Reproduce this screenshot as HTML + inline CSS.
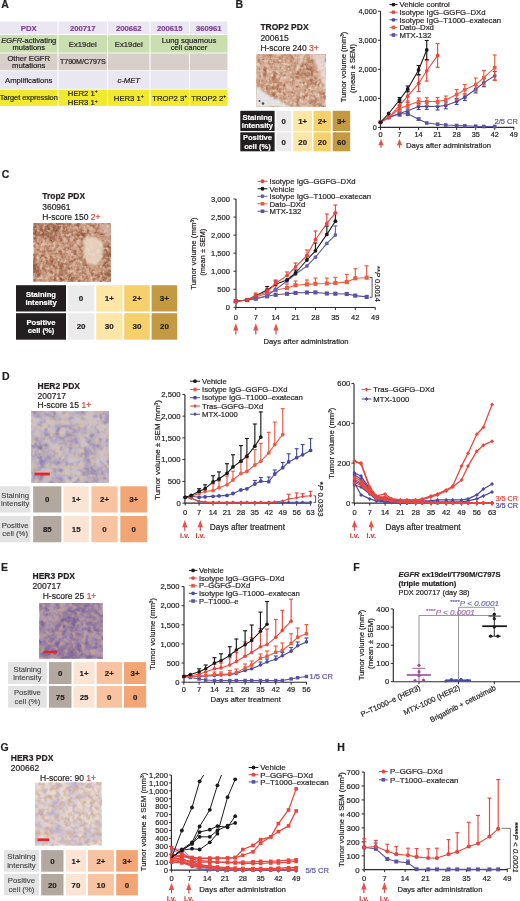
<!DOCTYPE html>
<html><head><meta charset="utf-8"><title>Figure</title><style>html,body{margin:0;padding:0;background:#fff;}body{width:520px;height:901px;overflow:hidden;}svg{display:block;}</style></head><body>
<svg width="520" height="901" viewBox="0 0 520 901" font-family='"Liberation Sans", Arial, Helvetica, sans-serif' font-size="7.5" fill="#231f20"><defs><filter id="texB0" x="0" y="0" width="1" height="1" color-interpolation-filters="sRGB"><feTurbulence type="fractalNoise" baseFrequency="0.05" numOctaves="2" seed="3"/><feColorMatrix type="matrix" values="0 0 0 0 0.659 0 0 0 0 0.408 0 0 0 0 0.282 1.8 0 0 0 -0.8"/></filter><filter id="texB1" x="0" y="0" width="1" height="1" color-interpolation-filters="sRGB"><feTurbulence type="fractalNoise" baseFrequency="0.22" numOctaves="2" seed="4"/><feColorMatrix type="matrix" values="0 0 0 0 0.612 0 0 0 0 0.361 0 0 0 0 0.243 2.1 0 0 0 -0.9"/></filter><filter id="texB2" x="0" y="0" width="1" height="1" color-interpolation-filters="sRGB"><feTurbulence type="fractalNoise" baseFrequency="0.3" numOctaves="2" seed="5"/><feColorMatrix type="matrix" values="0 0 0 0 0.941 0 0 0 0 0.863 0 0 0 0 0.800 0 2.0 0 0 -0.85"/></filter><filter id="texC0" x="0" y="0" width="1" height="1" color-interpolation-filters="sRGB"><feTurbulence type="fractalNoise" baseFrequency="0.05" numOctaves="2" seed="6"/><feColorMatrix type="matrix" values="0 0 0 0 0.541 0 0 0 0 0.298 0 0 0 0 0.188 1.9 0 0 0 -0.8"/></filter><filter id="texC1" x="0" y="0" width="1" height="1" color-interpolation-filters="sRGB"><feTurbulence type="fractalNoise" baseFrequency="0.22" numOctaves="2" seed="7"/><feColorMatrix type="matrix" values="0 0 0 0 0.541 0 0 0 0 0.290 0 0 0 0 0.188 2.2 0 0 0 -0.9"/></filter><filter id="texC2" x="0" y="0" width="1" height="1" color-interpolation-filters="sRGB"><feTurbulence type="fractalNoise" baseFrequency="0.3" numOctaves="2" seed="8"/><feColorMatrix type="matrix" values="0 0 0 0 0.925 0 0 0 0 0.839 0 0 0 0 0.769 0 2.0 0 0 -0.85"/></filter><filter id="texD0" x="0" y="0" width="1" height="1" color-interpolation-filters="sRGB"><feTurbulence type="fractalNoise" baseFrequency="0.06" numOctaves="2" seed="9"/><feColorMatrix type="matrix" values="0 0 0 0 0.565 0 0 0 0 0.518 0 0 0 0 0.706 2.0 0 0 0 -0.8"/></filter><filter id="texD1" x="0" y="0" width="1" height="1" color-interpolation-filters="sRGB"><feTurbulence type="fractalNoise" baseFrequency="0.16" numOctaves="2" seed="10"/><feColorMatrix type="matrix" values="0 0 0 0 0.502 0 0 0 0 0.447 0 0 0 0 0.659 1.8 0 0 0 -0.8"/></filter><filter id="texD2" x="0" y="0" width="1" height="1" color-interpolation-filters="sRGB"><feTurbulence type="fractalNoise" baseFrequency="0.2" numOctaves="2" seed="11"/><feColorMatrix type="matrix" values="0 0 0 0 0.847 0 0 0 0 0.761 0 0 0 0 0.659 0 2.2 0 0 -0.85"/></filter><filter id="texE0" x="0" y="0" width="1" height="1" color-interpolation-filters="sRGB"><feTurbulence type="fractalNoise" baseFrequency="0.05" numOctaves="2" seed="12"/><feColorMatrix type="matrix" values="0 0 0 0 0.478 0 0 0 0 0.369 0 0 0 0 0.596 2.0 0 0 0 -0.7"/></filter><filter id="texE1" x="0" y="0" width="1" height="1" color-interpolation-filters="sRGB"><feTurbulence type="fractalNoise" baseFrequency="0.18" numOctaves="2" seed="13"/><feColorMatrix type="matrix" values="0 0 0 0 0.431 0 0 0 0 0.337 0 0 0 0 0.580 2.0 0 0 0 -0.8"/></filter><filter id="texE2" x="0" y="0" width="1" height="1" color-interpolation-filters="sRGB"><feTurbulence type="fractalNoise" baseFrequency="0.22" numOctaves="2" seed="14"/><feColorMatrix type="matrix" values="0 0 0 0 0.792 0 0 0 0 0.659 0 0 0 0 0.565 0 2.0 0 0 -0.8"/></filter><filter id="texG0" x="0" y="0" width="1" height="1" color-interpolation-filters="sRGB"><feTurbulence type="fractalNoise" baseFrequency="0.05" numOctaves="2" seed="15"/><feColorMatrix type="matrix" values="0 0 0 0 0.706 0 0 0 0 0.659 0 0 0 0 0.824 1.8 0 0 0 -0.75"/></filter><filter id="texG1" x="0" y="0" width="1" height="1" color-interpolation-filters="sRGB"><feTurbulence type="fractalNoise" baseFrequency="0.18" numOctaves="2" seed="16"/><feColorMatrix type="matrix" values="0 0 0 0 0.667 0 0 0 0 0.612 0 0 0 0 0.784 1.8 0 0 0 -0.85"/></filter><filter id="texG2" x="0" y="0" width="1" height="1" color-interpolation-filters="sRGB"><feTurbulence type="fractalNoise" baseFrequency="0.22" numOctaves="2" seed="17"/><feColorMatrix type="matrix" values="0 0 0 0 0.816 0 0 0 0 0.659 0 0 0 0 0.518 0 2.0 0 0 -0.85"/></filter><filter id="soft" x="-5%" y="-5%" width="110%" height="110%"><feGaussianBlur stdDeviation="0.8"/></filter></defs><text x="1.3" y="7.8" font-size="10.5" font-weight="bold" stroke="#231f20" stroke-width="0.2">A</text>
<rect x="0" y="21.5" width="57.5" height="12.7" fill="#ebe7f1" />
<text x="28.75" y="30.62" font-size="7.7" fill="#7a3f96" text-anchor="middle" font-weight="bold" stroke="#7a3f96" stroke-width="0.2">PDX</text>
<rect x="58.5" y="21.5" width="48.5" height="12.7" fill="#ebe7f1" />
<text x="82.75" y="30.62" font-size="7.7" fill="#7a3f96" text-anchor="middle" font-weight="bold" stroke="#7a3f96" stroke-width="0.2">200717</text>
<rect x="108" y="21.5" width="41.5" height="12.7" fill="#ebe7f1" />
<text x="128.75" y="30.62" font-size="7.7" fill="#7a3f96" text-anchor="middle" font-weight="bold" stroke="#7a3f96" stroke-width="0.2">200662</text>
<rect x="150.5" y="21.5" width="38.5" height="12.7" fill="#ebe7f1" />
<text x="169.75" y="30.62" font-size="7.7" fill="#7a3f96" text-anchor="middle" font-weight="bold" stroke="#7a3f96" stroke-width="0.2">200615</text>
<rect x="190" y="21.5" width="37.5" height="12.7" fill="#ebe7f1" />
<text x="208.75" y="30.62" font-size="7.7" fill="#7a3f96" text-anchor="middle" font-weight="bold" stroke="#7a3f96" stroke-width="0.2">360961</text>
<rect x="0" y="35" width="57.5" height="17.6" fill="#c9dfb0" />
<text x="28.75" y="42.8" text-anchor="middle" stroke="#231f20" stroke-width="0.2"><tspan font-style="italic">EGFR</tspan>-activating</text>
<text x="28.75" y="50.2" text-anchor="middle" stroke="#231f20" stroke-width="0.2">mutations</text>
<rect x="58.5" y="35" width="48.5" height="17.6" fill="#c9dfb0" />
<text x="82.75" y="46.57" font-size="7.7" text-anchor="middle" stroke="#231f20" stroke-width="0.2">Ex19del</text>
<rect x="108" y="35" width="41.5" height="17.6" fill="#c9dfb0" />
<text x="128.75" y="46.57" font-size="7.7" text-anchor="middle" stroke="#231f20" stroke-width="0.2">Ex19del</text>
<rect x="150.5" y="35" width="77" height="17.6" fill="#c9dfb0" />
<text x="189" y="42.77" font-size="7.7" text-anchor="middle" stroke="#231f20" stroke-width="0.2">Lung squamous</text>
<text x="189" y="50.37" font-size="7.7" text-anchor="middle" stroke="#231f20" stroke-width="0.2">cell cancer</text>
<rect x="0" y="53.4" width="57.5" height="16.9" fill="#d7cfc9" />
<text x="28.75" y="60.82" font-size="7.7" text-anchor="middle" stroke="#231f20" stroke-width="0.2">Other EGFR</text>
<text x="28.75" y="68.42" font-size="7.7" text-anchor="middle" stroke="#231f20" stroke-width="0.2">mutations</text>
<rect x="58.5" y="53.4" width="48.5" height="16.9" fill="#d7cfc9" />
<text x="82.75" y="64.41" font-size="7.1" text-anchor="middle" stroke="#231f20" stroke-width="0.2">T790M/C797S</text>
<rect x="108" y="53.4" width="41.5" height="16.9" fill="#d7cfc9" />
<rect x="150.5" y="53.4" width="38.5" height="16.9" fill="#d7cfc9" />
<rect x="190" y="53.4" width="37.5" height="16.9" fill="#d7cfc9" />
<rect x="0" y="71.1" width="57.5" height="17.7" fill="#e9e7f1" />
<text x="28.75" y="82.72" font-size="7.7" text-anchor="middle" stroke="#231f20" stroke-width="0.2">Amplifications</text>
<rect x="58.5" y="71.1" width="48.5" height="17.7" fill="#e9e7f1" />
<rect x="108" y="71.1" width="41.5" height="17.7" fill="#e9e7f1" />
<text x="128.75" y="82.72" font-size="7.7" text-anchor="middle" font-style="italic" stroke="#231f20" stroke-width="0.2">c-MET</text>
<rect x="150.5" y="71.1" width="38.5" height="17.7" fill="#e9e7f1" />
<rect x="190" y="71.1" width="37.5" height="17.7" fill="#e9e7f1" />
<rect x="0" y="89.6" width="57.5" height="16.3" fill="#f1e92e" />
<text x="28.75" y="100.4" font-size="7.35" text-anchor="middle" stroke="#231f20" stroke-width="0.2">Target expression</text>
<rect x="58.5" y="89.6" width="48.5" height="16.3" fill="#f1e92e" />
<text x="82.75" y="95.82" font-size="7.7" text-anchor="middle" stroke="#231f20" stroke-width="0.2">HER2 1<tspan font-size="5" dy="-2.6">+</tspan></text>
<text x="82.75" y="105.22" font-size="7.7" text-anchor="middle" stroke="#231f20" stroke-width="0.2">HER3 1<tspan font-size="5" dy="-2.6">+</tspan></text>
<rect x="108" y="89.6" width="41.5" height="16.3" fill="#f1e92e" />
<text x="128.75" y="100.52" font-size="7.7" text-anchor="middle" stroke="#231f20" stroke-width="0.2">HER3 1<tspan font-size="5" dy="-2.6">+</tspan></text>
<rect x="150.5" y="89.6" width="38.5" height="16.3" fill="#f1e92e" />
<text x="169.75" y="100.52" font-size="7.7" text-anchor="middle" stroke="#231f20" stroke-width="0.2">TROP2 3<tspan font-size="5" dy="-2.6">+</tspan></text>
<rect x="190" y="89.6" width="37.5" height="16.3" fill="#f1e92e" />
<text x="208.75" y="100.52" font-size="7.7" text-anchor="middle" stroke="#231f20" stroke-width="0.2">TROP2 2<tspan font-size="5" dy="-2.6">+</tspan></text>
<text x="235.6" y="7.8" font-size="10.5" font-weight="bold" stroke="#231f20" stroke-width="0.2">B</text>
<text x="260.4" y="30" font-size="8.5" font-weight="bold" stroke="#231f20" stroke-width="0.2">TROP2 PDX</text>
<text x="260.4" y="40.6" font-size="8.5" stroke="#231f20" stroke-width="0.2">200615</text>
<text x="260.4" y="50.6" font-size="8.5" stroke="#231f20" stroke-width="0.2">H-score 240 <tspan fill="#d9453d" stroke="#d9453d">3+</tspan></text>
<g><rect x="256.2" y="54.2" width="69.2" height="52.5" fill="#d4ac94"/><rect x="256.2" y="54.2" width="69.2" height="52.5" filter="url(#texB0)"/><rect x="256.2" y="54.2" width="69.2" height="52.5" filter="url(#texB1)"/><rect x="256.2" y="54.2" width="69.2" height="52.5" filter="url(#texB2)"/><clipPath id="cptexB"><rect x="256.2" y="54.2" width="69.2" height="52.5"/></clipPath><g clip-path="url(#cptexB)"><g filter="url(#soft)" opacity="0.88"><path d="M255,84.5 C261,89.5 265,93.5 270,96 C276,99 282,102.5 291,107.5 L255,107.5 Z" fill="#e8eef0"/><path d="M311,53 L326,53 L326,92 C323.5,84 320.5,76 317,68 C315,62 313,57 311,53 Z" fill="#efe2e4" opacity="0.85"/><path d="M304,53 C301.5,60 298.5,66 295.5,72" stroke="#f6ece4" stroke-width="2" fill="none"/></g></g><circle cx="259.5" cy="101" r="1.1" fill="#6a5048"/><circle cx="263" cy="103.5" r="1.3" fill="#5a4038"/></g>
<rect x="240.3" y="110.8" width="34.3" height="20.2" fill="#231f20" />
<text x="257.45" y="119.53" font-size="7.6" fill="#ffffff" text-anchor="middle" font-weight="bold" stroke="#ffffff" stroke-width="0.2">Staining</text>
<text x="257.45" y="127.74" font-size="7.6" fill="#ffffff" text-anchor="middle" font-weight="bold" stroke="#ffffff" stroke-width="0.2">intensity</text>
<rect x="240.3" y="132.3" width="34.3" height="19" fill="#231f20" />
<text x="257.45" y="140.43" font-size="7.6" fill="#ffffff" text-anchor="middle" font-weight="bold" stroke="#ffffff" stroke-width="0.2">Positive</text>
<text x="257.45" y="148.64" font-size="7.6" fill="#ffffff" text-anchor="middle" font-weight="bold" stroke="#ffffff" stroke-width="0.2">cell (%)</text>
<rect x="276.3" y="110.8" width="15" height="20.2" fill="#ebebeb" />
<text x="283.8" y="123.74" font-size="7.9" text-anchor="middle" font-weight="bold" stroke="#231f20" stroke-width="0.2">0</text>
<rect x="276.3" y="132.3" width="15" height="19" fill="#ebebeb" />
<text x="283.8" y="144.64" font-size="7.9" text-anchor="middle" font-weight="bold" stroke="#231f20" stroke-width="0.2">0</text>
<rect x="293.3" y="110.8" width="18.7" height="20.2" fill="#fde6a6" />
<text x="302.65" y="123.74" font-size="7.9" text-anchor="middle" font-weight="bold" stroke="#231f20" stroke-width="0.2">1+</text>
<rect x="293.3" y="132.3" width="18.7" height="19" fill="#fde6a6" />
<text x="302.65" y="144.64" font-size="7.9" text-anchor="middle" font-weight="bold" stroke="#231f20" stroke-width="0.2">20</text>
<rect x="313.5" y="110.8" width="17.3" height="20.2" fill="#f6d06a" />
<text x="322.15" y="123.74" font-size="7.9" text-anchor="middle" font-weight="bold" stroke="#231f20" stroke-width="0.2">2+</text>
<rect x="313.5" y="132.3" width="17.3" height="19" fill="#f6d06a" />
<text x="322.15" y="144.64" font-size="7.9" text-anchor="middle" font-weight="bold" stroke="#231f20" stroke-width="0.2">20</text>
<rect x="332.7" y="110.8" width="17.5" height="20.2" fill="#c39a42" />
<text x="341.45" y="123.74" font-size="7.9" text-anchor="middle" font-weight="bold" stroke="#231f20" stroke-width="0.2">3+</text>
<rect x="332.7" y="132.3" width="17.5" height="19" fill="#c39a42" />
<text x="341.45" y="144.64" font-size="7.9" text-anchor="middle" font-weight="bold" stroke="#231f20" stroke-width="0.2">60</text>
<line x1="380.5" y1="11.2" x2="380.5" y2="127.9" stroke="#2b2b2b" stroke-width="1.15" />
<line x1="378" y1="127.4" x2="380.5" y2="127.4" stroke="#2b2b2b" stroke-width="1" />
<text x="376.8" y="130.03" font-size="7.3" text-anchor="end" stroke="#231f20" stroke-width="0.2">0</text>
<line x1="378" y1="98.35" x2="380.5" y2="98.35" stroke="#2b2b2b" stroke-width="1" />
<text x="376.8" y="100.98" font-size="7.3" text-anchor="end" stroke="#231f20" stroke-width="0.2">1,000</text>
<line x1="378" y1="69.3" x2="380.5" y2="69.3" stroke="#2b2b2b" stroke-width="1" />
<text x="376.8" y="71.93" font-size="7.3" text-anchor="end" stroke="#231f20" stroke-width="0.2">2,000</text>
<line x1="378" y1="40.25" x2="380.5" y2="40.25" stroke="#2b2b2b" stroke-width="1" />
<text x="376.8" y="42.88" font-size="7.3" text-anchor="end" stroke="#231f20" stroke-width="0.2">3,000</text>
<line x1="378" y1="11.2" x2="380.5" y2="11.2" stroke="#2b2b2b" stroke-width="1" />
<text x="376.8" y="13.83" font-size="7.3" text-anchor="end" stroke="#231f20" stroke-width="0.2">4,000</text>
<line x1="380.5" y1="127.4" x2="514.2" y2="127.4" stroke="#2b2b2b" stroke-width="1.15" />
<line x1="380.5" y1="127.4" x2="380.5" y2="129.9" stroke="#2b2b2b" stroke-width="1" />
<text x="380.5" y="137.03" font-size="7.3" text-anchor="middle" stroke="#231f20" stroke-width="0.2">0</text>
<line x1="399.54" y1="127.4" x2="399.54" y2="129.9" stroke="#2b2b2b" stroke-width="1" />
<text x="399.54" y="137.03" font-size="7.3" text-anchor="middle" stroke="#231f20" stroke-width="0.2">7</text>
<line x1="418.58" y1="127.4" x2="418.58" y2="129.9" stroke="#2b2b2b" stroke-width="1" />
<text x="418.58" y="137.03" font-size="7.3" text-anchor="middle" stroke="#231f20" stroke-width="0.2">14</text>
<line x1="437.62" y1="127.4" x2="437.62" y2="129.9" stroke="#2b2b2b" stroke-width="1" />
<text x="437.62" y="137.03" font-size="7.3" text-anchor="middle" stroke="#231f20" stroke-width="0.2">21</text>
<line x1="456.66" y1="127.4" x2="456.66" y2="129.9" stroke="#2b2b2b" stroke-width="1" />
<text x="456.66" y="137.03" font-size="7.3" text-anchor="middle" stroke="#231f20" stroke-width="0.2">28</text>
<line x1="475.7" y1="127.4" x2="475.7" y2="129.9" stroke="#2b2b2b" stroke-width="1" />
<text x="475.7" y="137.03" font-size="7.3" text-anchor="middle" stroke="#231f20" stroke-width="0.2">35</text>
<line x1="494.74" y1="127.4" x2="494.74" y2="129.9" stroke="#2b2b2b" stroke-width="1" />
<text x="494.74" y="137.03" font-size="7.3" text-anchor="middle" stroke="#231f20" stroke-width="0.2">42</text>
<line x1="513.78" y1="127.4" x2="513.78" y2="129.9" stroke="#2b2b2b" stroke-width="1" />
<text x="513.78" y="137.03" font-size="7.3" text-anchor="middle" stroke="#231f20" stroke-width="0.2">49</text>
<text transform="translate(346.01,67) rotate(-90)" font-size="7.6" text-anchor="middle" stroke="#231f20" stroke-width="0.2">Tumor volume (mm³)</text>
<text transform="translate(355.41,68.5) rotate(-90)" font-size="7.6" text-anchor="middle" stroke="#231f20" stroke-width="0.2">(mean ± SEM)</text>
<line x1="381" y1="144.81" x2="381" y2="147.8" stroke="#c8524c" stroke-width="1.2"/>
<polygon points="381,138.9 383.65,145.31 378.35,145.31" fill="#e6524a"/>
<line x1="399.5" y1="144.81" x2="399.5" y2="147.8" stroke="#c8524c" stroke-width="1.2"/>
<polygon points="399.5,138.9 402.15,145.31 396.85,145.31" fill="#e6524a"/>
<text x="406" y="148.2" font-size="7.7" stroke="#231f20" stroke-width="0.2">Days after administration</text>
<line x1="399.54" y1="113.8" x2="399.54" y2="112" stroke="#5b52a3" stroke-width="1.15" />
<line x1="397.54" y1="112" x2="401.54" y2="112" stroke="#5b52a3" stroke-width="1.15" />
<line x1="399.54" y1="113.8" x2="399.54" y2="115.6" stroke="#5b52a3" stroke-width="1.15" />
<line x1="397.54" y1="115.6" x2="401.54" y2="115.6" stroke="#5b52a3" stroke-width="1.15" />
<line x1="407.7" y1="113.8" x2="407.7" y2="112" stroke="#5b52a3" stroke-width="1.15" />
<line x1="405.7" y1="112" x2="409.7" y2="112" stroke="#5b52a3" stroke-width="1.15" />
<line x1="407.7" y1="113.8" x2="407.7" y2="115.6" stroke="#5b52a3" stroke-width="1.15" />
<line x1="405.7" y1="115.6" x2="409.7" y2="115.6" stroke="#5b52a3" stroke-width="1.15" />
<line x1="418.58" y1="119.2" x2="418.58" y2="118" stroke="#5b52a3" stroke-width="1.15" />
<line x1="416.58" y1="118" x2="420.58" y2="118" stroke="#5b52a3" stroke-width="1.15" />
<line x1="418.58" y1="119.2" x2="418.58" y2="120.4" stroke="#5b52a3" stroke-width="1.15" />
<line x1="416.58" y1="120.4" x2="420.58" y2="120.4" stroke="#5b52a3" stroke-width="1.15" />
<polyline points="380.5,122.3 388.66,117.4 399.54,113.8 407.7,113.8 418.58,119.2 426.74,123 437.62,124.2 445.78,125 456.66,125.5 464.82,125.8 475.7,126.2 483.86,126.5 494.74,126.5" fill="none" stroke="#5b52a3" stroke-width="1.1" stroke-linejoin="round" />
<rect x="378.7" y="120.5" width="3.6" height="3.6" fill="#5b52a3"/>
<rect x="386.86" y="115.6" width="3.6" height="3.6" fill="#5b52a3"/>
<rect x="397.74" y="112" width="3.6" height="3.6" fill="#5b52a3"/>
<rect x="405.9" y="112" width="3.6" height="3.6" fill="#5b52a3"/>
<rect x="416.78" y="117.4" width="3.6" height="3.6" fill="#5b52a3"/>
<rect x="424.94" y="121.2" width="3.6" height="3.6" fill="#5b52a3"/>
<rect x="435.82" y="122.4" width="3.6" height="3.6" fill="#5b52a3"/>
<rect x="443.98" y="123.2" width="3.6" height="3.6" fill="#5b52a3"/>
<rect x="454.86" y="123.7" width="3.6" height="3.6" fill="#5b52a3"/>
<rect x="463.02" y="124" width="3.6" height="3.6" fill="#5b52a3"/>
<rect x="473.9" y="124.4" width="3.6" height="3.6" fill="#5b52a3"/>
<rect x="482.06" y="124.7" width="3.6" height="3.6" fill="#5b52a3"/>
<rect x="492.94" y="124.7" width="3.6" height="3.6" fill="#5b52a3"/>
<line x1="399.54" y1="113.5" x2="399.54" y2="111" stroke="#4a4aa2" stroke-width="1.15" />
<line x1="397.54" y1="111" x2="401.54" y2="111" stroke="#4a4aa2" stroke-width="1.15" />
<line x1="399.54" y1="113.5" x2="399.54" y2="116" stroke="#4a4aa2" stroke-width="1.15" />
<line x1="397.54" y1="116" x2="401.54" y2="116" stroke="#4a4aa2" stroke-width="1.15" />
<line x1="407.7" y1="110.8" x2="407.7" y2="108" stroke="#4a4aa2" stroke-width="1.15" />
<line x1="405.7" y1="108" x2="409.7" y2="108" stroke="#4a4aa2" stroke-width="1.15" />
<line x1="407.7" y1="110.8" x2="407.7" y2="113.6" stroke="#4a4aa2" stroke-width="1.15" />
<line x1="405.7" y1="113.6" x2="409.7" y2="113.6" stroke="#4a4aa2" stroke-width="1.15" />
<line x1="418.58" y1="106.5" x2="418.58" y2="103.5" stroke="#4a4aa2" stroke-width="1.15" />
<line x1="416.58" y1="103.5" x2="420.58" y2="103.5" stroke="#4a4aa2" stroke-width="1.15" />
<line x1="418.58" y1="106.5" x2="418.58" y2="109.5" stroke="#4a4aa2" stroke-width="1.15" />
<line x1="416.58" y1="109.5" x2="420.58" y2="109.5" stroke="#4a4aa2" stroke-width="1.15" />
<line x1="426.74" y1="106.2" x2="426.74" y2="103" stroke="#4a4aa2" stroke-width="1.15" />
<line x1="424.74" y1="103" x2="428.74" y2="103" stroke="#4a4aa2" stroke-width="1.15" />
<line x1="426.74" y1="106.2" x2="426.74" y2="109.4" stroke="#4a4aa2" stroke-width="1.15" />
<line x1="424.74" y1="109.4" x2="428.74" y2="109.4" stroke="#4a4aa2" stroke-width="1.15" />
<line x1="437.62" y1="106.5" x2="437.62" y2="103" stroke="#4a4aa2" stroke-width="1.15" />
<line x1="435.62" y1="103" x2="439.62" y2="103" stroke="#4a4aa2" stroke-width="1.15" />
<line x1="437.62" y1="106.5" x2="437.62" y2="110" stroke="#4a4aa2" stroke-width="1.15" />
<line x1="435.62" y1="110" x2="439.62" y2="110" stroke="#4a4aa2" stroke-width="1.15" />
<line x1="445.78" y1="105.4" x2="445.78" y2="102" stroke="#4a4aa2" stroke-width="1.15" />
<line x1="443.78" y1="102" x2="447.78" y2="102" stroke="#4a4aa2" stroke-width="1.15" />
<line x1="445.78" y1="105.4" x2="445.78" y2="108.8" stroke="#4a4aa2" stroke-width="1.15" />
<line x1="443.78" y1="108.8" x2="447.78" y2="108.8" stroke="#4a4aa2" stroke-width="1.15" />
<line x1="456.66" y1="101.5" x2="456.66" y2="98.5" stroke="#4a4aa2" stroke-width="1.15" />
<line x1="454.66" y1="98.5" x2="458.66" y2="98.5" stroke="#4a4aa2" stroke-width="1.15" />
<line x1="456.66" y1="101.5" x2="456.66" y2="104.5" stroke="#4a4aa2" stroke-width="1.15" />
<line x1="454.66" y1="104.5" x2="458.66" y2="104.5" stroke="#4a4aa2" stroke-width="1.15" />
<line x1="464.82" y1="97.2" x2="464.82" y2="94" stroke="#4a4aa2" stroke-width="1.15" />
<line x1="462.82" y1="94" x2="466.82" y2="94" stroke="#4a4aa2" stroke-width="1.15" />
<line x1="464.82" y1="97.2" x2="464.82" y2="100.4" stroke="#4a4aa2" stroke-width="1.15" />
<line x1="462.82" y1="100.4" x2="466.82" y2="100.4" stroke="#4a4aa2" stroke-width="1.15" />
<line x1="475.7" y1="89.2" x2="475.7" y2="85.5" stroke="#4a4aa2" stroke-width="1.15" />
<line x1="473.7" y1="85.5" x2="477.7" y2="85.5" stroke="#4a4aa2" stroke-width="1.15" />
<line x1="475.7" y1="89.2" x2="475.7" y2="92.9" stroke="#4a4aa2" stroke-width="1.15" />
<line x1="473.7" y1="92.9" x2="477.7" y2="92.9" stroke="#4a4aa2" stroke-width="1.15" />
<line x1="483.86" y1="82.6" x2="483.86" y2="78.5" stroke="#4a4aa2" stroke-width="1.15" />
<line x1="481.86" y1="78.5" x2="485.86" y2="78.5" stroke="#4a4aa2" stroke-width="1.15" />
<line x1="483.86" y1="82.6" x2="483.86" y2="86.7" stroke="#4a4aa2" stroke-width="1.15" />
<line x1="481.86" y1="86.7" x2="485.86" y2="86.7" stroke="#4a4aa2" stroke-width="1.15" />
<line x1="494.74" y1="75.8" x2="494.74" y2="71.5" stroke="#4a4aa2" stroke-width="1.15" />
<line x1="492.74" y1="71.5" x2="496.74" y2="71.5" stroke="#4a4aa2" stroke-width="1.15" />
<line x1="494.74" y1="75.8" x2="494.74" y2="80.1" stroke="#4a4aa2" stroke-width="1.15" />
<line x1="492.74" y1="80.1" x2="496.74" y2="80.1" stroke="#4a4aa2" stroke-width="1.15" />
<polyline points="380.5,122.3 388.66,117.4 399.54,113.5 407.7,110.8 418.58,106.5 426.74,106.2 437.62,106.5 445.78,105.4 456.66,101.5 464.82,97.2 475.7,89.2 483.86,82.6 494.74,75.8" fill="none" stroke="#4a4aa2" stroke-width="1.1" stroke-linejoin="round" />
<circle cx="380.5" cy="122.3" r="1.9" fill="#4a4aa2"/>
<circle cx="388.66" cy="117.4" r="1.9" fill="#4a4aa2"/>
<circle cx="399.54" cy="113.5" r="1.9" fill="#4a4aa2"/>
<circle cx="407.7" cy="110.8" r="1.9" fill="#4a4aa2"/>
<circle cx="418.58" cy="106.5" r="1.9" fill="#4a4aa2"/>
<circle cx="426.74" cy="106.2" r="1.9" fill="#4a4aa2"/>
<circle cx="437.62" cy="106.5" r="1.9" fill="#4a4aa2"/>
<circle cx="445.78" cy="105.4" r="1.9" fill="#4a4aa2"/>
<circle cx="456.66" cy="101.5" r="1.9" fill="#4a4aa2"/>
<circle cx="464.82" cy="97.2" r="1.9" fill="#4a4aa2"/>
<circle cx="475.7" cy="89.2" r="1.9" fill="#4a4aa2"/>
<circle cx="483.86" cy="82.6" r="1.9" fill="#4a4aa2"/>
<circle cx="494.74" cy="75.8" r="1.9" fill="#4a4aa2"/>
<line x1="399.54" y1="108.5" x2="399.54" y2="105" stroke="#ee5a3e" stroke-width="1.15" />
<line x1="397.54" y1="105" x2="401.54" y2="105" stroke="#ee5a3e" stroke-width="1.15" />
<line x1="399.54" y1="108.5" x2="399.54" y2="112" stroke="#ee5a3e" stroke-width="1.15" />
<line x1="397.54" y1="112" x2="401.54" y2="112" stroke="#ee5a3e" stroke-width="1.15" />
<line x1="407.7" y1="105.4" x2="407.7" y2="101" stroke="#ee5a3e" stroke-width="1.15" />
<line x1="405.7" y1="101" x2="409.7" y2="101" stroke="#ee5a3e" stroke-width="1.15" />
<line x1="407.7" y1="105.4" x2="407.7" y2="109.8" stroke="#ee5a3e" stroke-width="1.15" />
<line x1="405.7" y1="109.8" x2="409.7" y2="109.8" stroke="#ee5a3e" stroke-width="1.15" />
<line x1="418.58" y1="101.5" x2="418.58" y2="98" stroke="#ee5a3e" stroke-width="1.15" />
<line x1="416.58" y1="98" x2="420.58" y2="98" stroke="#ee5a3e" stroke-width="1.15" />
<line x1="418.58" y1="101.5" x2="418.58" y2="105" stroke="#ee5a3e" stroke-width="1.15" />
<line x1="416.58" y1="105" x2="420.58" y2="105" stroke="#ee5a3e" stroke-width="1.15" />
<line x1="426.74" y1="101.5" x2="426.74" y2="97.5" stroke="#ee5a3e" stroke-width="1.15" />
<line x1="424.74" y1="97.5" x2="428.74" y2="97.5" stroke="#ee5a3e" stroke-width="1.15" />
<line x1="426.74" y1="101.5" x2="426.74" y2="105.5" stroke="#ee5a3e" stroke-width="1.15" />
<line x1="424.74" y1="105.5" x2="428.74" y2="105.5" stroke="#ee5a3e" stroke-width="1.15" />
<line x1="437.62" y1="101.5" x2="437.62" y2="97.5" stroke="#ee5a3e" stroke-width="1.15" />
<line x1="435.62" y1="97.5" x2="439.62" y2="97.5" stroke="#ee5a3e" stroke-width="1.15" />
<line x1="437.62" y1="101.5" x2="437.62" y2="105.5" stroke="#ee5a3e" stroke-width="1.15" />
<line x1="435.62" y1="105.5" x2="439.62" y2="105.5" stroke="#ee5a3e" stroke-width="1.15" />
<line x1="445.78" y1="100" x2="445.78" y2="96" stroke="#ee5a3e" stroke-width="1.15" />
<line x1="443.78" y1="96" x2="447.78" y2="96" stroke="#ee5a3e" stroke-width="1.15" />
<line x1="445.78" y1="100" x2="445.78" y2="104" stroke="#ee5a3e" stroke-width="1.15" />
<line x1="443.78" y1="104" x2="447.78" y2="104" stroke="#ee5a3e" stroke-width="1.15" />
<line x1="456.66" y1="94.6" x2="456.66" y2="89.5" stroke="#ee5a3e" stroke-width="1.15" />
<line x1="454.66" y1="89.5" x2="458.66" y2="89.5" stroke="#ee5a3e" stroke-width="1.15" />
<line x1="456.66" y1="94.6" x2="456.66" y2="99.7" stroke="#ee5a3e" stroke-width="1.15" />
<line x1="454.66" y1="99.7" x2="458.66" y2="99.7" stroke="#ee5a3e" stroke-width="1.15" />
<line x1="464.82" y1="89.7" x2="464.82" y2="84.5" stroke="#ee5a3e" stroke-width="1.15" />
<line x1="462.82" y1="84.5" x2="466.82" y2="84.5" stroke="#ee5a3e" stroke-width="1.15" />
<line x1="464.82" y1="89.7" x2="464.82" y2="94.9" stroke="#ee5a3e" stroke-width="1.15" />
<line x1="462.82" y1="94.9" x2="466.82" y2="94.9" stroke="#ee5a3e" stroke-width="1.15" />
<line x1="475.7" y1="84.6" x2="475.7" y2="78" stroke="#ee5a3e" stroke-width="1.15" />
<line x1="473.7" y1="78" x2="477.7" y2="78" stroke="#ee5a3e" stroke-width="1.15" />
<line x1="475.7" y1="84.6" x2="475.7" y2="91.2" stroke="#ee5a3e" stroke-width="1.15" />
<line x1="473.7" y1="91.2" x2="477.7" y2="91.2" stroke="#ee5a3e" stroke-width="1.15" />
<line x1="483.86" y1="77.7" x2="483.86" y2="70.5" stroke="#ee5a3e" stroke-width="1.15" />
<line x1="481.86" y1="70.5" x2="485.86" y2="70.5" stroke="#ee5a3e" stroke-width="1.15" />
<line x1="483.86" y1="77.7" x2="483.86" y2="84.9" stroke="#ee5a3e" stroke-width="1.15" />
<line x1="481.86" y1="84.9" x2="485.86" y2="84.9" stroke="#ee5a3e" stroke-width="1.15" />
<line x1="494.74" y1="67.7" x2="494.74" y2="55" stroke="#ee5a3e" stroke-width="1.15" />
<line x1="492.74" y1="55" x2="496.74" y2="55" stroke="#ee5a3e" stroke-width="1.15" />
<line x1="494.74" y1="67.7" x2="494.74" y2="80.4" stroke="#ee5a3e" stroke-width="1.15" />
<line x1="492.74" y1="80.4" x2="496.74" y2="80.4" stroke="#ee5a3e" stroke-width="1.15" />
<polyline points="380.5,122.3 388.66,117.5 399.54,108.5 407.7,105.4 418.58,101.5 426.74,101.5 437.62,101.5 445.78,100 456.66,94.6 464.82,89.7 475.7,84.6 483.86,77.7 494.74,67.7" fill="none" stroke="#ee5a3e" stroke-width="1.1" stroke-linejoin="round" />
<rect x="378.7" y="120.5" width="3.6" height="3.6" fill="#ee5a3e"/>
<rect x="386.86" y="115.7" width="3.6" height="3.6" fill="#ee5a3e"/>
<rect x="397.74" y="106.7" width="3.6" height="3.6" fill="#ee5a3e"/>
<rect x="405.9" y="103.6" width="3.6" height="3.6" fill="#ee5a3e"/>
<rect x="416.78" y="99.7" width="3.6" height="3.6" fill="#ee5a3e"/>
<rect x="424.94" y="99.7" width="3.6" height="3.6" fill="#ee5a3e"/>
<rect x="435.82" y="99.7" width="3.6" height="3.6" fill="#ee5a3e"/>
<rect x="443.98" y="98.2" width="3.6" height="3.6" fill="#ee5a3e"/>
<rect x="454.86" y="92.8" width="3.6" height="3.6" fill="#ee5a3e"/>
<rect x="463.02" y="87.9" width="3.6" height="3.6" fill="#ee5a3e"/>
<rect x="473.9" y="82.8" width="3.6" height="3.6" fill="#ee5a3e"/>
<rect x="482.06" y="75.9" width="3.6" height="3.6" fill="#ee5a3e"/>
<rect x="492.94" y="65.9" width="3.6" height="3.6" fill="#ee5a3e"/>
<line x1="399.54" y1="105.4" x2="399.54" y2="101" stroke="#e8473f" stroke-width="1.15" />
<line x1="397.54" y1="101" x2="401.54" y2="101" stroke="#e8473f" stroke-width="1.15" />
<line x1="399.54" y1="105.4" x2="399.54" y2="109.8" stroke="#e8473f" stroke-width="1.15" />
<line x1="397.54" y1="109.8" x2="401.54" y2="109.8" stroke="#e8473f" stroke-width="1.15" />
<line x1="407.7" y1="96.2" x2="407.7" y2="90" stroke="#e8473f" stroke-width="1.15" />
<line x1="405.7" y1="90" x2="409.7" y2="90" stroke="#e8473f" stroke-width="1.15" />
<line x1="407.7" y1="96.2" x2="407.7" y2="102.4" stroke="#e8473f" stroke-width="1.15" />
<line x1="405.7" y1="102.4" x2="409.7" y2="102.4" stroke="#e8473f" stroke-width="1.15" />
<line x1="418.58" y1="83.5" x2="418.58" y2="75.4" stroke="#e8473f" stroke-width="1.15" />
<line x1="416.58" y1="75.4" x2="420.58" y2="75.4" stroke="#e8473f" stroke-width="1.15" />
<line x1="418.58" y1="83.5" x2="418.58" y2="91.6" stroke="#e8473f" stroke-width="1.15" />
<line x1="416.58" y1="91.6" x2="420.58" y2="91.6" stroke="#e8473f" stroke-width="1.15" />
<line x1="426.74" y1="70.8" x2="426.74" y2="60.5" stroke="#e8473f" stroke-width="1.15" />
<line x1="424.74" y1="60.5" x2="428.74" y2="60.5" stroke="#e8473f" stroke-width="1.15" />
<line x1="426.74" y1="70.8" x2="426.74" y2="81.1" stroke="#e8473f" stroke-width="1.15" />
<line x1="424.74" y1="81.1" x2="428.74" y2="81.1" stroke="#e8473f" stroke-width="1.15" />
<line x1="437.62" y1="55.4" x2="437.62" y2="43.5" stroke="#e8473f" stroke-width="1.15" />
<line x1="435.62" y1="43.5" x2="439.62" y2="43.5" stroke="#e8473f" stroke-width="1.15" />
<line x1="437.62" y1="55.4" x2="437.62" y2="67.3" stroke="#e8473f" stroke-width="1.15" />
<line x1="435.62" y1="67.3" x2="439.62" y2="67.3" stroke="#e8473f" stroke-width="1.15" />
<polyline points="380.5,122.3 388.66,117.5 399.54,105.4 407.7,96.2 418.58,83.5 426.74,70.8 437.62,55.4" fill="none" stroke="#e8473f" stroke-width="1.1" stroke-linejoin="round" />
<circle cx="380.5" cy="122.3" r="1.9" fill="#e8473f"/>
<circle cx="388.66" cy="117.5" r="1.9" fill="#e8473f"/>
<circle cx="399.54" cy="105.4" r="1.9" fill="#e8473f"/>
<circle cx="407.7" cy="96.2" r="1.9" fill="#e8473f"/>
<circle cx="418.58" cy="83.5" r="1.9" fill="#e8473f"/>
<circle cx="426.74" cy="70.8" r="1.9" fill="#e8473f"/>
<circle cx="437.62" cy="55.4" r="1.9" fill="#e8473f"/>
<line x1="399.54" y1="100" x2="399.54" y2="97.5" stroke="#1a1a1a" stroke-width="1.15" />
<line x1="397.54" y1="97.5" x2="401.54" y2="97.5" stroke="#1a1a1a" stroke-width="1.15" />
<line x1="399.54" y1="100" x2="399.54" y2="102.5" stroke="#1a1a1a" stroke-width="1.15" />
<line x1="397.54" y1="102.5" x2="401.54" y2="102.5" stroke="#1a1a1a" stroke-width="1.15" />
<line x1="407.7" y1="88.9" x2="407.7" y2="86" stroke="#1a1a1a" stroke-width="1.15" />
<line x1="405.7" y1="86" x2="409.7" y2="86" stroke="#1a1a1a" stroke-width="1.15" />
<line x1="407.7" y1="88.9" x2="407.7" y2="91.8" stroke="#1a1a1a" stroke-width="1.15" />
<line x1="405.7" y1="91.8" x2="409.7" y2="91.8" stroke="#1a1a1a" stroke-width="1.15" />
<line x1="418.58" y1="70" x2="418.58" y2="65.5" stroke="#1a1a1a" stroke-width="1.15" />
<line x1="416.58" y1="65.5" x2="420.58" y2="65.5" stroke="#1a1a1a" stroke-width="1.15" />
<line x1="418.58" y1="70" x2="418.58" y2="74.5" stroke="#1a1a1a" stroke-width="1.15" />
<line x1="416.58" y1="74.5" x2="420.58" y2="74.5" stroke="#1a1a1a" stroke-width="1.15" />
<line x1="426.74" y1="50" x2="426.74" y2="40.5" stroke="#1a1a1a" stroke-width="1.15" />
<line x1="424.74" y1="40.5" x2="428.74" y2="40.5" stroke="#1a1a1a" stroke-width="1.15" />
<line x1="426.74" y1="50" x2="426.74" y2="59.5" stroke="#1a1a1a" stroke-width="1.15" />
<line x1="424.74" y1="59.5" x2="428.74" y2="59.5" stroke="#1a1a1a" stroke-width="1.15" />
<polyline points="380.5,122.3 388.66,113.5 399.54,100 407.7,88.9 418.58,70 426.74,50" fill="none" stroke="#1a1a1a" stroke-width="1.1" stroke-linejoin="round" />
<circle cx="380.5" cy="122.3" r="1.9" fill="#1a1a1a"/>
<circle cx="388.66" cy="113.5" r="1.9" fill="#1a1a1a"/>
<circle cx="399.54" cy="100" r="1.9" fill="#1a1a1a"/>
<circle cx="407.7" cy="88.9" r="1.9" fill="#1a1a1a"/>
<circle cx="418.58" cy="70" r="1.9" fill="#1a1a1a"/>
<circle cx="426.74" cy="50" r="1.9" fill="#1a1a1a"/>
<text x="494.6" y="124" fill="#5b52a3" stroke="#5b52a3" stroke-width="0.2">2/5 CR</text>
<line x1="389.4" y1="4.6" x2="397.5" y2="4.6" stroke="#1a1a1a" stroke-width="1" />
<circle cx="393.45" cy="4.6" r="1.9" fill="#1a1a1a"/>
<text x="399.4" y="7.39" font-size="7.75" stroke="#231f20" stroke-width="0.2">Vehicle control</text>
<line x1="389.4" y1="12.2" x2="397.5" y2="12.2" stroke="#e8473f" stroke-width="1" />
<circle cx="393.45" cy="12.2" r="1.9" fill="#e8473f"/>
<text x="399.4" y="14.99" font-size="7.75" stroke="#231f20" stroke-width="0.2">Isotype IgG–GGFG–DXd</text>
<line x1="389.4" y1="19.8" x2="397.5" y2="19.8" stroke="#4a4aa2" stroke-width="1" />
<circle cx="393.45" cy="19.8" r="1.9" fill="#4a4aa2"/>
<text x="399.4" y="22.59" font-size="7.75" stroke="#231f20" stroke-width="0.2">Isotype IgG–T1000–exatecan</text>
<line x1="389.4" y1="27.4" x2="397.5" y2="27.4" stroke="#ee5a3e" stroke-width="1" />
<rect x="391.65" y="25.6" width="3.6" height="3.6" fill="#ee5a3e"/>
<text x="399.4" y="30.19" font-size="7.75" stroke="#231f20" stroke-width="0.2">Dato–Dxd</text>
<line x1="389.4" y1="35" x2="397.5" y2="35" stroke="#5b52a3" stroke-width="1" />
<rect x="391.65" y="33.2" width="3.6" height="3.6" fill="#5b52a3"/>
<text x="399.4" y="37.79" font-size="7.75" stroke="#231f20" stroke-width="0.2">MTX-132</text>
<text x="1.8" y="177.8" font-size="10.5" font-weight="bold" stroke="#231f20" stroke-width="0.2">C</text>
<text x="42.2" y="199.2" font-size="8.5" font-weight="bold" stroke="#231f20" stroke-width="0.2">Trop2 PDX</text>
<text x="42.2" y="210" font-size="8.5" stroke="#231f20" stroke-width="0.2">360961</text>
<text x="42.2" y="219.8" font-size="8.5" stroke="#231f20" stroke-width="0.2">H-score 150 <tspan fill="#d9453d" stroke="#d9453d">2+</tspan></text>
<g><rect x="33.9" y="223.2" width="77" height="58.5" fill="#cc9e84"/><rect x="33.9" y="223.2" width="77" height="58.5" filter="url(#texC0)"/><rect x="33.9" y="223.2" width="77" height="58.5" filter="url(#texC1)"/><rect x="33.9" y="223.2" width="77" height="58.5" filter="url(#texC2)"/><clipPath id="cptexC"><rect x="33.9" y="223.2" width="77" height="58.5"/></clipPath><g clip-path="url(#cptexC)"><g filter="url(#soft)" opacity="0.88"><path d="M86,238 C92,235 100,237 103,244 C105,252 102,262 96,265 C90,266 85,262 84,254 C83,247 83,241 86,238 Z" fill="#ecdac6"/><path d="M99,223.2 L110.9,223.2 L110.9,242 C107,236 103,229 99,223.2 Z" fill="#e2cac2" opacity="0.7"/></g></g></g>
<rect x="16" y="285.2" width="50" height="26.3" fill="#231f20" />
<text x="41" y="296.79" font-size="7.6" fill="#ffffff" text-anchor="middle" font-weight="bold" stroke="#ffffff" stroke-width="0.2">Staining</text>
<text x="41" y="305.39" font-size="7.6" fill="#ffffff" text-anchor="middle" font-weight="bold" stroke="#ffffff" stroke-width="0.2">intensity</text>
<rect x="16" y="313.2" width="50" height="26.5" fill="#231f20" />
<text x="41" y="324.89" font-size="7.6" fill="#ffffff" text-anchor="middle" font-weight="bold" stroke="#ffffff" stroke-width="0.2">Positive</text>
<text x="41" y="333.49" font-size="7.6" fill="#ffffff" text-anchor="middle" font-weight="bold" stroke="#ffffff" stroke-width="0.2">cell (%)</text>
<rect x="67.8" y="285.2" width="26.6" height="26.3" fill="#ebebeb" />
<text x="81.1" y="301.23" font-size="8" text-anchor="middle" font-weight="bold" stroke="#231f20" stroke-width="0.2">0</text>
<rect x="67.8" y="313.2" width="26.6" height="26.5" fill="#ebebeb" />
<text x="81.1" y="329.33" font-size="8" text-anchor="middle" font-weight="bold" stroke="#231f20" stroke-width="0.2">20</text>
<rect x="96.2" y="285.2" width="26.2" height="26.3" fill="#fde6a6" />
<text x="109.3" y="301.23" font-size="8" text-anchor="middle" font-weight="bold" stroke="#231f20" stroke-width="0.2">1+</text>
<rect x="96.2" y="313.2" width="26.2" height="26.5" fill="#fde6a6" />
<text x="109.3" y="329.33" font-size="8" text-anchor="middle" font-weight="bold" stroke="#231f20" stroke-width="0.2">30</text>
<rect x="124.2" y="285.2" width="25.6" height="26.3" fill="#f6d06a" />
<text x="137" y="301.23" font-size="8" text-anchor="middle" font-weight="bold" stroke="#231f20" stroke-width="0.2">2+</text>
<rect x="124.2" y="313.2" width="25.6" height="26.5" fill="#f6d06a" />
<text x="137" y="329.33" font-size="8" text-anchor="middle" font-weight="bold" stroke="#231f20" stroke-width="0.2">30</text>
<rect x="151.6" y="285.2" width="25.6" height="26.3" fill="#c39a42" />
<text x="164.4" y="301.23" font-size="8" text-anchor="middle" font-weight="bold" stroke="#231f20" stroke-width="0.2">3+</text>
<rect x="151.6" y="313.2" width="25.6" height="26.5" fill="#c39a42" />
<text x="164.4" y="329.33" font-size="8" text-anchor="middle" font-weight="bold" stroke="#231f20" stroke-width="0.2">20</text>
<line x1="236" y1="199" x2="236" y2="307.8" stroke="#2b2b2b" stroke-width="1.15" />
<line x1="233.5" y1="307.3" x2="236" y2="307.3" stroke="#2b2b2b" stroke-width="1" />
<text x="229.9" y="310.02" font-size="7.55" text-anchor="end" stroke="#231f20" stroke-width="0.2">0</text>
<line x1="233.5" y1="289.25" x2="236" y2="289.25" stroke="#2b2b2b" stroke-width="1" />
<text x="229.9" y="291.97" font-size="7.55" text-anchor="end" stroke="#231f20" stroke-width="0.2">500</text>
<line x1="233.5" y1="271.2" x2="236" y2="271.2" stroke="#2b2b2b" stroke-width="1" />
<text x="229.9" y="273.92" font-size="7.55" text-anchor="end" stroke="#231f20" stroke-width="0.2">1,000</text>
<line x1="233.5" y1="253.15" x2="236" y2="253.15" stroke="#2b2b2b" stroke-width="1" />
<text x="229.9" y="255.87" font-size="7.55" text-anchor="end" stroke="#231f20" stroke-width="0.2">1,500</text>
<line x1="233.5" y1="235.1" x2="236" y2="235.1" stroke="#2b2b2b" stroke-width="1" />
<text x="229.9" y="237.82" font-size="7.55" text-anchor="end" stroke="#231f20" stroke-width="0.2">2,000</text>
<line x1="233.5" y1="217.05" x2="236" y2="217.05" stroke="#2b2b2b" stroke-width="1" />
<text x="229.9" y="219.77" font-size="7.55" text-anchor="end" stroke="#231f20" stroke-width="0.2">2,500</text>
<line x1="233.5" y1="199" x2="236" y2="199" stroke="#2b2b2b" stroke-width="1" />
<text x="229.9" y="201.72" font-size="7.55" text-anchor="end" stroke="#231f20" stroke-width="0.2">3,000</text>
<line x1="236" y1="307.5" x2="375.4" y2="307.5" stroke="#2b2b2b" stroke-width="1.15" />
<line x1="235.8" y1="307.5" x2="235.8" y2="310" stroke="#2b2b2b" stroke-width="1" />
<text x="235.8" y="319.7" text-anchor="middle" stroke="#231f20" stroke-width="0.2">0</text>
<line x1="255.72" y1="307.5" x2="255.72" y2="310" stroke="#2b2b2b" stroke-width="1" />
<text x="255.72" y="319.7" text-anchor="middle" stroke="#231f20" stroke-width="0.2">7</text>
<line x1="275.63" y1="307.5" x2="275.63" y2="310" stroke="#2b2b2b" stroke-width="1" />
<text x="275.63" y="319.7" text-anchor="middle" stroke="#231f20" stroke-width="0.2">14</text>
<line x1="295.55" y1="307.5" x2="295.55" y2="310" stroke="#2b2b2b" stroke-width="1" />
<text x="295.55" y="319.7" text-anchor="middle" stroke="#231f20" stroke-width="0.2">21</text>
<line x1="315.46" y1="307.5" x2="315.46" y2="310" stroke="#2b2b2b" stroke-width="1" />
<text x="315.46" y="319.7" text-anchor="middle" stroke="#231f20" stroke-width="0.2">28</text>
<line x1="335.38" y1="307.5" x2="335.38" y2="310" stroke="#2b2b2b" stroke-width="1" />
<text x="335.38" y="319.7" text-anchor="middle" stroke="#231f20" stroke-width="0.2">35</text>
<line x1="355.29" y1="307.5" x2="355.29" y2="310" stroke="#2b2b2b" stroke-width="1" />
<text x="355.29" y="319.7" text-anchor="middle" stroke="#231f20" stroke-width="0.2">42</text>
<line x1="375.21" y1="307.5" x2="375.21" y2="310" stroke="#2b2b2b" stroke-width="1" />
<text x="375.21" y="319.7" text-anchor="middle" stroke="#231f20" stroke-width="0.2">49</text>
<text transform="translate(196.37,253.6) rotate(-90)" font-size="7.8" text-anchor="middle" stroke="#231f20" stroke-width="0.2">Tumor volume (mm³)</text>
<text transform="translate(204.61,252.3) rotate(-90)" font-size="7.3" text-anchor="middle" stroke="#231f20" stroke-width="0.2">(mean ± SEM)</text>
<line x1="235.8" y1="330.1" x2="235.8" y2="334.5" stroke="#c8524c" stroke-width="1.2"/>
<polygon points="235.8,323.3 238.45,330.6 233.15,330.6" fill="#e6524a"/>
<line x1="255.8" y1="330.1" x2="255.8" y2="334.5" stroke="#c8524c" stroke-width="1.2"/>
<polygon points="255.8,323.3 258.45,330.6 253.15,330.6" fill="#e6524a"/>
<line x1="276" y1="330.1" x2="276" y2="334.5" stroke="#c8524c" stroke-width="1.2"/>
<polygon points="276,323.3 278.65,330.6 273.35,330.6" fill="#e6524a"/>
<text x="263.5" y="344.3" font-size="7.7" stroke="#231f20" stroke-width="0.2">Days after administration</text>
<polyline points="235.8,301.2 247.18,300 255.72,298.7 267.1,296.3 275.63,294.8 287.01,293.8 295.55,292.9 306.93,292.5 315.46,292.4 326.84,293.5 335.38,293.7 346.75,294 355.29,295.6 366.67,296.9" fill="none" stroke="#5b52a3" stroke-width="1.1" stroke-linejoin="round" />
<rect x="233.73" y="299.13" width="4.14" height="4.14" fill="#5b52a3"/>
<rect x="245.11" y="297.93" width="4.14" height="4.14" fill="#5b52a3"/>
<rect x="253.65" y="296.63" width="4.14" height="4.14" fill="#5b52a3"/>
<rect x="265.03" y="294.23" width="4.14" height="4.14" fill="#5b52a3"/>
<rect x="273.56" y="292.73" width="4.14" height="4.14" fill="#5b52a3"/>
<rect x="284.94" y="291.73" width="4.14" height="4.14" fill="#5b52a3"/>
<rect x="293.48" y="290.83" width="4.14" height="4.14" fill="#5b52a3"/>
<rect x="304.86" y="290.43" width="4.14" height="4.14" fill="#5b52a3"/>
<rect x="313.39" y="290.33" width="4.14" height="4.14" fill="#5b52a3"/>
<rect x="324.77" y="291.43" width="4.14" height="4.14" fill="#5b52a3"/>
<rect x="333.31" y="291.63" width="4.14" height="4.14" fill="#5b52a3"/>
<rect x="344.69" y="291.93" width="4.14" height="4.14" fill="#5b52a3"/>
<rect x="353.22" y="293.53" width="4.14" height="4.14" fill="#5b52a3"/>
<rect x="364.6" y="294.83" width="4.14" height="4.14" fill="#5b52a3"/>
<line x1="255.72" y1="297" x2="255.72" y2="294" stroke="#ee5a3e" stroke-width="1.15" />
<line x1="253.72" y1="294" x2="257.72" y2="294" stroke="#ee5a3e" stroke-width="1.15" />
<line x1="267.1" y1="293.5" x2="267.1" y2="290" stroke="#ee5a3e" stroke-width="1.15" />
<line x1="265.1" y1="290" x2="269.1" y2="290" stroke="#ee5a3e" stroke-width="1.15" />
<line x1="275.63" y1="290" x2="275.63" y2="286" stroke="#ee5a3e" stroke-width="1.15" />
<line x1="273.63" y1="286" x2="277.63" y2="286" stroke="#ee5a3e" stroke-width="1.15" />
<line x1="287.01" y1="288" x2="287.01" y2="284" stroke="#ee5a3e" stroke-width="1.15" />
<line x1="285.01" y1="284" x2="289.01" y2="284" stroke="#ee5a3e" stroke-width="1.15" />
<line x1="295.55" y1="285.2" x2="295.55" y2="281" stroke="#ee5a3e" stroke-width="1.15" />
<line x1="293.55" y1="281" x2="297.55" y2="281" stroke="#ee5a3e" stroke-width="1.15" />
<line x1="306.93" y1="284.4" x2="306.93" y2="280" stroke="#ee5a3e" stroke-width="1.15" />
<line x1="304.93" y1="280" x2="308.93" y2="280" stroke="#ee5a3e" stroke-width="1.15" />
<line x1="315.46" y1="283.8" x2="315.46" y2="278" stroke="#ee5a3e" stroke-width="1.15" />
<line x1="313.46" y1="278" x2="317.46" y2="278" stroke="#ee5a3e" stroke-width="1.15" />
<line x1="326.84" y1="283.5" x2="326.84" y2="278" stroke="#ee5a3e" stroke-width="1.15" />
<line x1="324.84" y1="278" x2="328.84" y2="278" stroke="#ee5a3e" stroke-width="1.15" />
<line x1="335.38" y1="283" x2="335.38" y2="277.3" stroke="#ee5a3e" stroke-width="1.15" />
<line x1="333.38" y1="277.3" x2="337.38" y2="277.3" stroke="#ee5a3e" stroke-width="1.15" />
<line x1="346.75" y1="282.1" x2="346.75" y2="274.4" stroke="#ee5a3e" stroke-width="1.15" />
<line x1="344.75" y1="274.4" x2="348.75" y2="274.4" stroke="#ee5a3e" stroke-width="1.15" />
<line x1="355.29" y1="278.3" x2="355.29" y2="268.7" stroke="#ee5a3e" stroke-width="1.15" />
<line x1="353.29" y1="268.7" x2="357.29" y2="268.7" stroke="#ee5a3e" stroke-width="1.15" />
<line x1="366.67" y1="277.7" x2="366.67" y2="265.8" stroke="#ee5a3e" stroke-width="1.15" />
<line x1="364.67" y1="265.8" x2="368.67" y2="265.8" stroke="#ee5a3e" stroke-width="1.15" />
<polyline points="235.8,301.2 247.18,300 255.72,297 267.1,293.5 275.63,290 287.01,288 295.55,285.2 306.93,284.4 315.46,283.8 326.84,283.5 335.38,283 346.75,282.1 355.29,278.3 366.67,277.7" fill="none" stroke="#ee5a3e" stroke-width="1.1" stroke-linejoin="round" />
<rect x="233.73" y="299.13" width="4.14" height="4.14" fill="#ee5a3e"/>
<rect x="245.11" y="297.93" width="4.14" height="4.14" fill="#ee5a3e"/>
<rect x="253.65" y="294.93" width="4.14" height="4.14" fill="#ee5a3e"/>
<rect x="265.03" y="291.43" width="4.14" height="4.14" fill="#ee5a3e"/>
<rect x="273.56" y="287.93" width="4.14" height="4.14" fill="#ee5a3e"/>
<rect x="284.94" y="285.93" width="4.14" height="4.14" fill="#ee5a3e"/>
<rect x="293.48" y="283.13" width="4.14" height="4.14" fill="#ee5a3e"/>
<rect x="304.86" y="282.33" width="4.14" height="4.14" fill="#ee5a3e"/>
<rect x="313.39" y="281.73" width="4.14" height="4.14" fill="#ee5a3e"/>
<rect x="324.77" y="281.43" width="4.14" height="4.14" fill="#ee5a3e"/>
<rect x="333.31" y="280.93" width="4.14" height="4.14" fill="#ee5a3e"/>
<rect x="344.69" y="280.03" width="4.14" height="4.14" fill="#ee5a3e"/>
<rect x="353.22" y="276.23" width="4.14" height="4.14" fill="#ee5a3e"/>
<rect x="364.6" y="275.63" width="4.14" height="4.14" fill="#ee5a3e"/>
<line x1="335.38" y1="235" x2="335.38" y2="226" stroke="#6262b4" stroke-width="1.15" />
<line x1="333.38" y1="226" x2="337.38" y2="226" stroke="#6262b4" stroke-width="1.15" />
<polyline points="235.8,301.2 247.18,300 255.72,298.7 267.1,295.8 275.63,289.5 287.01,281 295.55,274 306.93,266 315.46,257.2 326.84,243.4 335.38,235" fill="none" stroke="#6262b4" stroke-width="1.1" stroke-linejoin="round" />
<circle cx="235.8" cy="301.2" r="1.9" fill="#6262b4"/>
<circle cx="247.18" cy="300" r="1.9" fill="#6262b4"/>
<circle cx="255.72" cy="298.7" r="1.9" fill="#6262b4"/>
<circle cx="267.1" cy="295.8" r="1.9" fill="#6262b4"/>
<circle cx="275.63" cy="289.5" r="1.9" fill="#6262b4"/>
<circle cx="287.01" cy="281" r="1.9" fill="#6262b4"/>
<circle cx="295.55" cy="274" r="1.9" fill="#6262b4"/>
<circle cx="306.93" cy="266" r="1.9" fill="#6262b4"/>
<circle cx="315.46" cy="257.2" r="1.9" fill="#6262b4"/>
<circle cx="326.84" cy="243.4" r="1.9" fill="#6262b4"/>
<circle cx="335.38" cy="235" r="1.9" fill="#6262b4"/>
<line x1="267.1" y1="290" x2="267.1" y2="286.5" stroke="#1a1a1a" stroke-width="1.15" />
<line x1="265.1" y1="286.5" x2="269.1" y2="286.5" stroke="#1a1a1a" stroke-width="1.15" />
<line x1="275.63" y1="284.2" x2="275.63" y2="281" stroke="#1a1a1a" stroke-width="1.15" />
<line x1="273.63" y1="281" x2="277.63" y2="281" stroke="#1a1a1a" stroke-width="1.15" />
<line x1="295.55" y1="273" x2="295.55" y2="270" stroke="#1a1a1a" stroke-width="1.15" />
<line x1="293.55" y1="270" x2="297.55" y2="270" stroke="#1a1a1a" stroke-width="1.15" />
<line x1="306.93" y1="260" x2="306.93" y2="256" stroke="#1a1a1a" stroke-width="1.15" />
<line x1="304.93" y1="256" x2="308.93" y2="256" stroke="#1a1a1a" stroke-width="1.15" />
<line x1="315.46" y1="250.8" x2="315.46" y2="243" stroke="#1a1a1a" stroke-width="1.15" />
<line x1="313.46" y1="243" x2="317.46" y2="243" stroke="#1a1a1a" stroke-width="1.15" />
<line x1="326.84" y1="234.4" x2="326.84" y2="226" stroke="#1a1a1a" stroke-width="1.15" />
<line x1="324.84" y1="226" x2="328.84" y2="226" stroke="#1a1a1a" stroke-width="1.15" />
<line x1="335.38" y1="221.2" x2="335.38" y2="213" stroke="#1a1a1a" stroke-width="1.15" />
<line x1="333.38" y1="213" x2="337.38" y2="213" stroke="#1a1a1a" stroke-width="1.15" />
<polyline points="235.8,301.2 247.18,300 255.72,295.8 267.1,290 275.63,284.2 287.01,280 295.55,273 306.93,260 315.46,250.8 326.84,234.4 335.38,221.2" fill="none" stroke="#1a1a1a" stroke-width="1.1" stroke-linejoin="round" />
<circle cx="235.8" cy="301.2" r="1.9" fill="#1a1a1a"/>
<circle cx="247.18" cy="300" r="1.9" fill="#1a1a1a"/>
<circle cx="255.72" cy="295.8" r="1.9" fill="#1a1a1a"/>
<circle cx="267.1" cy="290" r="1.9" fill="#1a1a1a"/>
<circle cx="275.63" cy="284.2" r="1.9" fill="#1a1a1a"/>
<circle cx="287.01" cy="280" r="1.9" fill="#1a1a1a"/>
<circle cx="295.55" cy="273" r="1.9" fill="#1a1a1a"/>
<circle cx="306.93" cy="260" r="1.9" fill="#1a1a1a"/>
<circle cx="315.46" cy="250.8" r="1.9" fill="#1a1a1a"/>
<circle cx="326.84" cy="234.4" r="1.9" fill="#1a1a1a"/>
<circle cx="335.38" cy="221.2" r="1.9" fill="#1a1a1a"/>
<line x1="255.72" y1="295.8" x2="255.72" y2="293" stroke="#e8473f" stroke-width="1.15" />
<line x1="253.72" y1="293" x2="257.72" y2="293" stroke="#e8473f" stroke-width="1.15" />
<line x1="267.1" y1="292" x2="267.1" y2="289" stroke="#e8473f" stroke-width="1.15" />
<line x1="265.1" y1="289" x2="269.1" y2="289" stroke="#e8473f" stroke-width="1.15" />
<line x1="275.63" y1="283.3" x2="275.63" y2="280" stroke="#e8473f" stroke-width="1.15" />
<line x1="273.63" y1="280" x2="277.63" y2="280" stroke="#e8473f" stroke-width="1.15" />
<line x1="287.01" y1="275.6" x2="287.01" y2="272" stroke="#e8473f" stroke-width="1.15" />
<line x1="285.01" y1="272" x2="289.01" y2="272" stroke="#e8473f" stroke-width="1.15" />
<line x1="295.55" y1="266.9" x2="295.55" y2="263" stroke="#e8473f" stroke-width="1.15" />
<line x1="293.55" y1="263" x2="297.55" y2="263" stroke="#e8473f" stroke-width="1.15" />
<line x1="306.93" y1="255.5" x2="306.93" y2="250" stroke="#e8473f" stroke-width="1.15" />
<line x1="304.93" y1="250" x2="308.93" y2="250" stroke="#e8473f" stroke-width="1.15" />
<line x1="315.46" y1="239.7" x2="315.46" y2="231" stroke="#e8473f" stroke-width="1.15" />
<line x1="313.46" y1="231" x2="317.46" y2="231" stroke="#e8473f" stroke-width="1.15" />
<line x1="326.84" y1="223.4" x2="326.84" y2="214" stroke="#e8473f" stroke-width="1.15" />
<line x1="324.84" y1="214" x2="328.84" y2="214" stroke="#e8473f" stroke-width="1.15" />
<line x1="335.38" y1="212.9" x2="335.38" y2="205" stroke="#e8473f" stroke-width="1.15" />
<line x1="333.38" y1="205" x2="337.38" y2="205" stroke="#e8473f" stroke-width="1.15" />
<polyline points="235.8,301.2 247.18,300 255.72,295.8 267.1,292 275.63,283.3 287.01,275.6 295.55,266.9 306.93,255.5 315.46,239.7 326.84,223.4 335.38,212.9" fill="none" stroke="#e8473f" stroke-width="1.1" stroke-linejoin="round" />
<circle cx="235.8" cy="301.2" r="1.9" fill="#e8473f"/>
<circle cx="247.18" cy="300" r="1.9" fill="#e8473f"/>
<circle cx="255.72" cy="295.8" r="1.9" fill="#e8473f"/>
<circle cx="267.1" cy="292" r="1.9" fill="#e8473f"/>
<circle cx="275.63" cy="283.3" r="1.9" fill="#e8473f"/>
<circle cx="287.01" cy="275.6" r="1.9" fill="#e8473f"/>
<circle cx="295.55" cy="266.9" r="1.9" fill="#e8473f"/>
<circle cx="306.93" cy="255.5" r="1.9" fill="#e8473f"/>
<circle cx="315.46" cy="239.7" r="1.9" fill="#e8473f"/>
<circle cx="326.84" cy="223.4" r="1.9" fill="#e8473f"/>
<circle cx="335.38" cy="212.9" r="1.9" fill="#e8473f"/>
<line x1="369.5" y1="277.5" x2="372.1" y2="277.5" stroke="#2b2b2b" stroke-width="0.8" />
<line x1="372.1" y1="277.5" x2="372.1" y2="297.3" stroke="#2b2b2b" stroke-width="0.8" />
<line x1="369.5" y1="297.3" x2="372.1" y2="297.3" stroke="#2b2b2b" stroke-width="0.8" />
<text transform="translate(374.6,284) rotate(90)" text-anchor="middle" stroke="#231f20" stroke-width="0.2">**<tspan font-style="italic">P</tspan> 0.0014</text>
<line x1="257.5" y1="181.25" x2="267.5" y2="181.25" stroke="#e8473f" stroke-width="1" />
<circle cx="262.5" cy="181.25" r="1.9" fill="#e8473f"/>
<text x="269.5" y="184.04" font-size="7.75" stroke="#231f20" stroke-width="0.2">Isotype IgG–GGFG–DXd</text>
<line x1="257.5" y1="188.75" x2="267.5" y2="188.75" stroke="#1a1a1a" stroke-width="1" />
<circle cx="262.5" cy="188.75" r="1.9" fill="#1a1a1a"/>
<text x="269.5" y="191.54" font-size="7.75" stroke="#231f20" stroke-width="0.2">Vehicle</text>
<line x1="257.5" y1="196.25" x2="267.5" y2="196.25" stroke="#6262b4" stroke-width="1" />
<circle cx="262.5" cy="196.25" r="1.9" fill="#6262b4"/>
<text x="269.5" y="199.04" font-size="7.75" stroke="#231f20" stroke-width="0.2">Isotype IgG–T1000–exatecan</text>
<line x1="257.5" y1="203.75" x2="267.5" y2="203.75" stroke="#ee5a3e" stroke-width="1" />
<rect x="260.7" y="201.95" width="3.6" height="3.6" fill="#ee5a3e"/>
<text x="269.5" y="206.54" font-size="7.75" stroke="#231f20" stroke-width="0.2">Dato–DXd</text>
<line x1="257.5" y1="211.25" x2="267.5" y2="211.25" stroke="#5b52a3" stroke-width="1" />
<rect x="260.7" y="209.45" width="3.6" height="3.6" fill="#5b52a3"/>
<text x="269.5" y="214.04" font-size="7.75" stroke="#231f20" stroke-width="0.2">MTX-132</text>
<text x="2" y="379.8" font-size="10.5" font-weight="bold" stroke="#231f20" stroke-width="0.2">D</text>
<text x="37.5" y="388.8" font-size="8.5" font-weight="bold" stroke="#231f20" stroke-width="0.2">HER2 PDX</text>
<text x="37.5" y="398.9" font-size="8.5" stroke="#231f20" stroke-width="0.2">200717</text>
<text x="37.5" y="408.2" font-size="8.5" stroke="#231f20" stroke-width="0.2">H-score 15 <tspan fill="#d9453d" stroke="#d9453d">1+</tspan></text>
<g><rect x="31.2" y="411.2" width="77.6" height="71.8" fill="#ccc2cc"/><rect x="31.2" y="411.2" width="77.6" height="71.8" filter="url(#texD0)"/><rect x="31.2" y="411.2" width="77.6" height="71.8" filter="url(#texD1)"/><rect x="31.2" y="411.2" width="77.6" height="71.8" filter="url(#texD2)"/><rect x="34.5" y="472.6" width="15.3" height="2.9" fill="#e3262b"/></g>
<rect x="0" y="486.3" width="30.3" height="26.2" fill="#e3e3e3" />
<text x="15.15" y="497.87" font-size="7.7" fill="#3a3a3a" text-anchor="middle" stroke="#3a3a3a" stroke-width="0.08">Staining</text>
<text x="15.15" y="506.47" font-size="7.7" fill="#3a3a3a" text-anchor="middle" stroke="#3a3a3a" stroke-width="0.08">intensity</text>
<rect x="0" y="516" width="30.3" height="26.3" fill="#e3e3e3" />
<text x="15.15" y="527.62" font-size="7.7" fill="#3a3a3a" text-anchor="middle" stroke="#3a3a3a" stroke-width="0.08">Positive</text>
<text x="15.15" y="536.22" font-size="7.7" fill="#3a3a3a" text-anchor="middle" stroke="#3a3a3a" stroke-width="0.08">cell (%)</text>
<rect x="33.2" y="486.3" width="28.2" height="26.2" fill="#b3a8a0" />
<text x="47.3" y="502.24" font-size="7.9" text-anchor="middle" font-weight="bold" stroke="#231f20" stroke-width="0.2">0</text>
<rect x="33.2" y="516" width="28.2" height="26.3" fill="#b3a8a0" />
<text x="47.3" y="531.99" font-size="7.9" text-anchor="middle" font-weight="bold" stroke="#231f20" stroke-width="0.2">85</text>
<rect x="63.5" y="486.3" width="25.3" height="26.2" fill="#fce4d4" />
<text x="76.15" y="502.24" font-size="7.9" text-anchor="middle" font-weight="bold" stroke="#231f20" stroke-width="0.2">1+</text>
<rect x="63.5" y="516" width="25.3" height="26.3" fill="#fce4d4" />
<text x="76.15" y="531.99" font-size="7.9" text-anchor="middle" font-weight="bold" stroke="#231f20" stroke-width="0.2">15</text>
<rect x="91.4" y="486.3" width="26.3" height="26.2" fill="#f7c3a0" />
<text x="104.55" y="502.24" font-size="7.9" text-anchor="middle" font-weight="bold" stroke="#231f20" stroke-width="0.2">2+</text>
<rect x="91.4" y="516" width="26.3" height="26.3" fill="#f7c3a0" />
<text x="104.55" y="531.99" font-size="7.9" text-anchor="middle" font-weight="bold" stroke="#231f20" stroke-width="0.2">0</text>
<rect x="120.3" y="486.3" width="26.8" height="26.2" fill="#f2a676" />
<text x="133.7" y="502.24" font-size="7.9" text-anchor="middle" font-weight="bold" stroke="#231f20" stroke-width="0.2">3+</text>
<rect x="120.3" y="516" width="26.8" height="26.3" fill="#f2a676" />
<text x="133.7" y="531.99" font-size="7.9" text-anchor="middle" font-weight="bold" stroke="#231f20" stroke-width="0.2">0</text>
<line x1="184.9" y1="394.4" x2="184.9" y2="503.6" stroke="#2b2b2b" stroke-width="1.15" />
<line x1="182.4" y1="503.1" x2="184.9" y2="503.1" stroke="#2b2b2b" stroke-width="1" />
<text x="180.7" y="505.89" font-size="7.75" text-anchor="end" stroke="#231f20" stroke-width="0.2">0</text>
<line x1="182.4" y1="481.36" x2="184.9" y2="481.36" stroke="#2b2b2b" stroke-width="1" />
<text x="180.7" y="484.15" font-size="7.75" text-anchor="end" stroke="#231f20" stroke-width="0.2">500</text>
<line x1="182.4" y1="459.62" x2="184.9" y2="459.62" stroke="#2b2b2b" stroke-width="1" />
<text x="180.7" y="462.41" font-size="7.75" text-anchor="end" stroke="#231f20" stroke-width="0.2">1,000</text>
<line x1="182.4" y1="437.88" x2="184.9" y2="437.88" stroke="#2b2b2b" stroke-width="1" />
<text x="180.7" y="440.67" font-size="7.75" text-anchor="end" stroke="#231f20" stroke-width="0.2">1,500</text>
<line x1="182.4" y1="416.14" x2="184.9" y2="416.14" stroke="#2b2b2b" stroke-width="1" />
<text x="180.7" y="418.93" font-size="7.75" text-anchor="end" stroke="#231f20" stroke-width="0.2">2,000</text>
<line x1="182.4" y1="394.4" x2="184.9" y2="394.4" stroke="#2b2b2b" stroke-width="1" />
<text x="180.7" y="397.19" font-size="7.75" text-anchor="end" stroke="#231f20" stroke-width="0.2">2,500</text>
<line x1="184.9" y1="503.1" x2="311.5" y2="503.1" stroke="#2b2b2b" stroke-width="1.15" />
<line x1="185.2" y1="503.1" x2="185.2" y2="505.6" stroke="#2b2b2b" stroke-width="1" />
<text x="185.2" y="514.94" font-size="7.6" text-anchor="middle" stroke="#231f20" stroke-width="0.2">0</text>
<line x1="199.13" y1="503.1" x2="199.13" y2="505.6" stroke="#2b2b2b" stroke-width="1" />
<text x="199.13" y="514.94" font-size="7.6" text-anchor="middle" stroke="#231f20" stroke-width="0.2">7</text>
<line x1="213.06" y1="503.1" x2="213.06" y2="505.6" stroke="#2b2b2b" stroke-width="1" />
<text x="213.06" y="514.94" font-size="7.6" text-anchor="middle" stroke="#231f20" stroke-width="0.2">14</text>
<line x1="226.99" y1="503.1" x2="226.99" y2="505.6" stroke="#2b2b2b" stroke-width="1" />
<text x="226.99" y="514.94" font-size="7.6" text-anchor="middle" stroke="#231f20" stroke-width="0.2">21</text>
<line x1="240.92" y1="503.1" x2="240.92" y2="505.6" stroke="#2b2b2b" stroke-width="1" />
<text x="240.92" y="514.94" font-size="7.6" text-anchor="middle" stroke="#231f20" stroke-width="0.2">28</text>
<line x1="254.85" y1="503.1" x2="254.85" y2="505.6" stroke="#2b2b2b" stroke-width="1" />
<text x="254.85" y="514.94" font-size="7.6" text-anchor="middle" stroke="#231f20" stroke-width="0.2">35</text>
<line x1="268.78" y1="503.1" x2="268.78" y2="505.6" stroke="#2b2b2b" stroke-width="1" />
<text x="268.78" y="514.94" font-size="7.6" text-anchor="middle" stroke="#231f20" stroke-width="0.2">42</text>
<line x1="282.71" y1="503.1" x2="282.71" y2="505.6" stroke="#2b2b2b" stroke-width="1" />
<text x="282.71" y="514.94" font-size="7.6" text-anchor="middle" stroke="#231f20" stroke-width="0.2">49</text>
<line x1="296.64" y1="503.1" x2="296.64" y2="505.6" stroke="#2b2b2b" stroke-width="1" />
<text x="296.64" y="514.94" font-size="7.6" text-anchor="middle" stroke="#231f20" stroke-width="0.2">56</text>
<line x1="310.57" y1="503.1" x2="310.57" y2="505.6" stroke="#2b2b2b" stroke-width="1" />
<text x="310.57" y="514.94" font-size="7.6" text-anchor="middle" stroke="#231f20" stroke-width="0.2">63</text>
<text transform="translate(159.92,450) rotate(-90)" font-size="7.95" text-anchor="middle" stroke="#231f20" stroke-width="0.2">Tumor volume ± SEM (mm³)</text>
<line x1="184.8" y1="526.8" x2="184.8" y2="530.8" stroke="#c8524c" stroke-width="1.2"/>
<polygon points="184.8,520 187.45,527.3 182.15,527.3" fill="#e6524a"/>
<text x="184.8" y="537.7" font-size="7.2" fill="#cf4a44" text-anchor="middle" font-weight="bold" stroke="#cf4a44" stroke-width="0.2">i.v.</text>
<line x1="200.3" y1="526.8" x2="200.3" y2="530.8" stroke="#c8524c" stroke-width="1.2"/>
<polygon points="200.3,520 202.95,527.3 197.65,527.3" fill="#e6524a"/>
<text x="200.3" y="537.7" font-size="7.2" fill="#cf4a44" text-anchor="middle" font-weight="bold" stroke="#cf4a44" stroke-width="0.2">i.v.</text>
<text x="209.8" y="529.9" font-size="8.3" stroke="#231f20" stroke-width="0.2">Days after treatment</text>
<polyline points="185.2,497.3 191.17,498.3 199.13,501.5 205.1,502.3 213.06,502.3 219.03,502.3 226.99,502.3 232.96,502.3 240.92,502.3 246.89,502.3 254.85,502.3 260.82,502.3 268.78,502.3 274.75,502.3 282.71,502.3 288.68,502.3 296.64,502.3 302.61,502.3 310.57,502.3" fill="none" stroke="#4a4aa2" stroke-width="1.1" stroke-linejoin="round" />
<polygon points="185.2,495.59 186.91,497.3 185.2,499.01 183.49,497.3" fill="#4a4aa2"/>
<polygon points="191.17,496.59 192.88,498.3 191.17,500.01 189.46,498.3" fill="#4a4aa2"/>
<polygon points="199.13,499.79 200.84,501.5 199.13,503.21 197.42,501.5" fill="#4a4aa2"/>
<polygon points="205.1,500.59 206.81,502.3 205.1,504.01 203.39,502.3" fill="#4a4aa2"/>
<polygon points="213.06,500.59 214.77,502.3 213.06,504.01 211.35,502.3" fill="#4a4aa2"/>
<polygon points="219.03,500.59 220.74,502.3 219.03,504.01 217.32,502.3" fill="#4a4aa2"/>
<polygon points="226.99,500.59 228.7,502.3 226.99,504.01 225.28,502.3" fill="#4a4aa2"/>
<polygon points="232.96,500.59 234.67,502.3 232.96,504.01 231.25,502.3" fill="#4a4aa2"/>
<polygon points="240.92,500.59 242.63,502.3 240.92,504.01 239.21,502.3" fill="#4a4aa2"/>
<polygon points="246.89,500.59 248.6,502.3 246.89,504.01 245.18,502.3" fill="#4a4aa2"/>
<polygon points="254.85,500.59 256.56,502.3 254.85,504.01 253.14,502.3" fill="#4a4aa2"/>
<polygon points="260.82,500.59 262.53,502.3 260.82,504.01 259.11,502.3" fill="#4a4aa2"/>
<polygon points="268.78,500.59 270.49,502.3 268.78,504.01 267.07,502.3" fill="#4a4aa2"/>
<polygon points="274.75,500.59 276.46,502.3 274.75,504.01 273.04,502.3" fill="#4a4aa2"/>
<polygon points="282.71,500.59 284.42,502.3 282.71,504.01 281,502.3" fill="#4a4aa2"/>
<polygon points="288.68,500.59 290.39,502.3 288.68,504.01 286.97,502.3" fill="#4a4aa2"/>
<polygon points="296.64,500.59 298.35,502.3 296.64,504.01 294.93,502.3" fill="#4a4aa2"/>
<polygon points="302.61,500.59 304.32,502.3 302.61,504.01 300.9,502.3" fill="#4a4aa2"/>
<polygon points="310.57,500.59 312.28,502.3 310.57,504.01 308.86,502.3" fill="#4a4aa2"/>
<line x1="288.68" y1="499" x2="288.68" y2="494.2" stroke="#e8473f" stroke-width="1.15" />
<line x1="286.68" y1="494.2" x2="290.68" y2="494.2" stroke="#e8473f" stroke-width="1.15" />
<line x1="296.64" y1="497.7" x2="296.64" y2="492.9" stroke="#e8473f" stroke-width="1.15" />
<line x1="294.64" y1="492.9" x2="298.64" y2="492.9" stroke="#e8473f" stroke-width="1.15" />
<line x1="302.61" y1="496.5" x2="302.61" y2="493.7" stroke="#e8473f" stroke-width="1.15" />
<line x1="300.61" y1="493.7" x2="304.61" y2="493.7" stroke="#e8473f" stroke-width="1.15" />
<line x1="310.57" y1="495.8" x2="310.57" y2="491.3" stroke="#e8473f" stroke-width="1.15" />
<line x1="308.57" y1="491.3" x2="312.57" y2="491.3" stroke="#e8473f" stroke-width="1.15" />
<polyline points="185.2,497.3 191.17,498.3 199.13,501.2 205.1,502.1 213.06,502.7 219.03,502.7 226.99,502.7 232.96,502.7 240.92,502.7 246.89,502.7 254.85,502.7 260.82,502.7 268.78,502.5 274.75,502 282.71,501 288.68,499 296.64,497.7 302.61,496.5 310.57,495.8" fill="none" stroke="#e8473f" stroke-width="1.1" stroke-linejoin="round" />
<polygon points="185.2,495.59 186.91,497.3 185.2,499.01 183.49,497.3" fill="#e8473f"/>
<polygon points="191.17,496.59 192.88,498.3 191.17,500.01 189.46,498.3" fill="#e8473f"/>
<polygon points="199.13,499.49 200.84,501.2 199.13,502.91 197.42,501.2" fill="#e8473f"/>
<polygon points="205.1,500.39 206.81,502.1 205.1,503.81 203.39,502.1" fill="#e8473f"/>
<polygon points="213.06,500.99 214.77,502.7 213.06,504.41 211.35,502.7" fill="#e8473f"/>
<polygon points="219.03,500.99 220.74,502.7 219.03,504.41 217.32,502.7" fill="#e8473f"/>
<polygon points="226.99,500.99 228.7,502.7 226.99,504.41 225.28,502.7" fill="#e8473f"/>
<polygon points="232.96,500.99 234.67,502.7 232.96,504.41 231.25,502.7" fill="#e8473f"/>
<polygon points="240.92,500.99 242.63,502.7 240.92,504.41 239.21,502.7" fill="#e8473f"/>
<polygon points="246.89,500.99 248.6,502.7 246.89,504.41 245.18,502.7" fill="#e8473f"/>
<polygon points="254.85,500.99 256.56,502.7 254.85,504.41 253.14,502.7" fill="#e8473f"/>
<polygon points="260.82,500.99 262.53,502.7 260.82,504.41 259.11,502.7" fill="#e8473f"/>
<polygon points="268.78,500.79 270.49,502.5 268.78,504.21 267.07,502.5" fill="#e8473f"/>
<polygon points="274.75,500.29 276.46,502 274.75,503.71 273.04,502" fill="#e8473f"/>
<polygon points="282.71,499.29 284.42,501 282.71,502.71 281,501" fill="#e8473f"/>
<polygon points="288.68,497.29 290.39,499 288.68,500.71 286.97,499" fill="#e8473f"/>
<polygon points="296.64,495.99 298.35,497.7 296.64,499.41 294.93,497.7" fill="#e8473f"/>
<polygon points="302.61,494.79 304.32,496.5 302.61,498.21 300.9,496.5" fill="#e8473f"/>
<polygon points="310.57,494.09 312.28,495.8 310.57,497.51 308.86,495.8" fill="#e8473f"/>
<line x1="254.85" y1="484" x2="254.85" y2="480.5" stroke="#4a4aa2" stroke-width="1.15" />
<line x1="252.85" y1="480.5" x2="256.85" y2="480.5" stroke="#4a4aa2" stroke-width="1.15" />
<line x1="260.82" y1="481.2" x2="260.82" y2="477.5" stroke="#4a4aa2" stroke-width="1.15" />
<line x1="258.82" y1="477.5" x2="262.82" y2="477.5" stroke="#4a4aa2" stroke-width="1.15" />
<line x1="268.78" y1="481.7" x2="268.78" y2="477" stroke="#4a4aa2" stroke-width="1.15" />
<line x1="266.78" y1="477" x2="270.78" y2="477" stroke="#4a4aa2" stroke-width="1.15" />
<line x1="274.75" y1="474" x2="274.75" y2="470" stroke="#4a4aa2" stroke-width="1.15" />
<line x1="272.75" y1="470" x2="276.75" y2="470" stroke="#4a4aa2" stroke-width="1.15" />
<line x1="282.71" y1="467.7" x2="282.71" y2="462.5" stroke="#4a4aa2" stroke-width="1.15" />
<line x1="280.71" y1="462.5" x2="284.71" y2="462.5" stroke="#4a4aa2" stroke-width="1.15" />
<line x1="288.68" y1="461.9" x2="288.68" y2="453.8" stroke="#4a4aa2" stroke-width="1.15" />
<line x1="286.68" y1="453.8" x2="290.68" y2="453.8" stroke="#4a4aa2" stroke-width="1.15" />
<line x1="296.64" y1="457.7" x2="296.64" y2="448.7" stroke="#4a4aa2" stroke-width="1.15" />
<line x1="294.64" y1="448.7" x2="298.64" y2="448.7" stroke="#4a4aa2" stroke-width="1.15" />
<line x1="302.61" y1="454.8" x2="302.61" y2="444.6" stroke="#4a4aa2" stroke-width="1.15" />
<line x1="300.61" y1="444.6" x2="304.61" y2="444.6" stroke="#4a4aa2" stroke-width="1.15" />
<line x1="310.57" y1="450.4" x2="310.57" y2="438.5" stroke="#4a4aa2" stroke-width="1.15" />
<line x1="308.57" y1="438.5" x2="312.57" y2="438.5" stroke="#4a4aa2" stroke-width="1.15" />
<polyline points="185.2,497.3 191.17,496.3 199.13,497.3 205.1,496.9 213.06,496.3 219.03,495.9 226.99,495.4 232.96,493.5 240.92,490 246.89,488.8 254.85,484 260.82,481.2 268.78,481.7 274.75,474 282.71,467.7 288.68,461.9 296.64,457.7 302.61,454.8 310.57,450.4" fill="none" stroke="#4a4aa2" stroke-width="1.1" stroke-linejoin="round" />
<circle cx="185.2" cy="497.3" r="1.9" fill="#4a4aa2"/>
<circle cx="191.17" cy="496.3" r="1.9" fill="#4a4aa2"/>
<circle cx="199.13" cy="497.3" r="1.9" fill="#4a4aa2"/>
<circle cx="205.1" cy="496.9" r="1.9" fill="#4a4aa2"/>
<circle cx="213.06" cy="496.3" r="1.9" fill="#4a4aa2"/>
<circle cx="219.03" cy="495.9" r="1.9" fill="#4a4aa2"/>
<circle cx="226.99" cy="495.4" r="1.9" fill="#4a4aa2"/>
<circle cx="232.96" cy="493.5" r="1.9" fill="#4a4aa2"/>
<circle cx="240.92" cy="490" r="1.9" fill="#4a4aa2"/>
<circle cx="246.89" cy="488.8" r="1.9" fill="#4a4aa2"/>
<circle cx="254.85" cy="484" r="1.9" fill="#4a4aa2"/>
<circle cx="260.82" cy="481.2" r="1.9" fill="#4a4aa2"/>
<circle cx="268.78" cy="481.7" r="1.9" fill="#4a4aa2"/>
<circle cx="274.75" cy="474" r="1.9" fill="#4a4aa2"/>
<circle cx="282.71" cy="467.7" r="1.9" fill="#4a4aa2"/>
<circle cx="288.68" cy="461.9" r="1.9" fill="#4a4aa2"/>
<circle cx="296.64" cy="457.7" r="1.9" fill="#4a4aa2"/>
<circle cx="302.61" cy="454.8" r="1.9" fill="#4a4aa2"/>
<circle cx="310.57" cy="450.4" r="1.9" fill="#4a4aa2"/>
<line x1="213.06" y1="490.6" x2="213.06" y2="483.8" stroke="#ec5b45" stroke-width="1.15" />
<line x1="211.06" y1="483.8" x2="215.06" y2="483.8" stroke="#ec5b45" stroke-width="1.15" />
<line x1="219.03" y1="487.7" x2="219.03" y2="481" stroke="#ec5b45" stroke-width="1.15" />
<line x1="217.03" y1="481" x2="221.03" y2="481" stroke="#ec5b45" stroke-width="1.15" />
<line x1="226.99" y1="484.8" x2="226.99" y2="476" stroke="#ec5b45" stroke-width="1.15" />
<line x1="224.99" y1="476" x2="228.99" y2="476" stroke="#ec5b45" stroke-width="1.15" />
<line x1="232.96" y1="480" x2="232.96" y2="471.2" stroke="#ec5b45" stroke-width="1.15" />
<line x1="230.96" y1="471.2" x2="234.96" y2="471.2" stroke="#ec5b45" stroke-width="1.15" />
<line x1="240.92" y1="473.5" x2="240.92" y2="462" stroke="#ec5b45" stroke-width="1.15" />
<line x1="238.92" y1="462" x2="242.92" y2="462" stroke="#ec5b45" stroke-width="1.15" />
<line x1="246.89" y1="471.5" x2="246.89" y2="458" stroke="#ec5b45" stroke-width="1.15" />
<line x1="244.89" y1="458" x2="248.89" y2="458" stroke="#ec5b45" stroke-width="1.15" />
<line x1="254.85" y1="465" x2="254.85" y2="449.6" stroke="#ec5b45" stroke-width="1.15" />
<line x1="252.85" y1="449.6" x2="256.85" y2="449.6" stroke="#ec5b45" stroke-width="1.15" />
<line x1="260.82" y1="461.2" x2="260.82" y2="443.3" stroke="#ec5b45" stroke-width="1.15" />
<line x1="258.82" y1="443.3" x2="262.82" y2="443.3" stroke="#ec5b45" stroke-width="1.15" />
<line x1="268.78" y1="452.9" x2="268.78" y2="432.3" stroke="#ec5b45" stroke-width="1.15" />
<line x1="266.78" y1="432.3" x2="270.78" y2="432.3" stroke="#ec5b45" stroke-width="1.15" />
<line x1="274.75" y1="444.6" x2="274.75" y2="422.1" stroke="#ec5b45" stroke-width="1.15" />
<line x1="272.75" y1="422.1" x2="276.75" y2="422.1" stroke="#ec5b45" stroke-width="1.15" />
<line x1="282.71" y1="434.6" x2="282.71" y2="408.7" stroke="#ec5b45" stroke-width="1.15" />
<line x1="280.71" y1="408.7" x2="284.71" y2="408.7" stroke="#ec5b45" stroke-width="1.15" />
<polyline points="185.2,497.3 191.17,496.3 199.13,493.5 205.1,491.5 213.06,490.6 219.03,487.7 226.99,484.8 232.96,480 240.92,473.5 246.89,471.5 254.85,465 260.82,461.2 268.78,452.9 274.75,444.6 282.71,434.6" fill="none" stroke="#ec5b45" stroke-width="1.1" stroke-linejoin="round" />
<circle cx="185.2" cy="497.3" r="1.9" fill="#ec5b45"/>
<circle cx="191.17" cy="496.3" r="1.9" fill="#ec5b45"/>
<circle cx="199.13" cy="493.5" r="1.9" fill="#ec5b45"/>
<circle cx="205.1" cy="491.5" r="1.9" fill="#ec5b45"/>
<circle cx="213.06" cy="490.6" r="1.9" fill="#ec5b45"/>
<circle cx="219.03" cy="487.7" r="1.9" fill="#ec5b45"/>
<circle cx="226.99" cy="484.8" r="1.9" fill="#ec5b45"/>
<circle cx="232.96" cy="480" r="1.9" fill="#ec5b45"/>
<circle cx="240.92" cy="473.5" r="1.9" fill="#ec5b45"/>
<circle cx="246.89" cy="471.5" r="1.9" fill="#ec5b45"/>
<circle cx="254.85" cy="465" r="1.9" fill="#ec5b45"/>
<circle cx="260.82" cy="461.2" r="1.9" fill="#ec5b45"/>
<circle cx="268.78" cy="452.9" r="1.9" fill="#ec5b45"/>
<circle cx="274.75" cy="444.6" r="1.9" fill="#ec5b45"/>
<circle cx="282.71" cy="434.6" r="1.9" fill="#ec5b45"/>
<line x1="199.13" y1="491.2" x2="199.13" y2="488.7" stroke="#1a1a1a" stroke-width="1.15" />
<line x1="197.13" y1="488.7" x2="201.13" y2="488.7" stroke="#1a1a1a" stroke-width="1.15" />
<line x1="205.1" y1="488.7" x2="205.1" y2="484.8" stroke="#1a1a1a" stroke-width="1.15" />
<line x1="203.1" y1="484.8" x2="207.1" y2="484.8" stroke="#1a1a1a" stroke-width="1.15" />
<line x1="213.06" y1="481.9" x2="213.06" y2="475.8" stroke="#1a1a1a" stroke-width="1.15" />
<line x1="211.06" y1="475.8" x2="215.06" y2="475.8" stroke="#1a1a1a" stroke-width="1.15" />
<line x1="219.03" y1="479" x2="219.03" y2="471.9" stroke="#1a1a1a" stroke-width="1.15" />
<line x1="217.03" y1="471.9" x2="221.03" y2="471.9" stroke="#1a1a1a" stroke-width="1.15" />
<line x1="226.99" y1="473.3" x2="226.99" y2="463.7" stroke="#1a1a1a" stroke-width="1.15" />
<line x1="224.99" y1="463.7" x2="228.99" y2="463.7" stroke="#1a1a1a" stroke-width="1.15" />
<line x1="232.96" y1="466.9" x2="232.96" y2="454.8" stroke="#1a1a1a" stroke-width="1.15" />
<line x1="230.96" y1="454.8" x2="234.96" y2="454.8" stroke="#1a1a1a" stroke-width="1.15" />
<line x1="240.92" y1="461.2" x2="240.92" y2="445.6" stroke="#1a1a1a" stroke-width="1.15" />
<line x1="238.92" y1="445.6" x2="242.92" y2="445.6" stroke="#1a1a1a" stroke-width="1.15" />
<line x1="246.89" y1="456.2" x2="246.89" y2="438.5" stroke="#1a1a1a" stroke-width="1.15" />
<line x1="244.89" y1="438.5" x2="248.89" y2="438.5" stroke="#1a1a1a" stroke-width="1.15" />
<line x1="254.85" y1="446.2" x2="254.85" y2="424" stroke="#1a1a1a" stroke-width="1.15" />
<line x1="252.85" y1="424" x2="256.85" y2="424" stroke="#1a1a1a" stroke-width="1.15" />
<line x1="260.82" y1="437.1" x2="260.82" y2="411.9" stroke="#1a1a1a" stroke-width="1.15" />
<line x1="258.82" y1="411.9" x2="262.82" y2="411.9" stroke="#1a1a1a" stroke-width="1.15" />
<polyline points="185.2,497.3 191.17,495.4 199.13,491.2 205.1,488.7 213.06,481.9 219.03,479 226.99,473.3 232.96,466.9 240.92,461.2 246.89,456.2 254.85,446.2 260.82,437.1" fill="none" stroke="#1a1a1a" stroke-width="1.1" stroke-linejoin="round" />
<circle cx="185.2" cy="497.3" r="1.9" fill="#1a1a1a"/>
<circle cx="191.17" cy="495.4" r="1.9" fill="#1a1a1a"/>
<circle cx="199.13" cy="491.2" r="1.9" fill="#1a1a1a"/>
<circle cx="205.1" cy="488.7" r="1.9" fill="#1a1a1a"/>
<circle cx="213.06" cy="481.9" r="1.9" fill="#1a1a1a"/>
<circle cx="219.03" cy="479" r="1.9" fill="#1a1a1a"/>
<circle cx="226.99" cy="473.3" r="1.9" fill="#1a1a1a"/>
<circle cx="232.96" cy="466.9" r="1.9" fill="#1a1a1a"/>
<circle cx="240.92" cy="461.2" r="1.9" fill="#1a1a1a"/>
<circle cx="246.89" cy="456.2" r="1.9" fill="#1a1a1a"/>
<circle cx="254.85" cy="446.2" r="1.9" fill="#1a1a1a"/>
<circle cx="260.82" cy="437.1" r="1.9" fill="#1a1a1a"/>
<line x1="313.5" y1="495.8" x2="315.6" y2="495.8" stroke="#2b2b2b" stroke-width="0.8" />
<line x1="315.6" y1="495.8" x2="315.6" y2="502.4" stroke="#2b2b2b" stroke-width="0.8" />
<line x1="313.5" y1="502.4" x2="315.6" y2="502.4" stroke="#2b2b2b" stroke-width="0.8" />
<text transform="translate(318.4,499.2) rotate(90)" font-size="7.9" text-anchor="middle" stroke="#231f20" stroke-width="0.2"><tspan font-weight="bold">*</tspan><tspan font-style="italic">P</tspan> 0.0333</text>
<line x1="190" y1="381.2" x2="200" y2="381.2" stroke="#1a1a1a" stroke-width="1" />
<circle cx="195" cy="381.2" r="1.9" fill="#1a1a1a"/>
<text x="202" y="383.97" font-size="7.7" stroke="#231f20" stroke-width="0.2">Vehicle</text>
<line x1="190" y1="389.5" x2="200" y2="389.5" stroke="#ec5b45" stroke-width="1" />
<circle cx="195" cy="389.5" r="1.9" fill="#ec5b45"/>
<text x="202" y="392.27" font-size="7.7" stroke="#231f20" stroke-width="0.2">Isotype IgG–GGFG–DXd</text>
<line x1="190" y1="397.7" x2="200" y2="397.7" stroke="#4a4aa2" stroke-width="1" />
<circle cx="195" cy="397.7" r="1.9" fill="#4a4aa2"/>
<text x="202" y="400.47" font-size="7.7" stroke="#231f20" stroke-width="0.2">Isotype IgG–T1000–exatecan</text>
<line x1="190" y1="406" x2="200" y2="406" stroke="#e8473f" stroke-width="1" />
<polygon points="195,404.1 196.9,406 195,407.9 193.1,406" fill="#e8473f"/>
<text x="202" y="408.77" font-size="7.7" stroke="#231f20" stroke-width="0.2">Tras–GGFG–DXd</text>
<line x1="190" y1="414.2" x2="200" y2="414.2" stroke="#4a4aa2" stroke-width="1" />
<polygon points="195,412.3 196.9,414.2 195,416.1 193.1,414.2" fill="#4a4aa2"/>
<text x="202" y="416.97" font-size="7.7" stroke="#231f20" stroke-width="0.2">MTX-1000</text>
<line x1="354" y1="383.7" x2="354" y2="503.4" stroke="#2b2b2b" stroke-width="1.15" />
<line x1="351.5" y1="502.9" x2="354" y2="502.9" stroke="#2b2b2b" stroke-width="1" />
<text x="350.2" y="505.67" font-size="7.7" text-anchor="end" stroke="#231f20" stroke-width="0.2">0</text>
<line x1="351.5" y1="463.1" x2="354" y2="463.1" stroke="#2b2b2b" stroke-width="1" />
<text x="350.2" y="465.87" font-size="7.7" text-anchor="end" stroke="#231f20" stroke-width="0.2">200</text>
<line x1="351.5" y1="423.3" x2="354" y2="423.3" stroke="#2b2b2b" stroke-width="1" />
<text x="350.2" y="426.07" font-size="7.7" text-anchor="end" stroke="#231f20" stroke-width="0.2">400</text>
<line x1="351.5" y1="383.5" x2="354" y2="383.5" stroke="#2b2b2b" stroke-width="1" />
<text x="350.2" y="386.27" font-size="7.7" text-anchor="end" stroke="#231f20" stroke-width="0.2">600</text>
<line x1="354" y1="503.1" x2="493" y2="503.1" stroke="#2b2b2b" stroke-width="1.15" />
<line x1="354.5" y1="503.1" x2="354.5" y2="505.6" stroke="#2b2b2b" stroke-width="1" />
<text x="354.5" y="515.2" text-anchor="middle" stroke="#231f20" stroke-width="0.2">0</text>
<line x1="369.79" y1="503.1" x2="369.79" y2="505.6" stroke="#2b2b2b" stroke-width="1" />
<text x="369.79" y="515.2" text-anchor="middle" stroke="#231f20" stroke-width="0.2">7</text>
<line x1="385.08" y1="503.1" x2="385.08" y2="505.6" stroke="#2b2b2b" stroke-width="1" />
<text x="385.08" y="515.2" text-anchor="middle" stroke="#231f20" stroke-width="0.2">14</text>
<line x1="400.36" y1="503.1" x2="400.36" y2="505.6" stroke="#2b2b2b" stroke-width="1" />
<text x="400.36" y="515.2" text-anchor="middle" stroke="#231f20" stroke-width="0.2">21</text>
<line x1="415.65" y1="503.1" x2="415.65" y2="505.6" stroke="#2b2b2b" stroke-width="1" />
<text x="415.65" y="515.2" text-anchor="middle" stroke="#231f20" stroke-width="0.2">28</text>
<line x1="430.94" y1="503.1" x2="430.94" y2="505.6" stroke="#2b2b2b" stroke-width="1" />
<text x="430.94" y="515.2" text-anchor="middle" stroke="#231f20" stroke-width="0.2">35</text>
<line x1="446.23" y1="503.1" x2="446.23" y2="505.6" stroke="#2b2b2b" stroke-width="1" />
<text x="446.23" y="515.2" text-anchor="middle" stroke="#231f20" stroke-width="0.2">42</text>
<line x1="461.52" y1="503.1" x2="461.52" y2="505.6" stroke="#2b2b2b" stroke-width="1" />
<text x="461.52" y="515.2" text-anchor="middle" stroke="#231f20" stroke-width="0.2">49</text>
<line x1="476.8" y1="503.1" x2="476.8" y2="505.6" stroke="#2b2b2b" stroke-width="1" />
<text x="476.8" y="515.2" text-anchor="middle" stroke="#231f20" stroke-width="0.2">56</text>
<line x1="492.09" y1="503.1" x2="492.09" y2="505.6" stroke="#2b2b2b" stroke-width="1" />
<text x="492.09" y="515.2" text-anchor="middle" stroke="#231f20" stroke-width="0.2">63</text>
<text transform="translate(334.02,443.3) rotate(-90)" font-size="7.65" text-anchor="middle" stroke="#231f20" stroke-width="0.2">Tumor volume (mm³)</text>
<line x1="354.5" y1="526.8" x2="354.5" y2="530.8" stroke="#c8524c" stroke-width="1.2"/>
<polygon points="354.5,520 357.15,527.3 351.85,527.3" fill="#e6524a"/>
<text x="354.5" y="537.7" font-size="7.2" fill="#cf4a44" text-anchor="middle" font-weight="bold" stroke="#cf4a44" stroke-width="0.2">i.v.</text>
<line x1="371.2" y1="526.8" x2="371.2" y2="530.8" stroke="#c8524c" stroke-width="1.2"/>
<polygon points="371.2,520 373.85,527.3 368.55,527.3" fill="#e6524a"/>
<text x="371.2" y="537.7" font-size="7.2" fill="#cf4a44" text-anchor="middle" font-weight="bold" stroke="#cf4a44" stroke-width="0.2">i.v.</text>
<text x="385.4" y="529.9" font-size="8.3" stroke="#231f20" stroke-width="0.2">Days after treatment</text>
<polyline points="354.5,473.05 361.05,476.03 369.79,488.97 376.34,496.93 385.08,497.92 391.63,499.91 400.36,500.91 406.92,500.91 415.65,500.91 422.2,500.91 430.94,500.91 437.49,499.91 446.23,499.91 452.78,499.91 461.52,499.91 468.07,498.92 476.8,494.94 483.36,488.97 492.09,484" fill="none" stroke="#4a4aa2" stroke-width="1.25" stroke-linejoin="round" />
<polygon points="354.5,471.05 356.5,473.05 354.5,475.04 352.5,473.05" fill="#4a4aa2"/>
<polygon points="361.05,474.04 363.05,476.03 361.05,478.03 359.06,476.03" fill="#4a4aa2"/>
<polygon points="369.79,486.97 371.78,488.97 369.79,490.96 367.79,488.97" fill="#4a4aa2"/>
<polygon points="376.34,494.93 378.34,496.93 376.34,498.92 374.35,496.93" fill="#4a4aa2"/>
<polygon points="385.08,495.93 387.07,497.92 385.08,499.92 383.08,497.92" fill="#4a4aa2"/>
<polygon points="391.63,497.92 393.62,499.91 391.63,501.91 389.63,499.91" fill="#4a4aa2"/>
<polygon points="400.36,498.91 402.36,500.91 400.36,502.9 398.37,500.91" fill="#4a4aa2"/>
<polygon points="406.92,498.91 408.91,500.91 406.92,502.9 404.92,500.91" fill="#4a4aa2"/>
<polygon points="415.65,498.91 417.65,500.91 415.65,502.9 413.66,500.91" fill="#4a4aa2"/>
<polygon points="422.2,498.91 424.2,500.91 422.2,502.9 420.21,500.91" fill="#4a4aa2"/>
<polygon points="430.94,498.91 432.94,500.91 430.94,502.9 428.94,500.91" fill="#4a4aa2"/>
<polygon points="437.49,497.92 439.49,499.91 437.49,501.91 435.5,499.91" fill="#4a4aa2"/>
<polygon points="446.23,497.92 448.22,499.91 446.23,501.91 444.23,499.91" fill="#4a4aa2"/>
<polygon points="452.78,497.92 454.77,499.91 452.78,501.91 450.78,499.91" fill="#4a4aa2"/>
<polygon points="461.52,497.92 463.51,499.91 461.52,501.91 459.52,499.91" fill="#4a4aa2"/>
<polygon points="468.07,496.92 470.06,498.92 468.07,500.91 466.07,498.92" fill="#4a4aa2"/>
<polygon points="476.8,492.94 478.8,494.94 476.8,496.94 474.81,494.94" fill="#4a4aa2"/>
<polygon points="483.36,486.97 485.35,488.97 483.36,490.96 481.36,488.97" fill="#4a4aa2"/>
<polygon points="492.09,482 494.09,484 492.09,485.99 490.1,484" fill="#4a4aa2"/>
<polyline points="354.5,475.04 361.05,479.02 369.79,489.96 376.34,497.92 385.08,498.92 391.63,500.91 400.36,501.9 406.92,501.9 415.65,501.9 422.2,501.9 430.94,501.9 437.49,501.9 446.23,501.9 452.78,501.9 461.52,501.9 468.07,500.91 476.8,498.92 483.36,495.94 492.09,491.95" fill="none" stroke="#4a4aa2" stroke-width="1.25" stroke-linejoin="round" />
<polygon points="354.5,473.04 356.5,475.04 354.5,477.03 352.5,475.04" fill="#4a4aa2"/>
<polygon points="361.05,477.02 363.05,479.02 361.05,481.01 359.06,479.02" fill="#4a4aa2"/>
<polygon points="369.79,487.97 371.78,489.96 369.79,491.96 367.79,489.96" fill="#4a4aa2"/>
<polygon points="376.34,495.93 378.34,497.92 376.34,499.92 374.35,497.92" fill="#4a4aa2"/>
<polygon points="385.08,496.92 387.07,498.92 385.08,500.91 383.08,498.92" fill="#4a4aa2"/>
<polygon points="391.63,498.91 393.62,500.91 391.63,502.9 389.63,500.91" fill="#4a4aa2"/>
<polygon points="400.36,499.91 402.36,501.9 400.36,503.9 398.37,501.9" fill="#4a4aa2"/>
<polygon points="406.92,499.91 408.91,501.9 406.92,503.9 404.92,501.9" fill="#4a4aa2"/>
<polygon points="415.65,499.91 417.65,501.9 415.65,503.9 413.66,501.9" fill="#4a4aa2"/>
<polygon points="422.2,499.91 424.2,501.9 422.2,503.9 420.21,501.9" fill="#4a4aa2"/>
<polygon points="430.94,499.91 432.94,501.9 430.94,503.9 428.94,501.9" fill="#4a4aa2"/>
<polygon points="437.49,499.91 439.49,501.9 437.49,503.9 435.5,501.9" fill="#4a4aa2"/>
<polygon points="446.23,499.91 448.22,501.9 446.23,503.9 444.23,501.9" fill="#4a4aa2"/>
<polygon points="452.78,499.91 454.77,501.9 452.78,503.9 450.78,501.9" fill="#4a4aa2"/>
<polygon points="461.52,499.91 463.51,501.9 461.52,503.9 459.52,501.9" fill="#4a4aa2"/>
<polygon points="468.07,498.91 470.06,500.91 468.07,502.9 466.07,500.91" fill="#4a4aa2"/>
<polygon points="476.8,496.92 478.8,498.92 476.8,500.91 474.81,498.92" fill="#4a4aa2"/>
<polygon points="483.36,493.94 485.35,495.94 483.36,497.93 481.36,495.94" fill="#4a4aa2"/>
<polygon points="492.09,489.96 494.09,491.95 492.09,493.95 490.1,491.95" fill="#4a4aa2"/>
<polyline points="354.5,483 361.05,494.94 369.79,498.92 376.34,500.91 385.08,501.9 391.63,502.5 400.36,502.9 406.92,502.9 415.65,502.9 422.2,502.9 430.94,502.9 437.49,502.9 446.23,502.9 452.78,502.9 461.52,502.9 468.07,502.9 476.8,502.9 483.36,502.9 492.09,502.9" fill="none" stroke="#4a4aa2" stroke-width="1.25" stroke-linejoin="round" />
<polygon points="354.5,481 356.5,483 354.5,485 352.5,483" fill="#4a4aa2"/>
<polygon points="361.05,492.94 363.05,494.94 361.05,496.94 359.06,494.94" fill="#4a4aa2"/>
<polygon points="369.79,496.92 371.78,498.92 369.79,500.91 367.79,498.92" fill="#4a4aa2"/>
<polygon points="376.34,498.91 378.34,500.91 376.34,502.9 374.35,500.91" fill="#4a4aa2"/>
<polygon points="385.08,499.91 387.07,501.9 385.08,503.9 383.08,501.9" fill="#4a4aa2"/>
<polygon points="391.63,500.51 393.62,502.5 391.63,504.5 389.63,502.5" fill="#4a4aa2"/>
<polygon points="400.36,500.9 402.36,502.9 400.36,504.89 398.37,502.9" fill="#4a4aa2"/>
<polygon points="406.92,500.9 408.91,502.9 406.92,504.89 404.92,502.9" fill="#4a4aa2"/>
<polygon points="415.65,500.9 417.65,502.9 415.65,504.89 413.66,502.9" fill="#4a4aa2"/>
<polygon points="422.2,500.9 424.2,502.9 422.2,504.89 420.21,502.9" fill="#4a4aa2"/>
<polygon points="430.94,500.9 432.94,502.9 430.94,504.89 428.94,502.9" fill="#4a4aa2"/>
<polygon points="437.49,500.9 439.49,502.9 437.49,504.89 435.5,502.9" fill="#4a4aa2"/>
<polygon points="446.23,500.9 448.22,502.9 446.23,504.89 444.23,502.9" fill="#4a4aa2"/>
<polygon points="452.78,500.9 454.77,502.9 452.78,504.89 450.78,502.9" fill="#4a4aa2"/>
<polygon points="461.52,500.9 463.51,502.9 461.52,504.89 459.52,502.9" fill="#4a4aa2"/>
<polygon points="468.07,500.9 470.06,502.9 468.07,504.89 466.07,502.9" fill="#4a4aa2"/>
<polygon points="476.8,500.9 478.8,502.9 476.8,504.89 474.81,502.9" fill="#4a4aa2"/>
<polygon points="483.36,500.9 485.35,502.9 483.36,504.89 481.36,502.9" fill="#4a4aa2"/>
<polygon points="492.09,500.9 494.09,502.9 492.09,504.89 490.1,502.9" fill="#4a4aa2"/>
<polyline points="354.5,481.01 361.05,484 369.79,490.96 376.34,497.92 385.08,499.91 391.63,501.9 400.36,502.5 406.92,502.9 415.65,502.9 422.2,502.9 430.94,502.9 437.49,502.9 446.23,502.9 452.78,502.9 461.52,502.9 468.07,502.9 476.8,502.9 483.36,502.9 492.09,502.9" fill="none" stroke="#4a4aa2" stroke-width="1.25" stroke-linejoin="round" />
<polygon points="354.5,479.01 356.5,481.01 354.5,483 352.5,481.01" fill="#4a4aa2"/>
<polygon points="361.05,482 363.05,484 361.05,485.99 359.06,484" fill="#4a4aa2"/>
<polygon points="369.79,488.96 371.78,490.96 369.79,492.95 367.79,490.96" fill="#4a4aa2"/>
<polygon points="376.34,495.93 378.34,497.92 376.34,499.92 374.35,497.92" fill="#4a4aa2"/>
<polygon points="385.08,497.92 387.07,499.91 385.08,501.91 383.08,499.91" fill="#4a4aa2"/>
<polygon points="391.63,499.91 393.62,501.9 391.63,503.9 389.63,501.9" fill="#4a4aa2"/>
<polygon points="400.36,500.51 402.36,502.5 400.36,504.5 398.37,502.5" fill="#4a4aa2"/>
<polygon points="406.92,500.9 408.91,502.9 406.92,504.89 404.92,502.9" fill="#4a4aa2"/>
<polygon points="415.65,500.9 417.65,502.9 415.65,504.89 413.66,502.9" fill="#4a4aa2"/>
<polygon points="422.2,500.9 424.2,502.9 422.2,504.89 420.21,502.9" fill="#4a4aa2"/>
<polygon points="430.94,500.9 432.94,502.9 430.94,504.89 428.94,502.9" fill="#4a4aa2"/>
<polygon points="437.49,500.9 439.49,502.9 437.49,504.89 435.5,502.9" fill="#4a4aa2"/>
<polygon points="446.23,500.9 448.22,502.9 446.23,504.89 444.23,502.9" fill="#4a4aa2"/>
<polygon points="452.78,500.9 454.77,502.9 452.78,504.89 450.78,502.9" fill="#4a4aa2"/>
<polygon points="461.52,500.9 463.51,502.9 461.52,504.89 459.52,502.9" fill="#4a4aa2"/>
<polygon points="468.07,500.9 470.06,502.9 468.07,504.89 466.07,502.9" fill="#4a4aa2"/>
<polygon points="476.8,500.9 478.8,502.9 476.8,504.89 474.81,502.9" fill="#4a4aa2"/>
<polygon points="483.36,500.9 485.35,502.9 483.36,504.89 481.36,502.9" fill="#4a4aa2"/>
<polygon points="492.09,500.9 494.09,502.9 492.09,504.89 490.1,502.9" fill="#4a4aa2"/>
<polyline points="354.5,484.99 361.05,486.98 369.79,493.94 376.34,499.91 385.08,500.91 391.63,502.3 400.36,502.9 406.92,502.9 415.65,502.9 422.2,502.9 430.94,502.9 437.49,502.9 446.23,502.9 452.78,502.9 461.52,502.9 468.07,502.9 476.8,502.9 483.36,502.9 492.09,502.9" fill="none" stroke="#4a4aa2" stroke-width="1.25" stroke-linejoin="round" />
<polygon points="354.5,482.99 356.5,484.99 354.5,486.98 352.5,484.99" fill="#4a4aa2"/>
<polygon points="361.05,484.98 363.05,486.98 361.05,488.97 359.06,486.98" fill="#4a4aa2"/>
<polygon points="369.79,491.95 371.78,493.94 369.79,495.94 367.79,493.94" fill="#4a4aa2"/>
<polygon points="376.34,497.92 378.34,499.91 376.34,501.91 374.35,499.91" fill="#4a4aa2"/>
<polygon points="385.08,498.91 387.07,500.91 385.08,502.9 383.08,500.91" fill="#4a4aa2"/>
<polygon points="391.63,500.31 393.62,502.3 391.63,504.3 389.63,502.3" fill="#4a4aa2"/>
<polygon points="400.36,500.9 402.36,502.9 400.36,504.89 398.37,502.9" fill="#4a4aa2"/>
<polygon points="406.92,500.9 408.91,502.9 406.92,504.89 404.92,502.9" fill="#4a4aa2"/>
<polygon points="415.65,500.9 417.65,502.9 415.65,504.89 413.66,502.9" fill="#4a4aa2"/>
<polygon points="422.2,500.9 424.2,502.9 422.2,504.89 420.21,502.9" fill="#4a4aa2"/>
<polygon points="430.94,500.9 432.94,502.9 430.94,504.89 428.94,502.9" fill="#4a4aa2"/>
<polygon points="437.49,500.9 439.49,502.9 437.49,504.89 435.5,502.9" fill="#4a4aa2"/>
<polygon points="446.23,500.9 448.22,502.9 446.23,504.89 444.23,502.9" fill="#4a4aa2"/>
<polygon points="452.78,500.9 454.77,502.9 452.78,504.89 450.78,502.9" fill="#4a4aa2"/>
<polygon points="461.52,500.9 463.51,502.9 461.52,504.89 459.52,502.9" fill="#4a4aa2"/>
<polygon points="468.07,500.9 470.06,502.9 468.07,504.89 466.07,502.9" fill="#4a4aa2"/>
<polygon points="476.8,500.9 478.8,502.9 476.8,504.89 474.81,502.9" fill="#4a4aa2"/>
<polygon points="483.36,500.9 485.35,502.9 483.36,504.89 481.36,502.9" fill="#4a4aa2"/>
<polygon points="492.09,500.9 494.09,502.9 492.09,504.89 490.1,502.9" fill="#4a4aa2"/>
<polyline points="354.5,461.11 361.05,463.1 369.79,486.98 376.34,495.94 385.08,493.94 391.63,498.92 400.36,499.91 406.92,499.91 415.65,499.91 422.2,498.92 430.94,495.94 437.49,493.94 446.23,489.96 452.78,485.98 461.52,466.08 468.07,453.15 476.8,434.25 483.36,427.28 492.09,404.39" fill="none" stroke="#e8473f" stroke-width="1.3" stroke-linejoin="round" />
<polygon points="354.5,459.11 356.5,461.11 354.5,463.1 352.5,461.11" fill="#e8473f"/>
<polygon points="361.05,461.1 363.05,463.1 361.05,465.09 359.06,463.1" fill="#e8473f"/>
<polygon points="369.79,484.98 371.78,486.98 369.79,488.97 367.79,486.98" fill="#e8473f"/>
<polygon points="376.34,493.94 378.34,495.94 376.34,497.93 374.35,495.94" fill="#e8473f"/>
<polygon points="385.08,491.95 387.07,493.94 385.08,495.94 383.08,493.94" fill="#e8473f"/>
<polygon points="391.63,496.92 393.62,498.92 391.63,500.91 389.63,498.92" fill="#e8473f"/>
<polygon points="400.36,497.92 402.36,499.91 400.36,501.91 398.37,499.91" fill="#e8473f"/>
<polygon points="406.92,497.92 408.91,499.91 406.92,501.91 404.92,499.91" fill="#e8473f"/>
<polygon points="415.65,497.92 417.65,499.91 415.65,501.91 413.66,499.91" fill="#e8473f"/>
<polygon points="422.2,496.92 424.2,498.92 422.2,500.91 420.21,498.92" fill="#e8473f"/>
<polygon points="430.94,493.94 432.94,495.94 430.94,497.93 428.94,495.94" fill="#e8473f"/>
<polygon points="437.49,491.95 439.49,493.94 437.49,495.94 435.5,493.94" fill="#e8473f"/>
<polygon points="446.23,487.97 448.22,489.96 446.23,491.96 444.23,489.96" fill="#e8473f"/>
<polygon points="452.78,483.99 454.77,485.98 452.78,487.98 450.78,485.98" fill="#e8473f"/>
<polygon points="461.52,464.09 463.51,466.08 461.52,468.08 459.52,466.08" fill="#e8473f"/>
<polygon points="468.07,451.15 470.06,453.15 468.07,455.14 466.07,453.15" fill="#e8473f"/>
<polygon points="476.8,432.25 478.8,434.25 476.8,436.24 474.81,434.25" fill="#e8473f"/>
<polygon points="483.36,425.28 485.35,427.28 483.36,429.27 481.36,427.28" fill="#e8473f"/>
<polygon points="492.09,402.4 494.09,404.39 492.09,406.39 490.1,404.39" fill="#e8473f"/>
<polyline points="354.5,461.11 361.05,464.09 369.79,487.97 376.34,496.93 385.08,496.93 391.63,498.92 400.36,499.91 406.92,499.91 415.65,499.91 422.2,499.91 430.94,496.93 437.49,494.94 446.23,490.96 452.78,486.98 461.52,480.01 468.07,466.08 476.8,451.16 483.36,445.19 492.09,441.21" fill="none" stroke="#e8473f" stroke-width="1.3" stroke-linejoin="round" />
<polygon points="354.5,459.11 356.5,461.11 354.5,463.1 352.5,461.11" fill="#e8473f"/>
<polygon points="361.05,462.1 363.05,464.09 361.05,466.09 359.06,464.09" fill="#e8473f"/>
<polygon points="369.79,485.98 371.78,487.97 369.79,489.97 367.79,487.97" fill="#e8473f"/>
<polygon points="376.34,494.93 378.34,496.93 376.34,498.92 374.35,496.93" fill="#e8473f"/>
<polygon points="385.08,494.93 387.07,496.93 385.08,498.92 383.08,496.93" fill="#e8473f"/>
<polygon points="391.63,496.92 393.62,498.92 391.63,500.91 389.63,498.92" fill="#e8473f"/>
<polygon points="400.36,497.92 402.36,499.91 400.36,501.91 398.37,499.91" fill="#e8473f"/>
<polygon points="406.92,497.92 408.91,499.91 406.92,501.91 404.92,499.91" fill="#e8473f"/>
<polygon points="415.65,497.92 417.65,499.91 415.65,501.91 413.66,499.91" fill="#e8473f"/>
<polygon points="422.2,497.92 424.2,499.91 422.2,501.91 420.21,499.91" fill="#e8473f"/>
<polygon points="430.94,494.93 432.94,496.93 430.94,498.92 428.94,496.93" fill="#e8473f"/>
<polygon points="437.49,492.94 439.49,494.94 437.49,496.94 435.5,494.94" fill="#e8473f"/>
<polygon points="446.23,488.96 448.22,490.96 446.23,492.95 444.23,490.96" fill="#e8473f"/>
<polygon points="452.78,484.98 454.77,486.98 452.78,488.97 450.78,486.98" fill="#e8473f"/>
<polygon points="461.52,478.02 463.51,480.01 461.52,482.01 459.52,480.01" fill="#e8473f"/>
<polygon points="468.07,464.09 470.06,466.08 468.07,468.08 466.07,466.08" fill="#e8473f"/>
<polygon points="476.8,449.16 478.8,451.16 476.8,453.15 474.81,451.16" fill="#e8473f"/>
<polygon points="483.36,443.19 485.35,445.19 483.36,447.19 481.36,445.19" fill="#e8473f"/>
<polygon points="492.09,439.21 494.09,441.21 492.09,443.2 490.1,441.21" fill="#e8473f"/>
<polyline points="354.5,477.03 361.05,481.01 369.79,490.96 376.34,496.93 385.08,498.92 391.63,500.91 400.36,501.9 406.92,501.9 415.65,501.9 422.2,501.9 430.94,502.5 437.49,502.9 446.23,502.9 452.78,502.9 461.52,502.9 468.07,502.9 476.8,502.9 483.36,502.9 492.09,502.9" fill="none" stroke="#e8473f" stroke-width="1.3" stroke-linejoin="round" />
<polygon points="354.5,475.03 356.5,477.03 354.5,479.02 352.5,477.03" fill="#e8473f"/>
<polygon points="361.05,479.01 363.05,481.01 361.05,483 359.06,481.01" fill="#e8473f"/>
<polygon points="369.79,488.96 371.78,490.96 369.79,492.95 367.79,490.96" fill="#e8473f"/>
<polygon points="376.34,494.93 378.34,496.93 376.34,498.92 374.35,496.93" fill="#e8473f"/>
<polygon points="385.08,496.92 387.07,498.92 385.08,500.91 383.08,498.92" fill="#e8473f"/>
<polygon points="391.63,498.91 393.62,500.91 391.63,502.9 389.63,500.91" fill="#e8473f"/>
<polygon points="400.36,499.91 402.36,501.9 400.36,503.9 398.37,501.9" fill="#e8473f"/>
<polygon points="406.92,499.91 408.91,501.9 406.92,503.9 404.92,501.9" fill="#e8473f"/>
<polygon points="415.65,499.91 417.65,501.9 415.65,503.9 413.66,501.9" fill="#e8473f"/>
<polygon points="422.2,499.91 424.2,501.9 422.2,503.9 420.21,501.9" fill="#e8473f"/>
<polygon points="430.94,500.51 432.94,502.5 430.94,504.5 428.94,502.5" fill="#e8473f"/>
<polygon points="437.49,500.9 439.49,502.9 437.49,504.89 435.5,502.9" fill="#e8473f"/>
<polygon points="446.23,500.9 448.22,502.9 446.23,504.89 444.23,502.9" fill="#e8473f"/>
<polygon points="452.78,500.9 454.77,502.9 452.78,504.89 450.78,502.9" fill="#e8473f"/>
<polygon points="461.52,500.9 463.51,502.9 461.52,504.89 459.52,502.9" fill="#e8473f"/>
<polygon points="468.07,500.9 470.06,502.9 468.07,504.89 466.07,502.9" fill="#e8473f"/>
<polygon points="476.8,500.9 478.8,502.9 476.8,504.89 474.81,502.9" fill="#e8473f"/>
<polygon points="483.36,500.9 485.35,502.9 483.36,504.89 481.36,502.9" fill="#e8473f"/>
<polygon points="492.09,500.9 494.09,502.9 492.09,504.89 490.1,502.9" fill="#e8473f"/>
<polyline points="354.5,479.02 361.05,483 369.79,491.95 376.34,497.92 385.08,498.92 391.63,500.91 400.36,501.9 406.92,502.3 415.65,502.5 422.2,502.9 430.94,502.9 437.49,502.9 446.23,502.9 452.78,502.9 461.52,502.9 468.07,502.9 476.8,502.9 483.36,502.9 492.09,502.9" fill="none" stroke="#e8473f" stroke-width="1.3" stroke-linejoin="round" />
<polygon points="354.5,477.02 356.5,479.02 354.5,481.01 352.5,479.02" fill="#e8473f"/>
<polygon points="361.05,481 363.05,483 361.05,485 359.06,483" fill="#e8473f"/>
<polygon points="369.79,489.96 371.78,491.95 369.79,493.95 367.79,491.95" fill="#e8473f"/>
<polygon points="376.34,495.93 378.34,497.92 376.34,499.92 374.35,497.92" fill="#e8473f"/>
<polygon points="385.08,496.92 387.07,498.92 385.08,500.91 383.08,498.92" fill="#e8473f"/>
<polygon points="391.63,498.91 393.62,500.91 391.63,502.9 389.63,500.91" fill="#e8473f"/>
<polygon points="400.36,499.91 402.36,501.9 400.36,503.9 398.37,501.9" fill="#e8473f"/>
<polygon points="406.92,500.31 408.91,502.3 406.92,504.3 404.92,502.3" fill="#e8473f"/>
<polygon points="415.65,500.51 417.65,502.5 415.65,504.5 413.66,502.5" fill="#e8473f"/>
<polygon points="422.2,500.9 424.2,502.9 422.2,504.89 420.21,502.9" fill="#e8473f"/>
<polygon points="430.94,500.9 432.94,502.9 430.94,504.89 428.94,502.9" fill="#e8473f"/>
<polygon points="437.49,500.9 439.49,502.9 437.49,504.89 435.5,502.9" fill="#e8473f"/>
<polygon points="446.23,500.9 448.22,502.9 446.23,504.89 444.23,502.9" fill="#e8473f"/>
<polygon points="452.78,500.9 454.77,502.9 452.78,504.89 450.78,502.9" fill="#e8473f"/>
<polygon points="461.52,500.9 463.51,502.9 461.52,504.89 459.52,502.9" fill="#e8473f"/>
<polygon points="468.07,500.9 470.06,502.9 468.07,504.89 466.07,502.9" fill="#e8473f"/>
<polygon points="476.8,500.9 478.8,502.9 476.8,504.89 474.81,502.9" fill="#e8473f"/>
<polygon points="483.36,500.9 485.35,502.9 483.36,504.89 481.36,502.9" fill="#e8473f"/>
<polygon points="492.09,500.9 494.09,502.9 492.09,504.89 490.1,502.9" fill="#e8473f"/>
<polyline points="354.5,483 361.05,484.99 369.79,492.95 376.34,498.92 385.08,499.91 391.63,501.31 400.36,502.3 406.92,502.5 415.65,502.9 422.2,502.9 430.94,502.9 437.49,502.9 446.23,502.9 452.78,502.9 461.52,502.9 468.07,502.9 476.8,502.9 483.36,502.9 492.09,502.9" fill="none" stroke="#e8473f" stroke-width="1.3" stroke-linejoin="round" />
<polygon points="354.5,481 356.5,483 354.5,485 352.5,483" fill="#e8473f"/>
<polygon points="361.05,482.99 363.05,484.99 361.05,486.98 359.06,484.99" fill="#e8473f"/>
<polygon points="369.79,490.95 371.78,492.95 369.79,494.94 367.79,492.95" fill="#e8473f"/>
<polygon points="376.34,496.92 378.34,498.92 376.34,500.91 374.35,498.92" fill="#e8473f"/>
<polygon points="385.08,497.92 387.07,499.91 385.08,501.91 383.08,499.91" fill="#e8473f"/>
<polygon points="391.63,499.31 393.62,501.31 391.63,503.3 389.63,501.31" fill="#e8473f"/>
<polygon points="400.36,500.31 402.36,502.3 400.36,504.3 398.37,502.3" fill="#e8473f"/>
<polygon points="406.92,500.51 408.91,502.5 406.92,504.5 404.92,502.5" fill="#e8473f"/>
<polygon points="415.65,500.9 417.65,502.9 415.65,504.89 413.66,502.9" fill="#e8473f"/>
<polygon points="422.2,500.9 424.2,502.9 422.2,504.89 420.21,502.9" fill="#e8473f"/>
<polygon points="430.94,500.9 432.94,502.9 430.94,504.89 428.94,502.9" fill="#e8473f"/>
<polygon points="437.49,500.9 439.49,502.9 437.49,504.89 435.5,502.9" fill="#e8473f"/>
<polygon points="446.23,500.9 448.22,502.9 446.23,504.89 444.23,502.9" fill="#e8473f"/>
<polygon points="452.78,500.9 454.77,502.9 452.78,504.89 450.78,502.9" fill="#e8473f"/>
<polygon points="461.52,500.9 463.51,502.9 461.52,504.89 459.52,502.9" fill="#e8473f"/>
<polygon points="468.07,500.9 470.06,502.9 468.07,504.89 466.07,502.9" fill="#e8473f"/>
<polygon points="476.8,500.9 478.8,502.9 476.8,504.89 474.81,502.9" fill="#e8473f"/>
<polygon points="483.36,500.9 485.35,502.9 483.36,504.89 481.36,502.9" fill="#e8473f"/>
<polygon points="492.09,500.9 494.09,502.9 492.09,504.89 490.1,502.9" fill="#e8473f"/>
<text x="495.4" y="500.7" font-size="7.3" fill="#e8473f" stroke="#e8473f" stroke-width="0.2">3/5 CR</text>
<text x="495.4" y="507.5" font-size="7.3" fill="#4a4aa2" stroke="#4a4aa2" stroke-width="0.2">3/5 CR</text>
<line x1="361.7" y1="389.4" x2="371.3" y2="389.4" stroke="#e8473f" stroke-width="1" />
<polygon points="366.5,387.5 368.4,389.4 366.5,391.3 364.6,389.4" fill="#e8473f"/>
<text x="373.3" y="392.17" font-size="7.7" stroke="#231f20" stroke-width="0.2">Tras–GGFG–DXd</text>
<line x1="361.7" y1="399" x2="371.3" y2="399" stroke="#4a4aa2" stroke-width="1" />
<polygon points="366.5,397.1 368.4,399 366.5,400.9 364.6,399" fill="#4a4aa2"/>
<text x="373.3" y="401.77" font-size="7.7" stroke="#231f20" stroke-width="0.2">MTX-1000</text>
<text x="1" y="571" font-size="10.5" font-weight="bold" stroke="#231f20" stroke-width="0.2">E</text>
<text x="32.5" y="578.8" font-size="8.5" font-weight="bold" stroke="#231f20" stroke-width="0.2">HER3 PDX</text>
<text x="32.5" y="589.1" font-size="8.5" stroke="#231f20" stroke-width="0.2">200717</text>
<text x="42.7" y="599.4" font-size="8.5" stroke="#231f20" stroke-width="0.2">H-score 25 <tspan fill="#d9453d" stroke="#d9453d">1+</tspan></text>
<g><rect x="39.4" y="603.1" width="63.4" height="55.3" fill="#b09ab2"/><rect x="39.4" y="603.1" width="63.4" height="55.3" filter="url(#texE0)"/><rect x="39.4" y="603.1" width="63.4" height="55.3" filter="url(#texE1)"/><rect x="39.4" y="603.1" width="63.4" height="55.3" filter="url(#texE2)"/><rect x="43.5" y="650.8" width="13.4" height="2.6" fill="#e3262b"/></g>
<rect x="8.1" y="662.1" width="38.6" height="21.9" fill="#e3e3e3" />
<text x="27.4" y="671.67" font-size="7.7" fill="#3a3a3a" text-anchor="middle" stroke="#3a3a3a" stroke-width="0.08">Staining</text>
<text x="27.4" y="679.97" font-size="7.7" fill="#3a3a3a" text-anchor="middle" stroke="#3a3a3a" stroke-width="0.08">intensity</text>
<rect x="8.1" y="686" width="38.6" height="21.7" fill="#e3e3e3" />
<text x="27.4" y="695.47" font-size="7.7" fill="#3a3a3a" text-anchor="middle" stroke="#3a3a3a" stroke-width="0.08">Positive</text>
<text x="27.4" y="703.77" font-size="7.7" fill="#3a3a3a" text-anchor="middle" stroke="#3a3a3a" stroke-width="0.08">cell (%)</text>
<rect x="49" y="662.1" width="22.5" height="21.9" fill="#b3a8a0" />
<text x="60.25" y="675.89" font-size="7.9" text-anchor="middle" font-weight="bold" stroke="#231f20" stroke-width="0.2">0</text>
<rect x="49" y="686" width="22.5" height="21.7" fill="#b3a8a0" />
<text x="60.25" y="699.69" font-size="7.9" text-anchor="middle" font-weight="bold" stroke="#231f20" stroke-width="0.2">75</text>
<rect x="73.5" y="662.1" width="21.1" height="21.9" fill="#fce4d4" />
<text x="84.05" y="675.89" font-size="7.9" text-anchor="middle" font-weight="bold" stroke="#231f20" stroke-width="0.2">1+</text>
<rect x="73.5" y="686" width="21.1" height="21.7" fill="#fce4d4" />
<text x="84.05" y="699.69" font-size="7.9" text-anchor="middle" font-weight="bold" stroke="#231f20" stroke-width="0.2">25</text>
<rect x="96.6" y="662.1" width="25.4" height="21.9" fill="#f7c3a0" />
<text x="109.3" y="675.89" font-size="7.9" text-anchor="middle" font-weight="bold" stroke="#231f20" stroke-width="0.2">2+</text>
<rect x="96.6" y="686" width="25.4" height="21.7" fill="#f7c3a0" />
<text x="109.3" y="699.69" font-size="7.9" text-anchor="middle" font-weight="bold" stroke="#231f20" stroke-width="0.2">0</text>
<rect x="124" y="662.1" width="22.2" height="21.9" fill="#f2a676" />
<text x="135.1" y="675.89" font-size="7.9" text-anchor="middle" font-weight="bold" stroke="#231f20" stroke-width="0.2">3+</text>
<rect x="124" y="686" width="22.2" height="21.7" fill="#f2a676" />
<text x="135.1" y="699.69" font-size="7.9" text-anchor="middle" font-weight="bold" stroke="#231f20" stroke-width="0.2">0</text>
<line x1="184" y1="586.4" x2="184" y2="682.6" stroke="#2b2b2b" stroke-width="1.15" />
<line x1="181.5" y1="682.1" x2="184" y2="682.1" stroke="#2b2b2b" stroke-width="1" />
<text x="179.4" y="684.84" font-size="7.6" text-anchor="end" stroke="#231f20" stroke-width="0.2">0</text>
<line x1="181.5" y1="663" x2="184" y2="663" stroke="#2b2b2b" stroke-width="1" />
<text x="179.4" y="665.74" font-size="7.6" text-anchor="end" stroke="#231f20" stroke-width="0.2">500</text>
<line x1="181.5" y1="643.9" x2="184" y2="643.9" stroke="#2b2b2b" stroke-width="1" />
<text x="179.4" y="646.64" font-size="7.6" text-anchor="end" stroke="#231f20" stroke-width="0.2">1,000</text>
<line x1="181.5" y1="624.8" x2="184" y2="624.8" stroke="#2b2b2b" stroke-width="1" />
<text x="179.4" y="627.54" font-size="7.6" text-anchor="end" stroke="#231f20" stroke-width="0.2">1,500</text>
<line x1="181.5" y1="605.7" x2="184" y2="605.7" stroke="#2b2b2b" stroke-width="1" />
<text x="179.4" y="608.44" font-size="7.6" text-anchor="end" stroke="#231f20" stroke-width="0.2">2,000</text>
<line x1="181.5" y1="586.6" x2="184" y2="586.6" stroke="#2b2b2b" stroke-width="1" />
<text x="179.4" y="589.34" font-size="7.6" text-anchor="end" stroke="#231f20" stroke-width="0.2">2,500</text>
<line x1="184" y1="682.2" x2="307" y2="682.2" stroke="#2b2b2b" stroke-width="1.15" />
<line x1="183.8" y1="682.2" x2="183.8" y2="684.7" stroke="#2b2b2b" stroke-width="1" />
<text x="183.8" y="692.2" text-anchor="middle" stroke="#231f20" stroke-width="0.2">0</text>
<line x1="199.13" y1="682.2" x2="199.13" y2="684.7" stroke="#2b2b2b" stroke-width="1" />
<text x="199.13" y="692.2" text-anchor="middle" stroke="#231f20" stroke-width="0.2">7</text>
<line x1="214.46" y1="682.2" x2="214.46" y2="684.7" stroke="#2b2b2b" stroke-width="1" />
<text x="214.46" y="692.2" text-anchor="middle" stroke="#231f20" stroke-width="0.2">14</text>
<line x1="229.79" y1="682.2" x2="229.79" y2="684.7" stroke="#2b2b2b" stroke-width="1" />
<text x="229.79" y="692.2" text-anchor="middle" stroke="#231f20" stroke-width="0.2">21</text>
<line x1="245.12" y1="682.2" x2="245.12" y2="684.7" stroke="#2b2b2b" stroke-width="1" />
<text x="245.12" y="692.2" text-anchor="middle" stroke="#231f20" stroke-width="0.2">28</text>
<line x1="260.45" y1="682.2" x2="260.45" y2="684.7" stroke="#2b2b2b" stroke-width="1" />
<text x="260.45" y="692.2" text-anchor="middle" stroke="#231f20" stroke-width="0.2">35</text>
<line x1="275.78" y1="682.2" x2="275.78" y2="684.7" stroke="#2b2b2b" stroke-width="1" />
<text x="275.78" y="692.2" text-anchor="middle" stroke="#231f20" stroke-width="0.2">42</text>
<line x1="291.11" y1="682.2" x2="291.11" y2="684.7" stroke="#2b2b2b" stroke-width="1" />
<text x="291.11" y="692.2" text-anchor="middle" stroke="#231f20" stroke-width="0.2">49</text>
<line x1="306.44" y1="682.2" x2="306.44" y2="684.7" stroke="#2b2b2b" stroke-width="1" />
<text x="306.44" y="692.2" text-anchor="middle" stroke="#231f20" stroke-width="0.2">56</text>
<text transform="translate(154.96,634) rotate(-90)" font-size="7.75" text-anchor="middle" stroke="#231f20" stroke-width="0.2">Tumor volume (mm³)</text>
<text x="210.6" y="702.4" font-size="7.75" stroke="#231f20" stroke-width="0.2">Days after treatment</text>
<polyline points="183.8,676.5 190.37,677.5 199.13,679 205.7,680 214.46,680.5 221.03,680.5 229.79,680.5 236.36,680.5 245.12,680.5 251.69,680.5 260.45,680.5 267.02,680.5 275.78,680.5 282.35,680.5 291.11,678.9 297.68,677.7 306.44,676.5" fill="none" stroke="#5b52a3" stroke-width="1.1" stroke-linejoin="round" />
<rect x="182.09" y="674.79" width="3.42" height="3.42" fill="#5b52a3"/>
<rect x="188.66" y="675.79" width="3.42" height="3.42" fill="#5b52a3"/>
<rect x="197.42" y="677.29" width="3.42" height="3.42" fill="#5b52a3"/>
<rect x="203.99" y="678.29" width="3.42" height="3.42" fill="#5b52a3"/>
<rect x="212.75" y="678.79" width="3.42" height="3.42" fill="#5b52a3"/>
<rect x="219.32" y="678.79" width="3.42" height="3.42" fill="#5b52a3"/>
<rect x="228.08" y="678.79" width="3.42" height="3.42" fill="#5b52a3"/>
<rect x="234.65" y="678.79" width="3.42" height="3.42" fill="#5b52a3"/>
<rect x="243.41" y="678.79" width="3.42" height="3.42" fill="#5b52a3"/>
<rect x="249.98" y="678.79" width="3.42" height="3.42" fill="#5b52a3"/>
<rect x="258.74" y="678.79" width="3.42" height="3.42" fill="#5b52a3"/>
<rect x="265.31" y="678.79" width="3.42" height="3.42" fill="#5b52a3"/>
<rect x="274.07" y="678.79" width="3.42" height="3.42" fill="#5b52a3"/>
<rect x="280.64" y="678.79" width="3.42" height="3.42" fill="#5b52a3"/>
<rect x="289.4" y="677.19" width="3.42" height="3.42" fill="#5b52a3"/>
<rect x="295.97" y="675.99" width="3.42" height="3.42" fill="#5b52a3"/>
<rect x="304.73" y="674.79" width="3.42" height="3.42" fill="#5b52a3"/>
<line x1="260.45" y1="665" x2="260.45" y2="662" stroke="#4a4aa2" stroke-width="1.15" />
<line x1="258.45" y1="662" x2="262.45" y2="662" stroke="#4a4aa2" stroke-width="1.15" />
<line x1="267.02" y1="662" x2="267.02" y2="659" stroke="#4a4aa2" stroke-width="1.15" />
<line x1="265.02" y1="659" x2="269.02" y2="659" stroke="#4a4aa2" stroke-width="1.15" />
<line x1="275.78" y1="659.2" x2="275.78" y2="656" stroke="#4a4aa2" stroke-width="1.15" />
<line x1="273.78" y1="656" x2="277.78" y2="656" stroke="#4a4aa2" stroke-width="1.15" />
<line x1="282.35" y1="655.8" x2="282.35" y2="652.5" stroke="#4a4aa2" stroke-width="1.15" />
<line x1="280.35" y1="652.5" x2="284.35" y2="652.5" stroke="#4a4aa2" stroke-width="1.15" />
<line x1="291.11" y1="651.2" x2="291.11" y2="647.5" stroke="#4a4aa2" stroke-width="1.15" />
<line x1="289.11" y1="647.5" x2="293.11" y2="647.5" stroke="#4a4aa2" stroke-width="1.15" />
<line x1="297.68" y1="645.8" x2="297.68" y2="642" stroke="#4a4aa2" stroke-width="1.15" />
<line x1="295.68" y1="642" x2="299.68" y2="642" stroke="#4a4aa2" stroke-width="1.15" />
<line x1="306.44" y1="641.9" x2="306.44" y2="638" stroke="#4a4aa2" stroke-width="1.15" />
<line x1="304.44" y1="638" x2="308.44" y2="638" stroke="#4a4aa2" stroke-width="1.15" />
<polyline points="183.8,676.5 190.37,676.5 199.13,676.5 205.7,676 214.46,675.6 221.03,675 229.79,674.6 236.36,673.5 245.12,670.4 251.69,668.8 260.45,665 267.02,662 275.78,659.2 282.35,655.8 291.11,651.2 297.68,645.8 306.44,641.9" fill="none" stroke="#4a4aa2" stroke-width="1.1" stroke-linejoin="round" />
<circle cx="183.8" cy="676.5" r="1.8" fill="#4a4aa2"/>
<circle cx="190.37" cy="676.5" r="1.8" fill="#4a4aa2"/>
<circle cx="199.13" cy="676.5" r="1.8" fill="#4a4aa2"/>
<circle cx="205.7" cy="676" r="1.8" fill="#4a4aa2"/>
<circle cx="214.46" cy="675.6" r="1.8" fill="#4a4aa2"/>
<circle cx="221.03" cy="675" r="1.8" fill="#4a4aa2"/>
<circle cx="229.79" cy="674.6" r="1.8" fill="#4a4aa2"/>
<circle cx="236.36" cy="673.5" r="1.8" fill="#4a4aa2"/>
<circle cx="245.12" cy="670.4" r="1.8" fill="#4a4aa2"/>
<circle cx="251.69" cy="668.8" r="1.8" fill="#4a4aa2"/>
<circle cx="260.45" cy="665" r="1.8" fill="#4a4aa2"/>
<circle cx="267.02" cy="662" r="1.8" fill="#4a4aa2"/>
<circle cx="275.78" cy="659.2" r="1.8" fill="#4a4aa2"/>
<circle cx="282.35" cy="655.8" r="1.8" fill="#4a4aa2"/>
<circle cx="291.11" cy="651.2" r="1.8" fill="#4a4aa2"/>
<circle cx="297.68" cy="645.8" r="1.8" fill="#4a4aa2"/>
<circle cx="306.44" cy="641.9" r="1.8" fill="#4a4aa2"/>
<line x1="214.46" y1="674.6" x2="214.46" y2="672" stroke="#ee5a3e" stroke-width="1.15" />
<line x1="212.46" y1="672" x2="216.46" y2="672" stroke="#ee5a3e" stroke-width="1.15" />
<line x1="221.03" y1="674.6" x2="221.03" y2="672" stroke="#ee5a3e" stroke-width="1.15" />
<line x1="219.03" y1="672" x2="223.03" y2="672" stroke="#ee5a3e" stroke-width="1.15" />
<line x1="229.79" y1="673.7" x2="229.79" y2="670.5" stroke="#ee5a3e" stroke-width="1.15" />
<line x1="227.79" y1="670.5" x2="231.79" y2="670.5" stroke="#ee5a3e" stroke-width="1.15" />
<line x1="236.36" y1="672.7" x2="236.36" y2="669" stroke="#ee5a3e" stroke-width="1.15" />
<line x1="234.36" y1="669" x2="238.36" y2="669" stroke="#ee5a3e" stroke-width="1.15" />
<line x1="245.12" y1="667.9" x2="245.12" y2="664" stroke="#ee5a3e" stroke-width="1.15" />
<line x1="243.12" y1="664" x2="247.12" y2="664" stroke="#ee5a3e" stroke-width="1.15" />
<line x1="251.69" y1="665" x2="251.69" y2="661" stroke="#ee5a3e" stroke-width="1.15" />
<line x1="249.69" y1="661" x2="253.69" y2="661" stroke="#ee5a3e" stroke-width="1.15" />
<line x1="260.45" y1="658.3" x2="260.45" y2="654" stroke="#ee5a3e" stroke-width="1.15" />
<line x1="258.45" y1="654" x2="262.45" y2="654" stroke="#ee5a3e" stroke-width="1.15" />
<line x1="267.02" y1="656.3" x2="267.02" y2="651" stroke="#ee5a3e" stroke-width="1.15" />
<line x1="265.02" y1="651" x2="269.02" y2="651" stroke="#ee5a3e" stroke-width="1.15" />
<line x1="275.78" y1="652.3" x2="275.78" y2="646" stroke="#ee5a3e" stroke-width="1.15" />
<line x1="273.78" y1="646" x2="277.78" y2="646" stroke="#ee5a3e" stroke-width="1.15" />
<line x1="282.35" y1="650.5" x2="282.35" y2="643" stroke="#ee5a3e" stroke-width="1.15" />
<line x1="280.35" y1="643" x2="284.35" y2="643" stroke="#ee5a3e" stroke-width="1.15" />
<line x1="291.11" y1="643.5" x2="291.11" y2="633.8" stroke="#ee5a3e" stroke-width="1.15" />
<line x1="289.11" y1="633.8" x2="293.11" y2="633.8" stroke="#ee5a3e" stroke-width="1.15" />
<line x1="297.68" y1="637.3" x2="297.68" y2="628" stroke="#ee5a3e" stroke-width="1.15" />
<line x1="295.68" y1="628" x2="299.68" y2="628" stroke="#ee5a3e" stroke-width="1.15" />
<line x1="306.44" y1="633.8" x2="306.44" y2="624.6" stroke="#ee5a3e" stroke-width="1.15" />
<line x1="304.44" y1="624.6" x2="308.44" y2="624.6" stroke="#ee5a3e" stroke-width="1.15" />
<polyline points="183.8,676.5 190.37,676.5 199.13,676 205.7,675.5 214.46,674.6 221.03,674.6 229.79,673.7 236.36,672.7 245.12,667.9 251.69,665 260.45,658.3 267.02,656.3 275.78,652.3 282.35,650.5 291.11,643.5 297.68,637.3 306.44,633.8" fill="none" stroke="#ee5a3e" stroke-width="1.1" stroke-linejoin="round" />
<rect x="182.09" y="674.79" width="3.42" height="3.42" fill="#ee5a3e"/>
<rect x="188.66" y="674.79" width="3.42" height="3.42" fill="#ee5a3e"/>
<rect x="197.42" y="674.29" width="3.42" height="3.42" fill="#ee5a3e"/>
<rect x="203.99" y="673.79" width="3.42" height="3.42" fill="#ee5a3e"/>
<rect x="212.75" y="672.89" width="3.42" height="3.42" fill="#ee5a3e"/>
<rect x="219.32" y="672.89" width="3.42" height="3.42" fill="#ee5a3e"/>
<rect x="228.08" y="671.99" width="3.42" height="3.42" fill="#ee5a3e"/>
<rect x="234.65" y="670.99" width="3.42" height="3.42" fill="#ee5a3e"/>
<rect x="243.41" y="666.19" width="3.42" height="3.42" fill="#ee5a3e"/>
<rect x="249.98" y="663.29" width="3.42" height="3.42" fill="#ee5a3e"/>
<rect x="258.74" y="656.59" width="3.42" height="3.42" fill="#ee5a3e"/>
<rect x="265.31" y="654.59" width="3.42" height="3.42" fill="#ee5a3e"/>
<rect x="274.07" y="650.59" width="3.42" height="3.42" fill="#ee5a3e"/>
<rect x="280.64" y="648.79" width="3.42" height="3.42" fill="#ee5a3e"/>
<rect x="289.4" y="641.79" width="3.42" height="3.42" fill="#ee5a3e"/>
<rect x="295.97" y="635.59" width="3.42" height="3.42" fill="#ee5a3e"/>
<rect x="304.73" y="632.09" width="3.42" height="3.42" fill="#ee5a3e"/>
<line x1="214.46" y1="668.8" x2="214.46" y2="664" stroke="#e8473f" stroke-width="1.15" />
<line x1="212.46" y1="664" x2="216.46" y2="664" stroke="#e8473f" stroke-width="1.15" />
<line x1="221.03" y1="667.9" x2="221.03" y2="663" stroke="#e8473f" stroke-width="1.15" />
<line x1="219.03" y1="663" x2="223.03" y2="663" stroke="#e8473f" stroke-width="1.15" />
<line x1="229.79" y1="665" x2="229.79" y2="657.7" stroke="#e8473f" stroke-width="1.15" />
<line x1="227.79" y1="657.7" x2="231.79" y2="657.7" stroke="#e8473f" stroke-width="1.15" />
<line x1="236.36" y1="661.5" x2="236.36" y2="652.5" stroke="#e8473f" stroke-width="1.15" />
<line x1="234.36" y1="652.5" x2="238.36" y2="652.5" stroke="#e8473f" stroke-width="1.15" />
<line x1="245.12" y1="656.3" x2="245.12" y2="641.9" stroke="#e8473f" stroke-width="1.15" />
<line x1="243.12" y1="641.9" x2="247.12" y2="641.9" stroke="#e8473f" stroke-width="1.15" />
<line x1="251.69" y1="652.5" x2="251.69" y2="638" stroke="#e8473f" stroke-width="1.15" />
<line x1="249.69" y1="638" x2="253.69" y2="638" stroke="#e8473f" stroke-width="1.15" />
<line x1="260.45" y1="646.7" x2="260.45" y2="628.5" stroke="#e8473f" stroke-width="1.15" />
<line x1="258.45" y1="628.5" x2="262.45" y2="628.5" stroke="#e8473f" stroke-width="1.15" />
<line x1="267.02" y1="644.7" x2="267.02" y2="629" stroke="#e8473f" stroke-width="1.15" />
<line x1="265.02" y1="629" x2="269.02" y2="629" stroke="#e8473f" stroke-width="1.15" />
<line x1="275.78" y1="637.3" x2="275.78" y2="619.5" stroke="#e8473f" stroke-width="1.15" />
<line x1="273.78" y1="619.5" x2="277.78" y2="619.5" stroke="#e8473f" stroke-width="1.15" />
<line x1="282.35" y1="630.4" x2="282.35" y2="610.3" stroke="#e8473f" stroke-width="1.15" />
<line x1="280.35" y1="610.3" x2="284.35" y2="610.3" stroke="#e8473f" stroke-width="1.15" />
<line x1="291.11" y1="621.2" x2="291.11" y2="599.2" stroke="#e8473f" stroke-width="1.15" />
<line x1="289.11" y1="599.2" x2="293.11" y2="599.2" stroke="#e8473f" stroke-width="1.15" />
<polyline points="183.8,676.5 190.37,676 199.13,674 205.7,672 214.46,668.8 221.03,667.9 229.79,665 236.36,661.5 245.12,656.3 251.69,652.5 260.45,646.7 267.02,644.7 275.78,637.3 282.35,630.4 291.11,621.2" fill="none" stroke="#e8473f" stroke-width="1.1" stroke-linejoin="round" />
<circle cx="183.8" cy="676.5" r="1.8" fill="#e8473f"/>
<circle cx="190.37" cy="676" r="1.8" fill="#e8473f"/>
<circle cx="199.13" cy="674" r="1.8" fill="#e8473f"/>
<circle cx="205.7" cy="672" r="1.8" fill="#e8473f"/>
<circle cx="214.46" cy="668.8" r="1.8" fill="#e8473f"/>
<circle cx="221.03" cy="667.9" r="1.8" fill="#e8473f"/>
<circle cx="229.79" cy="665" r="1.8" fill="#e8473f"/>
<circle cx="236.36" cy="661.5" r="1.8" fill="#e8473f"/>
<circle cx="245.12" cy="656.3" r="1.8" fill="#e8473f"/>
<circle cx="251.69" cy="652.5" r="1.8" fill="#e8473f"/>
<circle cx="260.45" cy="646.7" r="1.8" fill="#e8473f"/>
<circle cx="267.02" cy="644.7" r="1.8" fill="#e8473f"/>
<circle cx="275.78" cy="637.3" r="1.8" fill="#e8473f"/>
<circle cx="282.35" cy="630.4" r="1.8" fill="#e8473f"/>
<circle cx="291.11" cy="621.2" r="1.8" fill="#e8473f"/>
<line x1="199.13" y1="671.7" x2="199.13" y2="668.8" stroke="#1a1a1a" stroke-width="1.15" />
<line x1="197.13" y1="668.8" x2="201.13" y2="668.8" stroke="#1a1a1a" stroke-width="1.15" />
<line x1="205.7" y1="668.8" x2="205.7" y2="665" stroke="#1a1a1a" stroke-width="1.15" />
<line x1="203.7" y1="665" x2="207.7" y2="665" stroke="#1a1a1a" stroke-width="1.15" />
<line x1="214.46" y1="663.1" x2="214.46" y2="657.7" stroke="#1a1a1a" stroke-width="1.15" />
<line x1="212.46" y1="657.7" x2="216.46" y2="657.7" stroke="#1a1a1a" stroke-width="1.15" />
<line x1="221.03" y1="660.8" x2="221.03" y2="653.8" stroke="#1a1a1a" stroke-width="1.15" />
<line x1="219.03" y1="653.8" x2="223.03" y2="653.8" stroke="#1a1a1a" stroke-width="1.15" />
<line x1="229.79" y1="655.4" x2="229.79" y2="646.7" stroke="#1a1a1a" stroke-width="1.15" />
<line x1="227.79" y1="646.7" x2="231.79" y2="646.7" stroke="#1a1a1a" stroke-width="1.15" />
<line x1="236.36" y1="650" x2="236.36" y2="639" stroke="#1a1a1a" stroke-width="1.15" />
<line x1="234.36" y1="639" x2="238.36" y2="639" stroke="#1a1a1a" stroke-width="1.15" />
<line x1="245.12" y1="644.8" x2="245.12" y2="630.8" stroke="#1a1a1a" stroke-width="1.15" />
<line x1="243.12" y1="630.8" x2="247.12" y2="630.8" stroke="#1a1a1a" stroke-width="1.15" />
<line x1="251.69" y1="640.4" x2="251.69" y2="625" stroke="#1a1a1a" stroke-width="1.15" />
<line x1="249.69" y1="625" x2="253.69" y2="625" stroke="#1a1a1a" stroke-width="1.15" />
<line x1="260.45" y1="631.3" x2="260.45" y2="612.1" stroke="#1a1a1a" stroke-width="1.15" />
<line x1="258.45" y1="612.1" x2="262.45" y2="612.1" stroke="#1a1a1a" stroke-width="1.15" />
<line x1="267.02" y1="624.2" x2="267.02" y2="601.5" stroke="#1a1a1a" stroke-width="1.15" />
<line x1="265.02" y1="601.5" x2="269.02" y2="601.5" stroke="#1a1a1a" stroke-width="1.15" />
<polyline points="183.8,676.5 190.37,674.6 199.13,671.7 205.7,668.8 214.46,663.1 221.03,660.8 229.79,655.4 236.36,650 245.12,644.8 251.69,640.4 260.45,631.3 267.02,624.2" fill="none" stroke="#1a1a1a" stroke-width="1.1" stroke-linejoin="round" />
<circle cx="183.8" cy="676.5" r="1.8" fill="#1a1a1a"/>
<circle cx="190.37" cy="674.6" r="1.8" fill="#1a1a1a"/>
<circle cx="199.13" cy="671.7" r="1.8" fill="#1a1a1a"/>
<circle cx="205.7" cy="668.8" r="1.8" fill="#1a1a1a"/>
<circle cx="214.46" cy="663.1" r="1.8" fill="#1a1a1a"/>
<circle cx="221.03" cy="660.8" r="1.8" fill="#1a1a1a"/>
<circle cx="229.79" cy="655.4" r="1.8" fill="#1a1a1a"/>
<circle cx="236.36" cy="650" r="1.8" fill="#1a1a1a"/>
<circle cx="245.12" cy="644.8" r="1.8" fill="#1a1a1a"/>
<circle cx="251.69" cy="640.4" r="1.8" fill="#1a1a1a"/>
<circle cx="260.45" cy="631.3" r="1.8" fill="#1a1a1a"/>
<circle cx="267.02" cy="624.2" r="1.8" fill="#1a1a1a"/>
<text x="309.6" y="679.2" fill="#5b52a3" stroke="#5b52a3" stroke-width="0.2">1/5 CR</text>
<line x1="188.8" y1="570.4" x2="197.3" y2="570.4" stroke="#1a1a1a" stroke-width="1" />
<circle cx="193.05" cy="570.4" r="1.9" fill="#1a1a1a"/>
<text x="198.9" y="573.17" font-size="7.7" stroke="#231f20" stroke-width="0.2">Vehicle</text>
<line x1="188.8" y1="578.05" x2="197.3" y2="578.05" stroke="#e8473f" stroke-width="1" />
<circle cx="193.05" cy="578.05" r="1.9" fill="#e8473f"/>
<text x="198.9" y="580.82" font-size="7.7" stroke="#231f20" stroke-width="0.2">Isotype IgG–GGFG–DXd</text>
<line x1="188.8" y1="585.7" x2="197.3" y2="585.7" stroke="#ee5a3e" stroke-width="1" />
<rect x="191.25" y="583.9" width="3.6" height="3.6" fill="#ee5a3e"/>
<text x="198.9" y="588.47" font-size="7.7" stroke="#231f20" stroke-width="0.2">P–GGFG–DXd</text>
<line x1="188.8" y1="593.35" x2="197.3" y2="593.35" stroke="#4a4aa2" stroke-width="1" />
<circle cx="193.05" cy="593.35" r="1.9" fill="#4a4aa2"/>
<text x="198.9" y="596.12" font-size="7.7" stroke="#231f20" stroke-width="0.2">Isotype IgG–T1000–exatecan</text>
<line x1="188.8" y1="601" x2="197.3" y2="601" stroke="#5b52a3" stroke-width="1" />
<rect x="191.25" y="599.2" width="3.6" height="3.6" fill="#5b52a3"/>
<text x="198.9" y="603.77" font-size="7.7" stroke="#231f20" stroke-width="0.2">P–T1000–e</text>
<text x="353.2" y="570.8" font-size="10.5" font-weight="bold" stroke="#231f20" stroke-width="0.2">F</text>
<text x="398.5" y="577.1" font-size="7.6" font-weight="bold" stroke="#231f20" stroke-width="0.2"><tspan font-style="italic">EGFR</tspan> ex19del/T790M/C797S</text>
<text x="398.5" y="586" font-size="7.6" font-weight="bold" stroke="#231f20" stroke-width="0.2">(triple mutation)</text>
<text x="398.5" y="595" font-size="7.4" stroke="#231f20" stroke-width="0.2">PDX 200717 (day 38)</text>
<line x1="393.3" y1="608.9" x2="393.3" y2="682.1" stroke="#2b2b2b" stroke-width="1.15" />
<line x1="390.8" y1="681.6" x2="393.3" y2="681.6" stroke="#2b2b2b" stroke-width="1" />
<text x="389.2" y="684.37" font-size="7.7" text-anchor="end" stroke="#231f20" stroke-width="0.2">0</text>
<line x1="390.8" y1="663.43" x2="393.3" y2="663.43" stroke="#2b2b2b" stroke-width="1" />
<text x="389.2" y="666.2" font-size="7.7" text-anchor="end" stroke="#231f20" stroke-width="0.2">100</text>
<line x1="390.8" y1="645.26" x2="393.3" y2="645.26" stroke="#2b2b2b" stroke-width="1" />
<text x="389.2" y="648.03" font-size="7.7" text-anchor="end" stroke="#231f20" stroke-width="0.2">200</text>
<line x1="390.8" y1="627.09" x2="393.3" y2="627.09" stroke="#2b2b2b" stroke-width="1" />
<text x="389.2" y="629.86" font-size="7.7" text-anchor="end" stroke="#231f20" stroke-width="0.2">300</text>
<line x1="390.8" y1="608.92" x2="393.3" y2="608.92" stroke="#2b2b2b" stroke-width="1" />
<text x="389.2" y="611.69" font-size="7.7" text-anchor="end" stroke="#231f20" stroke-width="0.2">400</text>
<line x1="393.3" y1="681.7" x2="520" y2="681.7" stroke="#2b2b2b" stroke-width="1.15" />
<line x1="419" y1="681.7" x2="419" y2="684.2" stroke="#2b2b2b" stroke-width="1" />
<line x1="458.5" y1="681.7" x2="458.5" y2="684.2" stroke="#2b2b2b" stroke-width="1" />
<line x1="494.3" y1="681.7" x2="494.3" y2="684.2" stroke="#2b2b2b" stroke-width="1" />
<text transform="translate(364.21,645) rotate(-90)" font-size="7.6" text-anchor="middle" stroke="#231f20" stroke-width="0.2">Tumor volume (mm³)</text>
<text transform="translate(373.01,643.5) rotate(-90)" font-size="7.9" text-anchor="middle" stroke="#231f20" stroke-width="0.2">(mean ± SEM)</text>
<line x1="419" y1="615.5" x2="419" y2="664" stroke="#8c8c8c" stroke-width="0.9" />
<line x1="419" y1="615.5" x2="494" y2="615.5" stroke="#8c8c8c" stroke-width="0.9" />
<line x1="494" y1="615.5" x2="494" y2="618" stroke="#8c8c8c" stroke-width="0.9" />
<line x1="458.5" y1="607.3" x2="458.5" y2="679" stroke="#8c8c8c" stroke-width="0.9" />
<line x1="458.5" y1="607.3" x2="494.3" y2="607.3" stroke="#8c8c8c" stroke-width="0.9" />
<line x1="494.3" y1="607.3" x2="494.3" y2="611" stroke="#8c8c8c" stroke-width="0.9" />
<text x="426" y="614.5" font-size="8.1" fill="#a070b4" stroke="#a070b4" stroke-width="0.2"><tspan font-size="6.2" dy="-1.2">****</tspan><tspan dy="1.2" font-style="italic">P &lt; 0.0001</tspan></text>
<text x="450.2" y="605.6" font-size="8.1" fill="#6c6cb6" stroke="#6c6cb6" stroke-width="0.2"><tspan font-size="6.2" dy="-1.2">****</tspan><tspan dy="1.2" font-style="italic">P &lt; 0.0001</tspan></text>
<line x1="406.8" y1="675" x2="430.9" y2="675" stroke="#9a4c9c" stroke-width="1.6" />
<line x1="412.3" y1="668.3" x2="425" y2="668.3" stroke="#9a4c9c" stroke-width="0.9" />
<line x1="419" y1="668.3" x2="419" y2="681.7" stroke="#9a4c9c" stroke-width="0.9" />
<circle cx="419" cy="665.3" r="1.6" fill="#9a4c9c"/>
<circle cx="419" cy="671.8" r="1.6" fill="#9a4c9c"/>
<circle cx="419" cy="675.5" r="1.6" fill="#9a4c9c"/>
<circle cx="415" cy="680.6" r="1.6" fill="#9a4c9c"/>
<circle cx="423.5" cy="680.2" r="1.6" fill="#9a4c9c"/>
<line x1="446" y1="680.2" x2="471" y2="680.2" stroke="#4a4aa2" stroke-width="1.6" />
<circle cx="446" cy="681" r="1.6" fill="#4a4aa2"/>
<circle cx="451.5" cy="679.6" r="1.6" fill="#4a4aa2"/>
<circle cx="456" cy="680.5" r="1.6" fill="#4a4aa2"/>
<circle cx="461" cy="679.4" r="1.6" fill="#4a4aa2"/>
<circle cx="467.5" cy="680.6" r="1.6" fill="#4a4aa2"/>
<line x1="482.3" y1="626.2" x2="506.9" y2="626.2" stroke="#1a1a1a" stroke-width="1.8" />
<line x1="494.3" y1="616.1" x2="494.3" y2="636.2" stroke="#1a1a1a" stroke-width="0.9" />
<line x1="488.5" y1="616.1" x2="500.8" y2="616.1" stroke="#1a1a1a" stroke-width="0.9" />
<line x1="488.5" y1="636.2" x2="500.8" y2="636.2" stroke="#1a1a1a" stroke-width="0.9" />
<circle cx="494.3" cy="614.2" r="1.6" fill="#1a1a1a"/>
<circle cx="494.3" cy="618.7" r="1.6" fill="#1a1a1a"/>
<circle cx="494.3" cy="627" r="1.6" fill="#1a1a1a"/>
<circle cx="490.6" cy="636.2" r="1.6" fill="#1a1a1a"/>
<circle cx="497.9" cy="636.2" r="1.6" fill="#1a1a1a"/>
<text transform="translate(421,689.5) rotate(-25)" font-size="7.4" text-anchor="end" stroke="#231f20" stroke-width="0.2">P–T1000–e (HER3)</text>
<text transform="translate(460.5,689.5) rotate(-25)" font-size="7.4" text-anchor="end" stroke="#231f20" stroke-width="0.2">MTX-1000 (HER2)</text>
<text transform="translate(496.5,689.5) rotate(-27)" font-size="7.4" text-anchor="end" stroke="#231f20" stroke-width="0.2">Brigatinib + cetuximab</text>
<text x="0.4" y="751" font-size="10.5" font-weight="bold" stroke="#231f20" stroke-width="0.2">G</text>
<text x="10.8" y="761.3" font-size="8.5" font-weight="bold" stroke="#231f20" stroke-width="0.2">HER3 PDX</text>
<text x="10.8" y="771.1" font-size="8.5" stroke="#231f20" stroke-width="0.2">200662</text>
<text x="40" y="780.6" font-size="8.5" stroke="#231f20" stroke-width="0.2">H-score: 90 <tspan fill="#d9453d" stroke="#d9453d">1+</tspan></text>
<g><rect x="35" y="782.8" width="66.2" height="62.3" fill="#e6d9d2"/><rect x="35" y="782.8" width="66.2" height="62.3" filter="url(#texG0)"/><rect x="35" y="782.8" width="66.2" height="62.3" filter="url(#texG1)"/><rect x="35" y="782.8" width="66.2" height="62.3" filter="url(#texG2)"/><rect x="37.5" y="838.4" width="11.7" height="2.6" fill="#e3262b"/></g>
<rect x="4" y="850.1" width="34.9" height="21.6" fill="#e3e3e3" />
<text x="21.45" y="859.46" font-size="7.8" fill="#3a3a3a" text-anchor="middle" stroke="#3a3a3a" stroke-width="0.08">Staining</text>
<text x="21.45" y="867.96" font-size="7.8" fill="#3a3a3a" text-anchor="middle" stroke="#3a3a3a" stroke-width="0.08">intensity</text>
<rect x="4" y="874" width="34.9" height="21.4" fill="#e3e3e3" />
<text x="21.45" y="883.26" font-size="7.8" fill="#3a3a3a" text-anchor="middle" stroke="#3a3a3a" stroke-width="0.08">Positive</text>
<text x="21.45" y="891.76" font-size="7.8" fill="#3a3a3a" text-anchor="middle" stroke="#3a3a3a" stroke-width="0.08">cell (%)</text>
<rect x="41.2" y="850.1" width="22.3" height="21.6" fill="#b3a8a0" />
<text x="52.35" y="863.74" font-size="7.9" text-anchor="middle" font-weight="bold" stroke="#231f20" stroke-width="0.2">0</text>
<rect x="41.2" y="874" width="22.3" height="21.4" fill="#b3a8a0" />
<text x="52.35" y="887.54" font-size="7.9" text-anchor="middle" font-weight="bold" stroke="#231f20" stroke-width="0.2">20</text>
<rect x="65.8" y="850.1" width="20.2" height="21.6" fill="#fce4d4" />
<text x="75.9" y="863.74" font-size="7.9" text-anchor="middle" font-weight="bold" stroke="#231f20" stroke-width="0.2">1+</text>
<rect x="65.8" y="874" width="20.2" height="21.4" fill="#fce4d4" />
<text x="75.9" y="887.54" font-size="7.9" text-anchor="middle" font-weight="bold" stroke="#231f20" stroke-width="0.2">70</text>
<rect x="88" y="850.1" width="25.9" height="21.6" fill="#f7c3a0" />
<text x="100.95" y="863.74" font-size="7.9" text-anchor="middle" font-weight="bold" stroke="#231f20" stroke-width="0.2">2+</text>
<rect x="88" y="874" width="25.9" height="21.4" fill="#f7c3a0" />
<text x="100.95" y="887.54" font-size="7.9" text-anchor="middle" font-weight="bold" stroke="#231f20" stroke-width="0.2">10</text>
<rect x="116.2" y="850.1" width="21.7" height="21.6" fill="#f2a676" />
<text x="127.05" y="863.74" font-size="7.9" text-anchor="middle" font-weight="bold" stroke="#231f20" stroke-width="0.2">3+</text>
<rect x="116.2" y="874" width="21.7" height="21.4" fill="#f2a676" />
<text x="127.05" y="887.54" font-size="7.9" text-anchor="middle" font-weight="bold" stroke="#231f20" stroke-width="0.2">0</text>
<line x1="171.4" y1="775" x2="171.4" y2="870.6" stroke="#2b2b2b" stroke-width="1.15" />
<line x1="169.2" y1="870.1" x2="171.4" y2="870.1" stroke="#2b2b2b" stroke-width="1" />
<text x="168" y="872.84" font-size="7.6" text-anchor="end" stroke="#231f20" stroke-width="0.2">0</text>
<line x1="169.2" y1="862.18" x2="171.4" y2="862.18" stroke="#2b2b2b" stroke-width="1" />
<text x="168" y="864.91" font-size="7.6" text-anchor="end" stroke="#231f20" stroke-width="0.2">100</text>
<line x1="169.2" y1="854.25" x2="171.4" y2="854.25" stroke="#2b2b2b" stroke-width="1" />
<text x="168" y="856.99" font-size="7.6" text-anchor="end" stroke="#231f20" stroke-width="0.2">200</text>
<line x1="169.2" y1="846.33" x2="171.4" y2="846.33" stroke="#2b2b2b" stroke-width="1" />
<text x="168" y="849.06" font-size="7.6" text-anchor="end" stroke="#231f20" stroke-width="0.2">300</text>
<line x1="169.2" y1="838.4" x2="171.4" y2="838.4" stroke="#2b2b2b" stroke-width="1" />
<text x="168" y="841.14" font-size="7.6" text-anchor="end" stroke="#231f20" stroke-width="0.2">400</text>
<line x1="169.2" y1="830.48" x2="171.4" y2="830.48" stroke="#2b2b2b" stroke-width="1" />
<text x="168" y="833.21" font-size="7.6" text-anchor="end" stroke="#231f20" stroke-width="0.2">500</text>
<line x1="169.2" y1="822.55" x2="171.4" y2="822.55" stroke="#2b2b2b" stroke-width="1" />
<text x="168" y="825.29" font-size="7.6" text-anchor="end" stroke="#231f20" stroke-width="0.2">600</text>
<line x1="169.2" y1="814.62" x2="171.4" y2="814.62" stroke="#2b2b2b" stroke-width="1" />
<text x="168" y="817.36" font-size="7.6" text-anchor="end" stroke="#231f20" stroke-width="0.2">700</text>
<line x1="169.2" y1="806.7" x2="171.4" y2="806.7" stroke="#2b2b2b" stroke-width="1" />
<text x="168" y="809.44" font-size="7.6" text-anchor="end" stroke="#231f20" stroke-width="0.2">800</text>
<line x1="169.2" y1="798.77" x2="171.4" y2="798.77" stroke="#2b2b2b" stroke-width="1" />
<text x="168" y="801.51" font-size="7.6" text-anchor="end" stroke="#231f20" stroke-width="0.2">900</text>
<line x1="169.2" y1="790.85" x2="171.4" y2="790.85" stroke="#2b2b2b" stroke-width="1" />
<text x="168" y="793.59" font-size="7.6" text-anchor="end" stroke="#231f20" stroke-width="0.2">1,000</text>
<line x1="169.2" y1="782.93" x2="171.4" y2="782.93" stroke="#2b2b2b" stroke-width="1" />
<text x="168" y="785.66" font-size="7.6" text-anchor="end" stroke="#231f20" stroke-width="0.2">1,100</text>
<line x1="169.2" y1="775" x2="171.4" y2="775" stroke="#2b2b2b" stroke-width="1" />
<text x="168" y="777.74" font-size="7.6" text-anchor="end" stroke="#231f20" stroke-width="0.2">1,200</text>
<line x1="171.4" y1="870.1" x2="297" y2="870.1" stroke="#2b2b2b" stroke-width="1.15" />
<line x1="171.7" y1="870.1" x2="171.7" y2="872.6" stroke="#2b2b2b" stroke-width="1" />
<text x="171.7" y="880.6" text-anchor="middle" stroke="#231f20" stroke-width="0.2">0</text>
<line x1="189.48" y1="870.1" x2="189.48" y2="872.6" stroke="#2b2b2b" stroke-width="1" />
<text x="189.48" y="880.6" text-anchor="middle" stroke="#231f20" stroke-width="0.2">7</text>
<line x1="207.26" y1="870.1" x2="207.26" y2="872.6" stroke="#2b2b2b" stroke-width="1" />
<text x="207.26" y="880.6" text-anchor="middle" stroke="#231f20" stroke-width="0.2">14</text>
<line x1="225.04" y1="870.1" x2="225.04" y2="872.6" stroke="#2b2b2b" stroke-width="1" />
<text x="225.04" y="880.6" text-anchor="middle" stroke="#231f20" stroke-width="0.2">21</text>
<line x1="242.82" y1="870.1" x2="242.82" y2="872.6" stroke="#2b2b2b" stroke-width="1" />
<text x="242.82" y="880.6" text-anchor="middle" stroke="#231f20" stroke-width="0.2">28</text>
<line x1="260.6" y1="870.1" x2="260.6" y2="872.6" stroke="#2b2b2b" stroke-width="1" />
<text x="260.6" y="880.6" text-anchor="middle" stroke="#231f20" stroke-width="0.2">35</text>
<line x1="278.38" y1="870.1" x2="278.38" y2="872.6" stroke="#2b2b2b" stroke-width="1" />
<text x="278.38" y="880.6" text-anchor="middle" stroke="#231f20" stroke-width="0.2">42</text>
<line x1="296.16" y1="870.1" x2="296.16" y2="872.6" stroke="#2b2b2b" stroke-width="1" />
<text x="296.16" y="880.6" text-anchor="middle" stroke="#231f20" stroke-width="0.2">49</text>
<text transform="translate(146.39,822) rotate(-90)" font-size="7.85" text-anchor="middle" stroke="#231f20" stroke-width="0.2">Tumor volume ± SEM (mm³)</text>
<line x1="171.5" y1="889.5" x2="171.5" y2="893.5" stroke="#c8524c" stroke-width="1.2"/>
<polygon points="171.5,882.7 174.15,890 168.85,890" fill="#e6524a"/>
<text x="171.5" y="900.6" font-size="7.2" fill="#cf4a44" text-anchor="middle" font-weight="bold" stroke="#cf4a44" stroke-width="0.2">i.v.</text>
<line x1="188.8" y1="889.5" x2="188.8" y2="893.5" stroke="#c8524c" stroke-width="1.2"/>
<polygon points="188.8,882.7 191.45,890 186.15,890" fill="#e6524a"/>
<text x="188.8" y="900.6" font-size="7.2" fill="#cf4a44" text-anchor="middle" font-weight="bold" stroke="#cf4a44" stroke-width="0.2">i.v.</text>
<text x="199.2" y="891.6" font-size="7.85" stroke="#231f20" stroke-width="0.2">Days after administration</text>
<polyline points="171.7,848.7 181.86,849.5 192.02,858.21 199.64,863.76 209.8,867.72 217.42,869.7 227.58,870.1 235.2,870.1 242.82,870.1 252.98,870.1 260.6,870.1 270.76,870.1 278.38,870.1 288.54,870.1 296.16,870.1" fill="none" stroke="#6a62b0" stroke-width="0.8" stroke-linejoin="round" />
<rect x="170.35" y="847.35" width="2.7" height="2.7" fill="#6a62b0"/>
<rect x="180.51" y="848.14" width="2.7" height="2.7" fill="#6a62b0"/>
<rect x="190.67" y="856.86" width="2.7" height="2.7" fill="#6a62b0"/>
<rect x="198.29" y="862.41" width="2.7" height="2.7" fill="#6a62b0"/>
<rect x="208.45" y="866.37" width="2.7" height="2.7" fill="#6a62b0"/>
<rect x="216.07" y="868.35" width="2.7" height="2.7" fill="#6a62b0"/>
<rect x="226.23" y="868.75" width="2.7" height="2.7" fill="#6a62b0"/>
<rect x="233.85" y="868.75" width="2.7" height="2.7" fill="#6a62b0"/>
<rect x="241.47" y="868.75" width="2.7" height="2.7" fill="#6a62b0"/>
<rect x="251.63" y="868.75" width="2.7" height="2.7" fill="#6a62b0"/>
<rect x="259.25" y="868.75" width="2.7" height="2.7" fill="#6a62b0"/>
<rect x="269.41" y="868.75" width="2.7" height="2.7" fill="#6a62b0"/>
<rect x="277.03" y="868.75" width="2.7" height="2.7" fill="#6a62b0"/>
<rect x="287.19" y="868.75" width="2.7" height="2.7" fill="#6a62b0"/>
<rect x="294.81" y="868.75" width="2.7" height="2.7" fill="#6a62b0"/>
<polyline points="171.7,850.29 181.86,854.25 192.02,860.59 199.64,865.35 209.8,868.51 217.42,870.1 227.58,870.1 235.2,870.1 242.82,870.1 252.98,870.1 260.6,870.1 270.76,870.1 278.38,870.1 288.54,870.1 296.16,870.1" fill="none" stroke="#6a62b0" stroke-width="0.8" stroke-linejoin="round" />
<rect x="170.35" y="848.94" width="2.7" height="2.7" fill="#6a62b0"/>
<rect x="180.51" y="852.9" width="2.7" height="2.7" fill="#6a62b0"/>
<rect x="190.67" y="859.24" width="2.7" height="2.7" fill="#6a62b0"/>
<rect x="198.29" y="864" width="2.7" height="2.7" fill="#6a62b0"/>
<rect x="208.45" y="867.16" width="2.7" height="2.7" fill="#6a62b0"/>
<rect x="216.07" y="868.75" width="2.7" height="2.7" fill="#6a62b0"/>
<rect x="226.23" y="868.75" width="2.7" height="2.7" fill="#6a62b0"/>
<rect x="233.85" y="868.75" width="2.7" height="2.7" fill="#6a62b0"/>
<rect x="241.47" y="868.75" width="2.7" height="2.7" fill="#6a62b0"/>
<rect x="251.63" y="868.75" width="2.7" height="2.7" fill="#6a62b0"/>
<rect x="259.25" y="868.75" width="2.7" height="2.7" fill="#6a62b0"/>
<rect x="269.41" y="868.75" width="2.7" height="2.7" fill="#6a62b0"/>
<rect x="277.03" y="868.75" width="2.7" height="2.7" fill="#6a62b0"/>
<rect x="287.19" y="868.75" width="2.7" height="2.7" fill="#6a62b0"/>
<rect x="294.81" y="868.75" width="2.7" height="2.7" fill="#6a62b0"/>
<polyline points="171.7,854.25 181.86,858.21 192.02,863.76 199.64,866.93 209.8,869.31 217.42,870.1 227.58,870.1 235.2,870.1 242.82,870.1 252.98,870.1 260.6,870.1 270.76,870.1 278.38,870.1 288.54,870.1 296.16,870.1" fill="none" stroke="#6a62b0" stroke-width="0.8" stroke-linejoin="round" />
<rect x="170.35" y="852.9" width="2.7" height="2.7" fill="#6a62b0"/>
<rect x="180.51" y="856.86" width="2.7" height="2.7" fill="#6a62b0"/>
<rect x="190.67" y="862.41" width="2.7" height="2.7" fill="#6a62b0"/>
<rect x="198.29" y="865.58" width="2.7" height="2.7" fill="#6a62b0"/>
<rect x="208.45" y="867.96" width="2.7" height="2.7" fill="#6a62b0"/>
<rect x="216.07" y="868.75" width="2.7" height="2.7" fill="#6a62b0"/>
<rect x="226.23" y="868.75" width="2.7" height="2.7" fill="#6a62b0"/>
<rect x="233.85" y="868.75" width="2.7" height="2.7" fill="#6a62b0"/>
<rect x="241.47" y="868.75" width="2.7" height="2.7" fill="#6a62b0"/>
<rect x="251.63" y="868.75" width="2.7" height="2.7" fill="#6a62b0"/>
<rect x="259.25" y="868.75" width="2.7" height="2.7" fill="#6a62b0"/>
<rect x="269.41" y="868.75" width="2.7" height="2.7" fill="#6a62b0"/>
<rect x="277.03" y="868.75" width="2.7" height="2.7" fill="#6a62b0"/>
<rect x="287.19" y="868.75" width="2.7" height="2.7" fill="#6a62b0"/>
<rect x="294.81" y="868.75" width="2.7" height="2.7" fill="#6a62b0"/>
<polyline points="171.7,855.84 181.86,860.59 192.02,865.35 199.64,868.51 209.8,869.7 217.42,870.1 227.58,870.1 235.2,870.1 242.82,870.1 252.98,870.1 260.6,870.1 270.76,870.1 278.38,870.1 288.54,870.1 296.16,870.1" fill="none" stroke="#6a62b0" stroke-width="0.8" stroke-linejoin="round" />
<rect x="170.35" y="854.49" width="2.7" height="2.7" fill="#6a62b0"/>
<rect x="180.51" y="859.24" width="2.7" height="2.7" fill="#6a62b0"/>
<rect x="190.67" y="864" width="2.7" height="2.7" fill="#6a62b0"/>
<rect x="198.29" y="867.16" width="2.7" height="2.7" fill="#6a62b0"/>
<rect x="208.45" y="868.35" width="2.7" height="2.7" fill="#6a62b0"/>
<rect x="216.07" y="868.75" width="2.7" height="2.7" fill="#6a62b0"/>
<rect x="226.23" y="868.75" width="2.7" height="2.7" fill="#6a62b0"/>
<rect x="233.85" y="868.75" width="2.7" height="2.7" fill="#6a62b0"/>
<rect x="241.47" y="868.75" width="2.7" height="2.7" fill="#6a62b0"/>
<rect x="251.63" y="868.75" width="2.7" height="2.7" fill="#6a62b0"/>
<rect x="259.25" y="868.75" width="2.7" height="2.7" fill="#6a62b0"/>
<rect x="269.41" y="868.75" width="2.7" height="2.7" fill="#6a62b0"/>
<rect x="277.03" y="868.75" width="2.7" height="2.7" fill="#6a62b0"/>
<rect x="287.19" y="868.75" width="2.7" height="2.7" fill="#6a62b0"/>
<rect x="294.81" y="868.75" width="2.7" height="2.7" fill="#6a62b0"/>
<polyline points="171.7,857.42 181.86,862.18 192.02,866.93 199.64,869.31 209.8,870.1 217.42,870.1 227.58,870.1 235.2,870.1 242.82,870.1 252.98,870.1 260.6,870.1 270.76,870.1 278.38,870.1 288.54,870.1 296.16,870.1" fill="none" stroke="#6a62b0" stroke-width="0.8" stroke-linejoin="round" />
<rect x="170.35" y="856.07" width="2.7" height="2.7" fill="#6a62b0"/>
<rect x="180.51" y="860.83" width="2.7" height="2.7" fill="#6a62b0"/>
<rect x="190.67" y="865.58" width="2.7" height="2.7" fill="#6a62b0"/>
<rect x="198.29" y="867.96" width="2.7" height="2.7" fill="#6a62b0"/>
<rect x="208.45" y="868.75" width="2.7" height="2.7" fill="#6a62b0"/>
<rect x="216.07" y="868.75" width="2.7" height="2.7" fill="#6a62b0"/>
<rect x="226.23" y="868.75" width="2.7" height="2.7" fill="#6a62b0"/>
<rect x="233.85" y="868.75" width="2.7" height="2.7" fill="#6a62b0"/>
<rect x="241.47" y="868.75" width="2.7" height="2.7" fill="#6a62b0"/>
<rect x="251.63" y="868.75" width="2.7" height="2.7" fill="#6a62b0"/>
<rect x="259.25" y="868.75" width="2.7" height="2.7" fill="#6a62b0"/>
<rect x="269.41" y="868.75" width="2.7" height="2.7" fill="#6a62b0"/>
<rect x="277.03" y="868.75" width="2.7" height="2.7" fill="#6a62b0"/>
<rect x="287.19" y="868.75" width="2.7" height="2.7" fill="#6a62b0"/>
<rect x="294.81" y="868.75" width="2.7" height="2.7" fill="#6a62b0"/>
<polyline points="171.7,854.25 181.86,855.84 192.02,857.42 199.64,858.21 209.8,858.21 217.42,858.21 227.58,858.05 235.2,857.58 242.82,849.5 252.98,845.45 260.6,839.67 270.76,836.82 278.38,823.58 288.54,809.95 296.16,788.87" fill="none" stroke="#e8473f" stroke-width="1.25" stroke-linejoin="round" />
<rect x="169.9" y="852.45" width="3.6" height="3.6" fill="#e8473f"/>
<rect x="180.06" y="854.04" width="3.6" height="3.6" fill="#e8473f"/>
<rect x="190.22" y="855.62" width="3.6" height="3.6" fill="#e8473f"/>
<rect x="197.84" y="856.41" width="3.6" height="3.6" fill="#e8473f"/>
<rect x="208" y="856.41" width="3.6" height="3.6" fill="#e8473f"/>
<rect x="215.62" y="856.41" width="3.6" height="3.6" fill="#e8473f"/>
<rect x="225.78" y="856.25" width="3.6" height="3.6" fill="#e8473f"/>
<rect x="233.4" y="855.78" width="3.6" height="3.6" fill="#e8473f"/>
<rect x="241.02" y="847.7" width="3.6" height="3.6" fill="#e8473f"/>
<rect x="251.18" y="843.65" width="3.6" height="3.6" fill="#e8473f"/>
<rect x="258.8" y="837.87" width="3.6" height="3.6" fill="#e8473f"/>
<rect x="268.96" y="835.02" width="3.6" height="3.6" fill="#e8473f"/>
<rect x="276.58" y="821.78" width="3.6" height="3.6" fill="#e8473f"/>
<rect x="286.74" y="808.15" width="3.6" height="3.6" fill="#e8473f"/>
<rect x="294.36" y="787.07" width="3.6" height="3.6" fill="#e8473f"/>
<polyline points="171.7,855.84 181.86,856.63 192.02,858.21 199.64,858.61 209.8,858.37 217.42,858.21 227.58,858.05 235.2,857.58 242.82,855.28 252.98,851.79 260.6,843.15 270.76,836.82 278.38,831.58 288.54,825.88 296.16,810.9" fill="none" stroke="#e8473f" stroke-width="1.25" stroke-linejoin="round" />
<rect x="169.9" y="854.04" width="3.6" height="3.6" fill="#e8473f"/>
<rect x="180.06" y="854.83" width="3.6" height="3.6" fill="#e8473f"/>
<rect x="190.22" y="856.41" width="3.6" height="3.6" fill="#e8473f"/>
<rect x="197.84" y="856.81" width="3.6" height="3.6" fill="#e8473f"/>
<rect x="208" y="856.57" width="3.6" height="3.6" fill="#e8473f"/>
<rect x="215.62" y="856.41" width="3.6" height="3.6" fill="#e8473f"/>
<rect x="225.78" y="856.25" width="3.6" height="3.6" fill="#e8473f"/>
<rect x="233.4" y="855.78" width="3.6" height="3.6" fill="#e8473f"/>
<rect x="241.02" y="853.48" width="3.6" height="3.6" fill="#e8473f"/>
<rect x="251.18" y="849.99" width="3.6" height="3.6" fill="#e8473f"/>
<rect x="258.8" y="841.36" width="3.6" height="3.6" fill="#e8473f"/>
<rect x="268.96" y="835.02" width="3.6" height="3.6" fill="#e8473f"/>
<rect x="276.58" y="829.78" width="3.6" height="3.6" fill="#e8473f"/>
<rect x="286.74" y="824.08" width="3.6" height="3.6" fill="#e8473f"/>
<rect x="294.36" y="809.1" width="3.6" height="3.6" fill="#e8473f"/>
<polyline points="171.7,858.21 181.86,859.8 192.02,861.38 199.64,862.18 209.8,862.18 217.42,862.18 227.58,862.18 235.2,862.18 242.82,862.18 252.98,861.78 260.6,861.38 270.76,861.38 278.38,860.99 288.54,860.19 296.16,859.8" fill="none" stroke="#e8473f" stroke-width="1.25" stroke-linejoin="round" />
<rect x="169.9" y="856.41" width="3.6" height="3.6" fill="#e8473f"/>
<rect x="180.06" y="858" width="3.6" height="3.6" fill="#e8473f"/>
<rect x="190.22" y="859.58" width="3.6" height="3.6" fill="#e8473f"/>
<rect x="197.84" y="860.38" width="3.6" height="3.6" fill="#e8473f"/>
<rect x="208" y="860.38" width="3.6" height="3.6" fill="#e8473f"/>
<rect x="215.62" y="860.38" width="3.6" height="3.6" fill="#e8473f"/>
<rect x="225.78" y="860.38" width="3.6" height="3.6" fill="#e8473f"/>
<rect x="233.4" y="860.38" width="3.6" height="3.6" fill="#e8473f"/>
<rect x="241.02" y="860.38" width="3.6" height="3.6" fill="#e8473f"/>
<rect x="251.18" y="859.98" width="3.6" height="3.6" fill="#e8473f"/>
<rect x="258.8" y="859.58" width="3.6" height="3.6" fill="#e8473f"/>
<rect x="268.96" y="859.58" width="3.6" height="3.6" fill="#e8473f"/>
<rect x="276.58" y="859.19" width="3.6" height="3.6" fill="#e8473f"/>
<rect x="286.74" y="858.39" width="3.6" height="3.6" fill="#e8473f"/>
<rect x="294.36" y="858" width="3.6" height="3.6" fill="#e8473f"/>
<polyline points="171.7,847.91 181.86,852.67 192.02,859 199.64,860.59 209.8,861.38 217.42,862.18 227.58,862.57 235.2,862.97 242.82,863.36 252.98,863.36 260.6,863.36 270.76,862.97 278.38,862.97 288.54,862.18 296.16,861.38" fill="none" stroke="#e8473f" stroke-width="1.25" stroke-linejoin="round" />
<rect x="169.9" y="846.11" width="3.6" height="3.6" fill="#e8473f"/>
<rect x="180.06" y="850.87" width="3.6" height="3.6" fill="#e8473f"/>
<rect x="190.22" y="857.21" width="3.6" height="3.6" fill="#e8473f"/>
<rect x="197.84" y="858.79" width="3.6" height="3.6" fill="#e8473f"/>
<rect x="208" y="859.58" width="3.6" height="3.6" fill="#e8473f"/>
<rect x="215.62" y="860.38" width="3.6" height="3.6" fill="#e8473f"/>
<rect x="225.78" y="860.77" width="3.6" height="3.6" fill="#e8473f"/>
<rect x="233.4" y="861.17" width="3.6" height="3.6" fill="#e8473f"/>
<rect x="241.02" y="861.56" width="3.6" height="3.6" fill="#e8473f"/>
<rect x="251.18" y="861.56" width="3.6" height="3.6" fill="#e8473f"/>
<rect x="258.8" y="861.56" width="3.6" height="3.6" fill="#e8473f"/>
<rect x="268.96" y="861.17" width="3.6" height="3.6" fill="#e8473f"/>
<rect x="276.58" y="861.17" width="3.6" height="3.6" fill="#e8473f"/>
<rect x="286.74" y="860.38" width="3.6" height="3.6" fill="#e8473f"/>
<rect x="294.36" y="859.58" width="3.6" height="3.6" fill="#e8473f"/>
<polyline points="171.7,860.59 181.86,861.38 192.02,863.76 199.64,865.35 209.8,866.14 217.42,866.93 227.58,867.72 235.2,868.12 242.82,868.51 252.98,868.51 260.6,868.51 270.76,868.51 278.38,868.12 288.54,867.72 296.16,867.72" fill="none" stroke="#e8473f" stroke-width="1.25" stroke-linejoin="round" />
<rect x="169.9" y="858.79" width="3.6" height="3.6" fill="#e8473f"/>
<rect x="180.06" y="859.58" width="3.6" height="3.6" fill="#e8473f"/>
<rect x="190.22" y="861.96" width="3.6" height="3.6" fill="#e8473f"/>
<rect x="197.84" y="863.55" width="3.6" height="3.6" fill="#e8473f"/>
<rect x="208" y="864.34" width="3.6" height="3.6" fill="#e8473f"/>
<rect x="215.62" y="865.13" width="3.6" height="3.6" fill="#e8473f"/>
<rect x="225.78" y="865.92" width="3.6" height="3.6" fill="#e8473f"/>
<rect x="233.4" y="866.32" width="3.6" height="3.6" fill="#e8473f"/>
<rect x="241.02" y="866.72" width="3.6" height="3.6" fill="#e8473f"/>
<rect x="251.18" y="866.72" width="3.6" height="3.6" fill="#e8473f"/>
<rect x="258.8" y="866.72" width="3.6" height="3.6" fill="#e8473f"/>
<rect x="268.96" y="866.72" width="3.6" height="3.6" fill="#e8473f"/>
<rect x="276.58" y="866.32" width="3.6" height="3.6" fill="#e8473f"/>
<rect x="286.74" y="865.92" width="3.6" height="3.6" fill="#e8473f"/>
<rect x="294.36" y="865.92" width="3.6" height="3.6" fill="#e8473f"/>
<polyline points="171.7,862.18 181.86,862.97 192.02,865.35 199.64,866.93 209.8,867.72 217.42,868.51 227.58,869.31 235.2,869.31 242.82,869.31 252.98,869.31 260.6,869.31 270.76,869.31 278.38,869.31 288.54,869.31 296.16,869.31" fill="none" stroke="#e8473f" stroke-width="1.25" stroke-linejoin="round" />
<rect x="169.9" y="860.38" width="3.6" height="3.6" fill="#e8473f"/>
<rect x="180.06" y="861.17" width="3.6" height="3.6" fill="#e8473f"/>
<rect x="190.22" y="863.55" width="3.6" height="3.6" fill="#e8473f"/>
<rect x="197.84" y="865.13" width="3.6" height="3.6" fill="#e8473f"/>
<rect x="208" y="865.92" width="3.6" height="3.6" fill="#e8473f"/>
<rect x="215.62" y="866.72" width="3.6" height="3.6" fill="#e8473f"/>
<rect x="225.78" y="867.51" width="3.6" height="3.6" fill="#e8473f"/>
<rect x="233.4" y="867.51" width="3.6" height="3.6" fill="#e8473f"/>
<rect x="241.02" y="867.51" width="3.6" height="3.6" fill="#e8473f"/>
<rect x="251.18" y="867.51" width="3.6" height="3.6" fill="#e8473f"/>
<rect x="258.8" y="867.51" width="3.6" height="3.6" fill="#e8473f"/>
<rect x="268.96" y="867.51" width="3.6" height="3.6" fill="#e8473f"/>
<rect x="276.58" y="867.51" width="3.6" height="3.6" fill="#e8473f"/>
<rect x="286.74" y="867.51" width="3.6" height="3.6" fill="#e8473f"/>
<rect x="294.36" y="867.51" width="3.6" height="3.6" fill="#e8473f"/>
<polyline points="171.7,859.8 181.86,862.18 192.02,864.55 199.64,866.14 209.8,866.93 217.42,867.72 227.58,868.51 235.2,869.31 242.82,869.7 252.98,869.7 260.6,869.7 270.76,869.7 278.38,869.7 288.54,869.7 296.16,869.7" fill="none" stroke="#e8473f" stroke-width="1.25" stroke-linejoin="round" />
<rect x="169.9" y="858" width="3.6" height="3.6" fill="#e8473f"/>
<rect x="180.06" y="860.38" width="3.6" height="3.6" fill="#e8473f"/>
<rect x="190.22" y="862.75" width="3.6" height="3.6" fill="#e8473f"/>
<rect x="197.84" y="864.34" width="3.6" height="3.6" fill="#e8473f"/>
<rect x="208" y="865.13" width="3.6" height="3.6" fill="#e8473f"/>
<rect x="215.62" y="865.92" width="3.6" height="3.6" fill="#e8473f"/>
<rect x="225.78" y="866.72" width="3.6" height="3.6" fill="#e8473f"/>
<rect x="233.4" y="867.51" width="3.6" height="3.6" fill="#e8473f"/>
<rect x="241.02" y="867.9" width="3.6" height="3.6" fill="#e8473f"/>
<rect x="251.18" y="867.9" width="3.6" height="3.6" fill="#e8473f"/>
<rect x="258.8" y="867.9" width="3.6" height="3.6" fill="#e8473f"/>
<rect x="268.96" y="867.9" width="3.6" height="3.6" fill="#e8473f"/>
<rect x="276.58" y="867.9" width="3.6" height="3.6" fill="#e8473f"/>
<rect x="286.74" y="867.9" width="3.6" height="3.6" fill="#e8473f"/>
<rect x="294.36" y="867.9" width="3.6" height="3.6" fill="#e8473f"/>
<polyline points="171.7,857.42 181.86,859 192.02,862.18 199.64,864.55 209.8,866.14 217.42,867.72 227.58,868.51 235.2,868.91 242.82,869.31 252.98,869.31 260.6,869.31 270.76,869.31 278.38,869.31 288.54,869.31 296.16,869.31" fill="none" stroke="#e8473f" stroke-width="1.25" stroke-linejoin="round" />
<rect x="169.9" y="855.62" width="3.6" height="3.6" fill="#e8473f"/>
<rect x="180.06" y="857.21" width="3.6" height="3.6" fill="#e8473f"/>
<rect x="190.22" y="860.38" width="3.6" height="3.6" fill="#e8473f"/>
<rect x="197.84" y="862.75" width="3.6" height="3.6" fill="#e8473f"/>
<rect x="208" y="864.34" width="3.6" height="3.6" fill="#e8473f"/>
<rect x="215.62" y="865.92" width="3.6" height="3.6" fill="#e8473f"/>
<rect x="225.78" y="866.72" width="3.6" height="3.6" fill="#e8473f"/>
<rect x="233.4" y="867.11" width="3.6" height="3.6" fill="#e8473f"/>
<rect x="241.02" y="867.51" width="3.6" height="3.6" fill="#e8473f"/>
<rect x="251.18" y="867.51" width="3.6" height="3.6" fill="#e8473f"/>
<rect x="258.8" y="867.51" width="3.6" height="3.6" fill="#e8473f"/>
<rect x="268.96" y="867.51" width="3.6" height="3.6" fill="#e8473f"/>
<rect x="276.58" y="867.51" width="3.6" height="3.6" fill="#e8473f"/>
<rect x="286.74" y="867.51" width="3.6" height="3.6" fill="#e8473f"/>
<rect x="294.36" y="867.51" width="3.6" height="3.6" fill="#e8473f"/>
<polyline points="171.7,857.42 181.86,830.48 192.02,807.49 199.64,781.34 203.7,775" fill="none" stroke="#1a1a1a" stroke-width="1" stroke-linejoin="round" />
<circle cx="181.86" cy="830.48" r="1.9" fill="#1a1a1a"/>
<circle cx="192.02" cy="807.49" r="1.9" fill="#1a1a1a"/>
<circle cx="199.64" cy="781.34" r="1.9" fill="#1a1a1a"/>
<polyline points="171.7,857.42 181.86,849.5 192.02,842.36 199.64,826.51 209.8,809.87 217.42,785.3 221.48,775" fill="none" stroke="#1a1a1a" stroke-width="1" stroke-linejoin="round" />
<circle cx="181.86" cy="849.5" r="1.9" fill="#1a1a1a"/>
<circle cx="192.02" cy="842.36" r="1.9" fill="#1a1a1a"/>
<circle cx="199.64" cy="826.51" r="1.9" fill="#1a1a1a"/>
<circle cx="209.8" cy="809.87" r="1.9" fill="#1a1a1a"/>
<circle cx="217.42" cy="785.3" r="1.9" fill="#1a1a1a"/>
<polyline points="171.7,857.42 181.86,850.29 192.02,848.7 199.64,849.5 209.8,842.36 217.42,833.64 227.58,797.19 235.2,779.36" fill="none" stroke="#1a1a1a" stroke-width="1" stroke-linejoin="round" />
<circle cx="181.86" cy="850.29" r="1.9" fill="#1a1a1a"/>
<circle cx="192.02" cy="848.7" r="1.9" fill="#1a1a1a"/>
<circle cx="199.64" cy="849.5" r="1.9" fill="#1a1a1a"/>
<circle cx="209.8" cy="842.36" r="1.9" fill="#1a1a1a"/>
<circle cx="217.42" cy="833.64" r="1.9" fill="#1a1a1a"/>
<circle cx="227.58" cy="797.19" r="1.9" fill="#1a1a1a"/>
<circle cx="235.2" cy="779.36" r="1.9" fill="#1a1a1a"/>
<polyline points="171.7,857.42 181.86,850.29 192.02,843.95 199.64,832.06 209.8,829.68 217.42,826.12 227.58,827.31 235.2,816.21" fill="none" stroke="#1a1a1a" stroke-width="1" stroke-linejoin="round" />
<circle cx="181.86" cy="850.29" r="1.9" fill="#1a1a1a"/>
<circle cx="192.02" cy="843.95" r="1.9" fill="#1a1a1a"/>
<circle cx="199.64" cy="832.06" r="1.9" fill="#1a1a1a"/>
<circle cx="209.8" cy="829.68" r="1.9" fill="#1a1a1a"/>
<circle cx="217.42" cy="826.12" r="1.9" fill="#1a1a1a"/>
<circle cx="227.58" cy="827.31" r="1.9" fill="#1a1a1a"/>
<circle cx="235.2" cy="816.21" r="1.9" fill="#1a1a1a"/>
<polyline points="171.7,857.42 181.86,850.29 192.02,843.15 199.64,836.82 209.8,836.82 217.42,830.48 227.58,825.72 235.2,822.95" fill="none" stroke="#1a1a1a" stroke-width="1" stroke-linejoin="round" />
<circle cx="181.86" cy="850.29" r="1.9" fill="#1a1a1a"/>
<circle cx="192.02" cy="843.15" r="1.9" fill="#1a1a1a"/>
<circle cx="199.64" cy="836.82" r="1.9" fill="#1a1a1a"/>
<circle cx="209.8" cy="836.82" r="1.9" fill="#1a1a1a"/>
<circle cx="217.42" cy="830.48" r="1.9" fill="#1a1a1a"/>
<circle cx="227.58" cy="825.72" r="1.9" fill="#1a1a1a"/>
<circle cx="235.2" cy="822.95" r="1.9" fill="#1a1a1a"/>
<text x="305.4" y="873.1" font-size="7.6" fill="#5b52a3" stroke="#5b52a3" stroke-width="0.2">5/5 CR</text>
<line x1="248.7" y1="767.5" x2="258.3" y2="767.5" stroke="#1a1a1a" stroke-width="1" />
<circle cx="253.5" cy="767.5" r="1.9" fill="#1a1a1a"/>
<text x="260.3" y="770.34" font-size="7.9" stroke="#231f20" stroke-width="0.2">Vehicle</text>
<line x1="248.7" y1="774.7" x2="258.3" y2="774.7" stroke="#e8473f" stroke-width="1" />
<rect x="251.7" y="772.9" width="3.6" height="3.6" fill="#e8473f"/>
<text x="260.3" y="777.54" font-size="7.9" stroke="#231f20" stroke-width="0.2">P–GGFG–DXd</text>
<line x1="248.7" y1="781.9" x2="258.3" y2="781.9" stroke="#5b52a3" stroke-width="1" />
<rect x="251.7" y="780.1" width="3.6" height="3.6" fill="#5b52a3"/>
<text x="260.3" y="784.74" font-size="7.9" stroke="#231f20" stroke-width="0.2">P–T1000–exatecan</text>
<text x="337.2" y="750.8" font-size="10.5" font-weight="bold" stroke="#231f20" stroke-width="0.2">H</text>
<line x1="364.2" y1="772.1" x2="364.2" y2="870.3" stroke="#2b2b2b" stroke-width="1.15" />
<line x1="361.7" y1="869.8" x2="364.2" y2="869.8" stroke="#2b2b2b" stroke-width="1" />
<text x="359.6" y="872.61" font-size="7.8" text-anchor="end" stroke="#231f20" stroke-width="0.2">0</text>
<line x1="361.7" y1="855.83" x2="364.2" y2="855.83" stroke="#2b2b2b" stroke-width="1" />
<text x="359.6" y="858.64" font-size="7.8" text-anchor="end" stroke="#231f20" stroke-width="0.2">100</text>
<line x1="361.7" y1="841.86" x2="364.2" y2="841.86" stroke="#2b2b2b" stroke-width="1" />
<text x="359.6" y="844.67" font-size="7.8" text-anchor="end" stroke="#231f20" stroke-width="0.2">200</text>
<line x1="361.7" y1="827.89" x2="364.2" y2="827.89" stroke="#2b2b2b" stroke-width="1" />
<text x="359.6" y="830.7" font-size="7.8" text-anchor="end" stroke="#231f20" stroke-width="0.2">300</text>
<line x1="361.7" y1="813.92" x2="364.2" y2="813.92" stroke="#2b2b2b" stroke-width="1" />
<text x="359.6" y="816.73" font-size="7.8" text-anchor="end" stroke="#231f20" stroke-width="0.2">400</text>
<line x1="361.7" y1="799.95" x2="364.2" y2="799.95" stroke="#2b2b2b" stroke-width="1" />
<text x="359.6" y="802.76" font-size="7.8" text-anchor="end" stroke="#231f20" stroke-width="0.2">500</text>
<line x1="361.7" y1="785.98" x2="364.2" y2="785.98" stroke="#2b2b2b" stroke-width="1" />
<text x="359.6" y="788.79" font-size="7.8" text-anchor="end" stroke="#231f20" stroke-width="0.2">600</text>
<line x1="361.7" y1="772.01" x2="364.2" y2="772.01" stroke="#2b2b2b" stroke-width="1" />
<text x="359.6" y="774.82" font-size="7.8" text-anchor="end" stroke="#231f20" stroke-width="0.2">700</text>
<line x1="364.2" y1="869.6" x2="507.8" y2="869.6" stroke="#2b2b2b" stroke-width="1.15" />
<line x1="364.2" y1="869.6" x2="364.2" y2="872.1" stroke="#2b2b2b" stroke-width="1" />
<text x="364.2" y="881.14" font-size="7.6" text-anchor="middle" stroke="#231f20" stroke-width="0.2">0</text>
<line x1="384.64" y1="869.6" x2="384.64" y2="872.1" stroke="#2b2b2b" stroke-width="1" />
<text x="384.64" y="881.14" font-size="7.6" text-anchor="middle" stroke="#231f20" stroke-width="0.2">7</text>
<line x1="405.08" y1="869.6" x2="405.08" y2="872.1" stroke="#2b2b2b" stroke-width="1" />
<text x="405.08" y="881.14" font-size="7.6" text-anchor="middle" stroke="#231f20" stroke-width="0.2">14</text>
<line x1="425.52" y1="869.6" x2="425.52" y2="872.1" stroke="#2b2b2b" stroke-width="1" />
<text x="425.52" y="881.14" font-size="7.6" text-anchor="middle" stroke="#231f20" stroke-width="0.2">21</text>
<line x1="445.96" y1="869.6" x2="445.96" y2="872.1" stroke="#2b2b2b" stroke-width="1" />
<text x="445.96" y="881.14" font-size="7.6" text-anchor="middle" stroke="#231f20" stroke-width="0.2">28</text>
<line x1="466.4" y1="869.6" x2="466.4" y2="872.1" stroke="#2b2b2b" stroke-width="1" />
<text x="466.4" y="881.14" font-size="7.6" text-anchor="middle" stroke="#231f20" stroke-width="0.2">35</text>
<line x1="486.84" y1="869.6" x2="486.84" y2="872.1" stroke="#2b2b2b" stroke-width="1" />
<text x="486.84" y="881.14" font-size="7.6" text-anchor="middle" stroke="#231f20" stroke-width="0.2">42</text>
<line x1="507.28" y1="869.6" x2="507.28" y2="872.1" stroke="#2b2b2b" stroke-width="1" />
<text x="507.28" y="881.14" font-size="7.6" text-anchor="middle" stroke="#231f20" stroke-width="0.2">49</text>
<text transform="translate(344.39,819.6) rotate(-90)" font-size="7.55" text-anchor="middle" stroke="#231f20" stroke-width="0.2">Tumor volume ± SEM (mm³)</text>
<line x1="363.9" y1="888.9" x2="363.9" y2="892.9" stroke="#c8524c" stroke-width="1.2"/>
<polygon points="363.9,882.1 366.55,889.4 361.25,889.4" fill="#e6524a"/>
<text x="363.9" y="900.8" font-size="7.2" fill="#cf4a44" text-anchor="middle" font-weight="bold" stroke="#cf4a44" stroke-width="0.2">i.v.</text>
<line x1="384.5" y1="888.9" x2="384.5" y2="892.9" stroke="#c8524c" stroke-width="1.2"/>
<polygon points="384.5,882.1 387.15,889.4 381.85,889.4" fill="#e6524a"/>
<text x="384.5" y="900.8" font-size="7.2" fill="#cf4a44" text-anchor="middle" font-weight="bold" stroke="#cf4a44" stroke-width="0.2">i.v.</text>
<text x="397.4" y="892" font-size="7.7" stroke="#231f20" stroke-width="0.2">Days after administration</text>
<line x1="364.2" y1="847.5" x2="364.2" y2="841.7" stroke="#5b52a3" stroke-width="1.15" />
<line x1="362.2" y1="841.7" x2="366.2" y2="841.7" stroke="#5b52a3" stroke-width="1.15" />
<line x1="375.8" y1="848.8" x2="375.8" y2="843" stroke="#5b52a3" stroke-width="1.15" />
<line x1="373.8" y1="843" x2="377.8" y2="843" stroke="#5b52a3" stroke-width="1.15" />
<line x1="408" y1="862.9" x2="408" y2="860" stroke="#5b52a3" stroke-width="1.15" />
<line x1="406" y1="860" x2="410" y2="860" stroke="#5b52a3" stroke-width="1.15" />
<polyline points="364.2,847.5 375.8,848.8 387.3,859 396.3,861.5 408,862.9 416.6,869.2 428.2,869.4 436.9,869.4 448.5,869.4 457.2,869.4 468.8,869.4 478,869.4 489.5,869.4 498.2,869.4" fill="none" stroke="#5b52a3" stroke-width="1.1" stroke-linejoin="round" />
<rect x="362.22" y="845.52" width="3.96" height="3.96" fill="#5b52a3"/>
<rect x="373.82" y="846.82" width="3.96" height="3.96" fill="#5b52a3"/>
<rect x="385.32" y="857.02" width="3.96" height="3.96" fill="#5b52a3"/>
<rect x="394.32" y="859.52" width="3.96" height="3.96" fill="#5b52a3"/>
<rect x="406.02" y="860.92" width="3.96" height="3.96" fill="#5b52a3"/>
<rect x="414.62" y="867.22" width="3.96" height="3.96" fill="#5b52a3"/>
<rect x="426.22" y="867.42" width="3.96" height="3.96" fill="#5b52a3"/>
<rect x="434.92" y="867.42" width="3.96" height="3.96" fill="#5b52a3"/>
<rect x="446.52" y="867.42" width="3.96" height="3.96" fill="#5b52a3"/>
<rect x="455.22" y="867.42" width="3.96" height="3.96" fill="#5b52a3"/>
<rect x="466.82" y="867.42" width="3.96" height="3.96" fill="#5b52a3"/>
<rect x="476.02" y="867.42" width="3.96" height="3.96" fill="#5b52a3"/>
<rect x="487.52" y="867.42" width="3.96" height="3.96" fill="#5b52a3"/>
<rect x="496.22" y="867.42" width="3.96" height="3.96" fill="#5b52a3"/>
<line x1="364.2" y1="847.5" x2="364.2" y2="838.8" stroke="#e8473f" stroke-width="1.15" />
<line x1="362.2" y1="838.8" x2="366.2" y2="838.8" stroke="#e8473f" stroke-width="1.15" />
<line x1="375.8" y1="846.5" x2="375.8" y2="840.4" stroke="#e8473f" stroke-width="1.15" />
<line x1="373.8" y1="840.4" x2="377.8" y2="840.4" stroke="#e8473f" stroke-width="1.15" />
<line x1="387.3" y1="851.3" x2="387.3" y2="844.2" stroke="#e8473f" stroke-width="1.15" />
<line x1="385.3" y1="844.2" x2="389.3" y2="844.2" stroke="#e8473f" stroke-width="1.15" />
<line x1="396.3" y1="854.2" x2="396.3" y2="846.5" stroke="#e8473f" stroke-width="1.15" />
<line x1="394.3" y1="846.5" x2="398.3" y2="846.5" stroke="#e8473f" stroke-width="1.15" />
<line x1="408" y1="855.3" x2="408" y2="848.2" stroke="#e8473f" stroke-width="1.15" />
<line x1="406" y1="848.2" x2="410" y2="848.2" stroke="#e8473f" stroke-width="1.15" />
<line x1="416.6" y1="856.9" x2="416.6" y2="848.6" stroke="#e8473f" stroke-width="1.15" />
<line x1="414.6" y1="848.6" x2="418.6" y2="848.6" stroke="#e8473f" stroke-width="1.15" />
<line x1="428.2" y1="858" x2="428.2" y2="848.8" stroke="#e8473f" stroke-width="1.15" />
<line x1="426.2" y1="848.8" x2="430.2" y2="848.8" stroke="#e8473f" stroke-width="1.15" />
<line x1="436.9" y1="858.1" x2="436.9" y2="848.2" stroke="#e8473f" stroke-width="1.15" />
<line x1="434.9" y1="848.2" x2="438.9" y2="848.2" stroke="#e8473f" stroke-width="1.15" />
<line x1="448.5" y1="854.2" x2="448.5" y2="839.6" stroke="#e8473f" stroke-width="1.15" />
<line x1="446.5" y1="839.6" x2="450.5" y2="839.6" stroke="#e8473f" stroke-width="1.15" />
<line x1="457.2" y1="851.9" x2="457.2" y2="832.7" stroke="#e8473f" stroke-width="1.15" />
<line x1="455.2" y1="832.7" x2="459.2" y2="832.7" stroke="#e8473f" stroke-width="1.15" />
<line x1="468.8" y1="846.5" x2="468.8" y2="822.3" stroke="#e8473f" stroke-width="1.15" />
<line x1="466.8" y1="822.3" x2="470.8" y2="822.3" stroke="#e8473f" stroke-width="1.15" />
<line x1="478" y1="843.5" x2="478" y2="815.4" stroke="#e8473f" stroke-width="1.15" />
<line x1="476" y1="815.4" x2="480" y2="815.4" stroke="#e8473f" stroke-width="1.15" />
<line x1="489.5" y1="836.6" x2="489.5" y2="798.1" stroke="#e8473f" stroke-width="1.15" />
<line x1="487.5" y1="798.1" x2="491.5" y2="798.1" stroke="#e8473f" stroke-width="1.15" />
<line x1="498.2" y1="828.8" x2="498.2" y2="779.6" stroke="#e8473f" stroke-width="1.15" />
<line x1="496.2" y1="779.6" x2="500.2" y2="779.6" stroke="#e8473f" stroke-width="1.15" />
<polyline points="364.2,847.5 375.8,846.5 387.3,851.3 396.3,854.2 408,855.3 416.6,856.9 428.2,858 436.9,858.1 448.5,854.2 457.2,851.9 468.8,846.5 478,843.5 489.5,836.6 498.2,828.8" fill="none" stroke="#e8473f" stroke-width="1.1" stroke-linejoin="round" />
<circle cx="364.2" cy="847.5" r="2.09" fill="#e8473f"/>
<circle cx="375.8" cy="846.5" r="2.09" fill="#e8473f"/>
<circle cx="387.3" cy="851.3" r="2.09" fill="#e8473f"/>
<circle cx="396.3" cy="854.2" r="2.09" fill="#e8473f"/>
<circle cx="408" cy="855.3" r="2.09" fill="#e8473f"/>
<circle cx="416.6" cy="856.9" r="2.09" fill="#e8473f"/>
<circle cx="428.2" cy="858" r="2.09" fill="#e8473f"/>
<circle cx="436.9" cy="858.1" r="2.09" fill="#e8473f"/>
<circle cx="448.5" cy="854.2" r="2.09" fill="#e8473f"/>
<circle cx="457.2" cy="851.9" r="2.09" fill="#e8473f"/>
<circle cx="468.8" cy="846.5" r="2.09" fill="#e8473f"/>
<circle cx="478" cy="843.5" r="2.09" fill="#e8473f"/>
<circle cx="489.5" cy="836.6" r="2.09" fill="#e8473f"/>
<circle cx="498.2" cy="828.8" r="2.09" fill="#e8473f"/>
<line x1="501.5" y1="828.3" x2="510.4" y2="828.3" stroke="#555" stroke-width="0.8" />
<line x1="510.4" y1="828.3" x2="510.4" y2="868.6" stroke="#555" stroke-width="0.8" />
<line x1="506.5" y1="868.6" x2="510.4" y2="868.6" stroke="#555" stroke-width="0.8" />
<text transform="translate(513.2,847.5) rotate(90)" font-size="7.9" text-anchor="middle" stroke="#231f20" stroke-width="0.2"><tspan font-weight="bold">****</tspan><tspan font-style="italic">P</tspan> &lt; <tspan font-style="italic">0.0001</tspan></text>
<line x1="379" y1="771.5" x2="387.7" y2="771.5" stroke="#e8473f" stroke-width="1" />
<circle cx="383.35" cy="771.5" r="1.9" fill="#e8473f"/>
<text x="390" y="774.34" font-size="7.9" stroke="#231f20" stroke-width="0.2">P–GGFG–DXd</text>
<line x1="379" y1="779.8" x2="387.7" y2="779.8" stroke="#5b52a3" stroke-width="1" />
<rect x="381.55" y="778" width="3.6" height="3.6" fill="#5b52a3"/>
<text x="390" y="782.64" font-size="7.9" stroke="#231f20" stroke-width="0.2">P–T1000–exatecan</text></svg>
</body></html>
